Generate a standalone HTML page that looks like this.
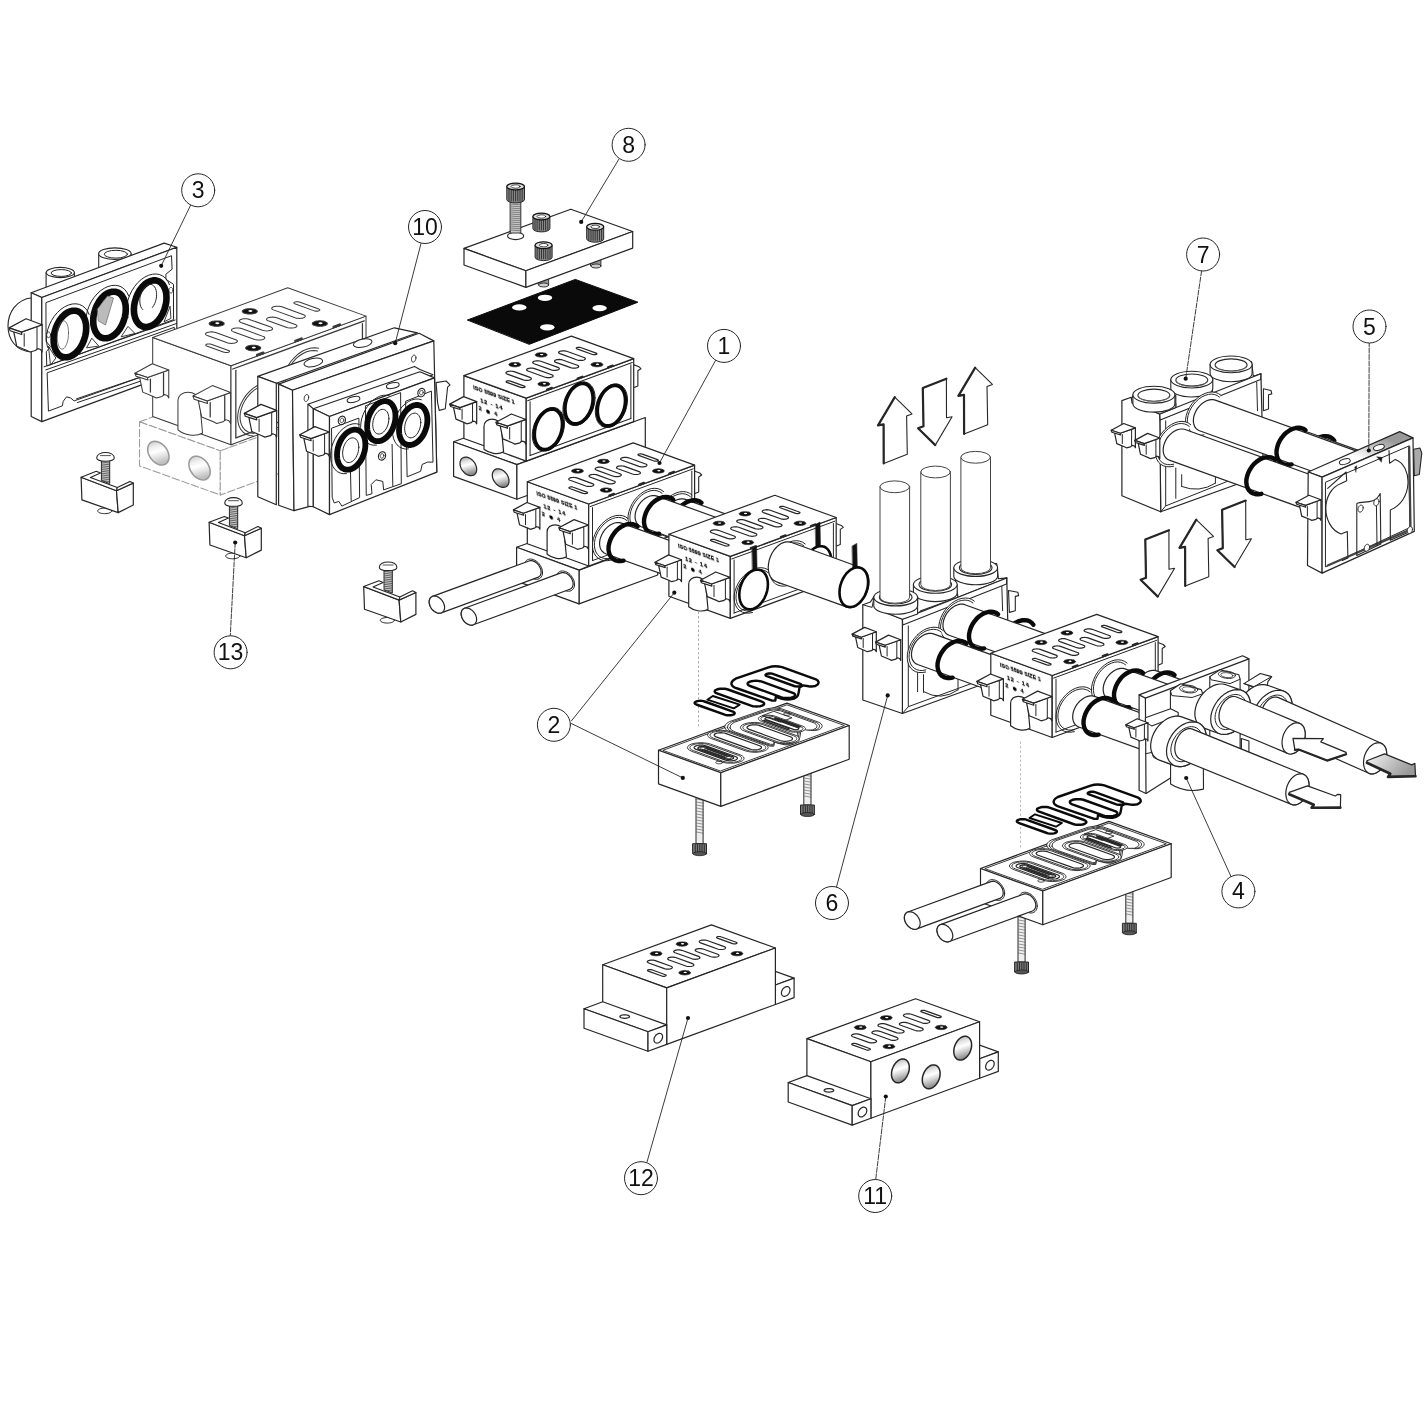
<!DOCTYPE html>
<html><head><meta charset="utf-8"><title>Exploded view</title>
<style>
html,body{margin:0;padding:0;background:#fff;}
svg{display:block;filter:blur(0.35px)}
text{font-family:"Liberation Sans",sans-serif;}
</style></head><body>
<svg width="1425" height="1425" viewBox="0 0 1425 1425" stroke-linejoin="round" stroke-linecap="round">
<defs><linearGradient id="gport" x1="0" y1="0" x2="0.25" y2="1"><stop offset="0" stop-color="#9a9a9a"/><stop offset="0.3" stop-color="#e2e2e2"/><stop offset="0.5" stop-color="#fff"/><stop offset="0.72" stop-color="#cfcfcf"/><stop offset="1" stop-color="#8a8a8a"/></linearGradient><filter id="gray" x="-5%" y="-50%" width="110%" height="200%"><feOffset dx="0" dy="0"/></filter></defs>
<rect x="0" y="0" width="1425" height="1425" fill="#fff"/>
<path d="M32 297.8 C0 301.2 0 351.7 32 351.7 L32 297.8 Z" fill="#fff" stroke="#262626" stroke-width="1.1" />
<path d="M46.1 272.5 L46.1 288.5 L74.4 282.5 L74.4 272.5 Z" fill="#fff" stroke="#262626" stroke-width="1.1" />
<ellipse cx="60.3" cy="272.5" rx="14.1" ry="5.1" fill="#fff" stroke="#262626" stroke-width="1.1"/>
<ellipse cx="61.3" cy="273" rx="10.2" ry="3.4" fill="#fff" stroke="#262626" stroke-width="1"/>
<path d="M98.7 253.7 L98.7 269.7 L131 263.7 L131 253.7 Z" fill="#fff" stroke="#262626" stroke-width="1.1" />
<ellipse cx="114.9" cy="253.7" rx="16.2" ry="5.8" fill="#fff" stroke="#262626" stroke-width="1.1"/>
<ellipse cx="115.9" cy="254.2" rx="11.6" ry="3.9" fill="#fff" stroke="#262626" stroke-width="1"/>
<path d="M31.2 292.7 L164.2 243.1 L176.8 247.3 L41.8 297.5 Z" fill="#fff" stroke="#262626" stroke-width="1.2" />
<path d="M31.2 292.7 L41.8 297.5 L41.8 421.6 L31.2 416.5 Z" fill="#fff" stroke="#262626" stroke-width="1.2" />
<path d="M41.8 297.5 L176.8 247.3 L176.8 371.9 L41.8 421.6 Z" fill="#fff" stroke="#262626" stroke-width="1.2" />
<path d="M46.3 302.5 L171.5 255.7 L172.1 269.2 L165.9 274.2 L165.9 279.3 L173.5 284.3 L173.5 319.7 L46.8 366 L46.3 351.7 L50.5 346.6 L46.3 341.6 Z" fill="none" stroke="#262626" stroke-width="1" />
<path d="M44.1 366.8 L175.2 320" fill="none" stroke="#262626" stroke-width="1" />
<path d="M45.8 369.9 L176.8 323.4" fill="none" stroke="#262626" stroke-width="1" />
<path d="M47.5 372.7 L174.3 327.3 L174.3 365.2 L141.5 376.9 L74.1 400.9 L70.7 398 L66.5 396.8 L63.2 401.4 L62.3 405.9 L48.8 411 Z" fill="none" stroke="#262626" stroke-width="1" />
<path d="M76.6 398.8 L143.2 376.1" fill="none" stroke="#262626" stroke-width="1" />
<path d="M77.5 402.5 L144 380" fill="none" stroke="#262626" stroke-width="1" />
<path d="M48.5 346.6 L50.5 365.2 L55.6 358.4 Z" fill="none" stroke="#262626" stroke-width="0.9" />
<path d="M86.7 347.5 L91.8 338.2 L98.5 345.8 Z" fill="none" stroke="#262626" stroke-width="0.9" />
<path d="M121.3 336.5 L128 326.4 L134.7 333.2 Z" fill="none" stroke="#262626" stroke-width="0.9" />
<path d="M164.2 321.4 L170.1 306.2 L170.9 318 Z" fill="none" stroke="#262626" stroke-width="0.9" />
<path d="M50.5 334.8 L50.5 335.3 L50.4 335.8 L50.2 336.2 L50 336.6 L49.8 337 L49.5 337.3 L49.2 337.5 L48.9 337.6 L48.5 337.6 L48.2 337.6 L47.8 337.5 L47.5 337.3 L47.2 337 L47 336.6 L46.8 336.2 L46.6 335.8 L46.5 335.3 L46.5 334.8 L46.5 334.4 L46.6 333.9 L46.8 333.4 L47 333 L47.2 332.7 L47.5 332.4 L47.8 332.2 L48.2 332.1 L48.5 332 L48.9 332.1 L49.2 332.2 L49.5 332.4 L49.8 332.7 L50 333 L50.2 333.4 L50.4 333.9 L50.5 334.4 L50.5 334.8 Z" fill="none" stroke="#262626" stroke-width="0.9" />
<path d="M172.9 290.2 L172.9 290.7 L172.8 291.2 L172.7 291.6 L172.5 292 L172.2 292.4 L171.9 292.6 L171.6 292.8 L171.3 293 L170.9 293 L170.6 293 L170.3 292.8 L169.9 292.6 L169.7 292.4 L169.4 292 L169.2 291.6 L169.1 291.2 L169 290.7 L168.9 290.2 L169 289.7 L169.1 289.3 L169.2 288.8 L169.4 288.4 L169.7 288.1 L169.9 287.8 L170.3 287.6 L170.6 287.5 L170.9 287.4 L171.3 287.5 L171.6 287.6 L171.9 287.8 L172.2 288.1 L172.5 288.4 L172.7 288.8 L172.8 289.3 L172.9 289.7 L172.9 290.2 Z" fill="none" stroke="#262626" stroke-width="0.9" />
<path d="M89.1 314.5 L87.5 311 L85.3 308.1 L82.5 305.9 L79.4 304.4 L75.9 303.8 L72.2 304 L68.4 305 L64.6 306.8 L60.9 309.3 L57.4 312.5 L54.2 316.3 L51.5 320.5 L49.3 325 L47.7 329.7 L46.7 334.4 L46.4 339.1 L46.7 343.5 L47.7 347.5" fill="none" stroke="#262626" stroke-width="1" />
<path d="M128.7 296 L127 292.5 L124.8 289.6 L122.1 287.4 L119 285.9 L115.5 285.3 L111.8 285.5 L108 286.5 L104.2 288.3 L100.4 290.8 L97 294 L93.8 297.7 L91.1 301.9 L88.9 306.5 L87.3 311.2 L86.3 315.9 L86 320.6 L86.3 324.9 L87.3 329" fill="none" stroke="#262626" stroke-width="1" />
<path d="M169.4 284.7 L167.8 281.2 L165.6 278.3 L162.9 276.1 L159.7 274.6 L156.3 274 L152.6 274.2 L148.7 275.2 L144.9 277 L141.2 279.5 L137.7 282.7 L134.6 286.5 L131.9 290.7 L129.7 295.2 L128 299.9 L127 304.6 L126.7 309.3 L127 313.7 L128 317.7" fill="none" stroke="#262626" stroke-width="1" />
<path d="M86.2 328 L86 324.2 L85.2 320.6 L84 317.5 L82.4 314.9 L80.4 312.8 L78.1 311.4 L75.5 310.7 L72.7 310.7 L69.9 311.4 L67.1 312.8 L64.3 314.8 L61.7 317.4 L59.4 320.5 L57.4 324.1 L55.8 327.9 L54.6 331.9 L53.8 336 L53.6 340 L53.8 343.8 L54.6 347.4 L55.8 350.5 L57.4 353.1 L59.4 355.2 L61.7 356.6 L64.3 357.3 L67.1 357.3 L69.9 356.6 L72.7 355.2 L75.5 353.2 L78.1 350.6 L80.4 347.5 L82.4 343.9 L84 340.1 L85.2 336.1 L86 332 L86.2 328 Z" fill="#fff" stroke="#0a0a0a" stroke-width="6.6" />
<path d="M125.8 309 L125.6 305.2 L124.8 301.6 L123.6 298.5 L122 295.9 L120 293.8 L117.7 292.4 L115.1 291.7 L112.3 291.7 L109.5 292.4 L106.7 293.8 L103.9 295.8 L101.3 298.4 L99 301.5 L97 305.1 L95.4 308.9 L94.2 312.9 L93.4 317 L93.2 321 L93.4 324.8 L94.2 328.4 L95.4 331.5 L97 334.1 L99 336.2 L101.3 337.6 L103.9 338.3 L106.7 338.3 L109.5 337.6 L112.3 336.2 L115.1 334.2 L117.7 331.6 L120 328.5 L122 324.9 L123.6 321.1 L124.8 317.1 L125.6 313 L125.8 309 Z" fill="#fff" stroke="#0a0a0a" stroke-width="6.6" />
<path d="M166.5 297.7 L166.3 293.9 L165.5 290.3 L164.3 287.2 L162.7 284.6 L160.7 282.5 L158.4 281.1 L155.8 280.4 L153 280.4 L150.2 281.1 L147.4 282.5 L144.6 284.5 L142 287.1 L139.7 290.2 L137.7 293.8 L136.1 297.6 L134.9 301.6 L134.1 305.7 L133.9 309.7 L134.1 313.5 L134.9 317.1 L136.1 320.2 L137.7 322.8 L139.7 324.9 L142 326.3 L144.6 327 L147.4 327 L150.2 326.3 L153 324.9 L155.8 322.9 L158.4 320.3 L160.7 317.2 L162.7 313.6 L164.3 309.8 L165.5 305.8 L166.3 301.7 L166.5 297.7 Z" fill="#fff" stroke="#0a0a0a" stroke-width="6.6" />
<path d="M68.5 332.9 L68.4 330.5 L68.2 328.3 L67.8 326.2 L67.2 324.4 L66.5 322.9 L65.7 321.8 L64.8 321.1 L63.9 320.9 L62.9 321 L61.9 321.6 L61 322.6 L60.1 323.9 L59.3 325.6 L58.6 327.6 L58 329.8 L57.6 332.2 L57.4 334.6 L57.3 337.1 L57.4 339.5 L57.6 341.7 L58 343.8 L58.6 345.6 L59.3 347.1 L60.1 348.2 L61 348.9 L61.9 349.1 L62.9 349 L63.9 348.4 L64.8 347.4 L65.7 346.1 L66.5 344.4 L67.2 342.4 L67.8 340.2 L68.2 337.8 L68.4 335.4 L68.5 332.9 Z" fill="none" stroke="#555" stroke-width="0.8" />
<path d="M97.5 309 L107.5 296 L113.5 298 L105.5 325 L98.5 321 Z" fill="#bbb" stroke="#666" stroke-width="0.7" />
<path d="M152.4 307.4 L153.6 305.7 L154.7 303.7 L155.5 301.5 L156.1 299.2 L156.5 296.9 L156.6 294.6 L156.5 292.4 L156.1 290.3 L155.5 288.5 L154.7 287 L153.6 285.8 L152.4 284.9 L151.1 284.4 L149.7 284.4 L148.2 284.7 L146.7 285.4 L145.3 286.5 L144 288 L142.8 289.7 L141.7 291.7 L140.9 293.9 L140.3 296.2 L139.9 298.5 L139.8 300.8 L139.9 303 L140.3 305.1 L140.9 306.9 L141.7 308.4 L142.8 309.6" fill="none" stroke="#262626" stroke-width="1" />
<path d="M13.8 332.1 L16.7 346.2 L27 350.5 L29.9 352 L35.5 350.5 L37.8 348.6 L40.6 349.5 L42.1 352 L42.1 324.7 L21.4 332.1 Z" fill="#fff" stroke="#262626" stroke-width="1.2" />
<path d="M9.1 327.9 L26.1 318.7 L42.1 324.7 L21.4 332.1 Z" fill="#fff" stroke="#262626" stroke-width="1.2" />
<path d="M9.1 327.9 L10.1 330.7 L21.8 334.5 L21.4 332.1 Z" fill="#fff" stroke="#262626" stroke-width="1.2" />
<path d="M24.2 333.7 L24.2 346.2" fill="none" stroke="#262626" stroke-width="1" />
<path d="M37 327.4 L37 349" fill="none" stroke="#262626" stroke-width="1" />
<path d="M145.7 376.3 L147.7 386.4 L155.1 389.5 L157.2 390.5 L161.2 389.5 L162.9 388.1 L164.9 388.7 L165.9 390.5 L165.9 371.1 L151.1 376.3 Z" fill="#fff" stroke="#262626" stroke-width="1.2" />
<path d="M142.3 373.3 L154.5 366.7 L165.9 371.1 L151.1 376.3 Z" fill="#fff" stroke="#262626" stroke-width="1.2" />
<path d="M142.3 373.3 L143 375.3 L151.4 378 L151.1 376.3 Z" fill="#fff" stroke="#262626" stroke-width="1.2" />
<path d="M153.1 377.5 L153.1 386.4" fill="none" stroke="#262626" stroke-width="1" />
<path d="M162.2 373 L162.2 388.4" fill="none" stroke="#262626" stroke-width="1" />
<g transform="translate(152.7 337.4) scale(1.275) translate(-152.7 -337.4)">
<path d="M142.4 403.6 L153.6 399.5 L217 422.3 L205.7 426.4 Z" fill="#fff" stroke="#999" stroke-width="0.8" stroke-dasharray="6 2"/>
<path d="M142.4 403.6 L205.7 426.4 L205.7 461 L142.4 438.2 Z" fill="#fff" stroke="#999" stroke-width="0.8" stroke-dasharray="6 2"/>
<path d="M205.7 426.4 L334.1 379.3 L334.1 413.9 L205.7 461 Z" fill="#fff" stroke="#999" stroke-width="0.8" stroke-dasharray="6 2"/>
<path d="M165.5 431.2 L165.4 429.7 L165 428 L164.4 426.4 L163.6 424.9 L162.5 423.4 L161.3 422.1 L160 421 L158.6 420.1 L157.1 419.4 L155.7 419 L154.3 418.9 L153 419.1 L151.8 419.5 L150.7 420.2 L149.9 421.2 L149.3 422.4 L148.9 423.7 L148.8 425.2 L148.9 426.8 L149.3 428.4 L149.9 430 L150.7 431.6 L151.8 433 L153 434.3 L154.3 435.5 L155.7 436.4 L157.1 437 L158.6 437.4 L160 437.5 L161.3 437.3 L162.5 436.9 L163.6 436.2 L164.4 435.2 L165 434.1 L165.4 432.7 L165.5 431.2 Z" fill="url(#gport)" stroke="#999" stroke-width="1.2" fill-opacity="0.55"/>
<path d="M197.8 442.9 L197.7 441.3 L197.3 439.7 L196.7 438.1 L195.9 436.5 L194.9 435.1 L193.7 433.8 L192.3 432.6 L190.9 431.7 L189.5 431.1 L188 430.7 L186.6 430.6 L185.3 430.7 L184.1 431.2 L183.1 431.9 L182.2 432.9 L181.6 434 L181.2 435.4 L181.1 436.9 L181.2 438.4 L181.6 440.1 L182.2 441.7 L183.1 443.2 L184.1 444.7 L185.3 446 L186.6 447.1 L188 448 L189.5 448.7 L190.9 449.1 L192.3 449.2 L193.7 449 L194.9 448.6 L195.9 447.8 L196.7 446.9 L197.3 445.7 L197.7 444.4 L197.8 442.9 Z" fill="url(#gport)" stroke="#999" stroke-width="1.2" fill-opacity="0.55"/>
<path d="M152.7 337.4 L214.1 359.6 L214.1 421.6 L152.7 399.4 Z" fill="#fff" stroke="#3a3a3a" stroke-width="0.8" />
<path d="M214.1 359.6 L320 320.7 L320 382.7 L214.1 421.6 Z" fill="#fff" stroke="#3a3a3a" stroke-width="0.8" />
<path d="M152.7 337.4 L258.6 298.5 L320 320.7 L214.1 359.6 Z" fill="#fff" stroke="#3a3a3a" stroke-width="0.8" />
<path d="M215.5 362.2 L318.6 324.4" fill="none" stroke="#3a3a3a" stroke-width="1" />
<path d="M217.9 363.2 L217.9 416.2" fill="none" stroke="#3a3a3a" stroke-width="1" />
<path d="M317.2 326.7 L317.2 379.7" fill="none" stroke="#3a3a3a" stroke-width="1" />
<path d="M217.9 416.2 L317.2 379.7" fill="none" stroke="#3a3a3a" stroke-width="1" />
<path d="M234.7 351.2 L239.4 349.5" fill="none" stroke="#3a3a3a" stroke-width="2.2" />
<path d="M264.7 340.2 L269.4 338.5" fill="none" stroke="#3a3a3a" stroke-width="2.2" />
<path d="M294.7 329.2 L299.4 327.5" fill="none" stroke="#3a3a3a" stroke-width="2.2" />
<path d="M208.6 349 L209.2 349.1 L209.8 349.2 L210.4 349.3 L211.1 349.2 L211.7 349.1 L212.2 349 L212.6 348.8 L212.9 348.6 L212.9 348.3 L212.9 348.1 L212.6 347.9 L212.2 347.7 L198.6 342.8 L198.1 342.6 L197.5 342.5 L196.8 342.5 L196.1 342.5 L195.5 342.6 L195 342.8 L194.6 343 L194.4 343.2 L194.3 343.4 L194.4 343.7 L194.6 343.9 L195 344.1 Z" fill="#fff" stroke="#3a3a3a" stroke-width="0.8" />
<path d="M211.2 341.6 L212.2 341.9 L213.3 342 L214.5 342.1 L215.7 342 L216.9 341.9 L217.8 341.6 L218.6 341.2 L219 340.8 L219.2 340.4 L219 339.9 L218.5 339.5 L217.8 339.2 L202.1 333.5 L201.1 333.3 L200 333.1 L198.8 333 L197.6 333.1 L196.4 333.3 L195.5 333.5 L194.7 333.9 L194.3 334.3 L194.1 334.7 L194.3 335.2 L194.8 335.6 L195.5 335.9 Z" fill="#fff" stroke="#3a3a3a" stroke-width="0.8" />
<path d="M232.7 339 L233.7 339.2 L234.8 339.4 L236 339.5 L237.2 339.4 L238.3 339.2 L239.3 339 L240 338.6 L240.5 338.2 L240.6 337.8 L240.5 337.3 L240 336.9 L239.2 336.6 L222.4 330.5 L221.4 330.2 L220.3 330.1 L219.1 330 L217.9 330.1 L216.8 330.2 L215.8 330.5 L215.1 330.8 L214.6 331.3 L214.5 331.7 L214.6 332.1 L215.1 332.5 L215.9 332.9 Z" fill="#fff" stroke="#3a3a3a" stroke-width="0.8" />
<path d="M238.8 331.8 L239.7 332 L240.9 332.2 L242.1 332.3 L243.3 332.2 L244.4 332 L245.4 331.8 L246.1 331.4 L246.6 331 L246.7 330.5 L246.6 330.1 L246.1 329.7 L245.3 329.3 L228.5 323.3 L227.5 323 L226.4 322.8 L225.2 322.8 L224 322.8 L222.9 323 L221.9 323.3 L221.2 323.6 L220.7 324 L220.5 324.5 L220.7 324.9 L221.2 325.3 L221.9 325.7 Z" fill="#fff" stroke="#3a3a3a" stroke-width="0.8" />
<path d="M257.9 329.6 L258.9 329.9 L260 330.1 L261.2 330.1 L262.4 330.1 L263.5 329.9 L264.5 329.6 L265.2 329.3 L265.7 328.9 L265.8 328.4 L265.7 328 L265.2 327.6 L264.5 327.2 L249.9 322 L248.9 321.7 L247.8 321.6 L246.6 321.5 L245.4 321.6 L244.3 321.7 L243.3 322 L242.6 322.3 L242.1 322.8 L242 323.2 L242.1 323.6 L242.6 324.1 L243.3 324.4 Z" fill="#fff" stroke="#3a3a3a" stroke-width="0.8" />
<path d="M264.4 322 L265.4 322.3 L266.5 322.4 L267.8 322.5 L269 322.4 L270.1 322.3 L271 322 L271.8 321.6 L272.2 321.2 L272.4 320.8 L272.2 320.3 L271.7 319.9 L271 319.6 L254 313.4 L253 313.2 L251.9 313 L250.7 312.9 L249.5 313 L248.3 313.2 L247.4 313.4 L246.6 313.8 L246.2 314.2 L246 314.6 L246.2 315.1 L246.7 315.5 L247.4 315.8 Z" fill="#fff" stroke="#3a3a3a" stroke-width="0.8" />
<path d="M279.4 316.6 L280 316.7 L280.6 316.8 L281.2 316.8 L281.9 316.8 L282.5 316.7 L283 316.5 L283.4 316.4 L283.7 316.1 L283.8 315.9 L283.7 315.7 L283.4 315.4 L283 315.2 L267.7 309.7 L267.2 309.6 L266.5 309.5 L265.9 309.5 L265.2 309.5 L264.6 309.6 L264.1 309.7 L263.7 309.9 L263.4 310.1 L263.4 310.4 L263.5 310.6 L263.7 310.8 L264.1 311 Z" fill="#fff" stroke="#3a3a3a" stroke-width="0.8" />
<path d="M207 325.1 L207.7 325.4 L208.2 325.7 L208.6 326 L208.7 326.4 L208.7 326.8 L208.6 327.1 L208.2 327.5 L207.7 327.8 L207.1 328.1 L206.3 328.3 L205.4 328.5 L204.5 328.7 L203.4 328.7 L202.4 328.7 L201.4 328.7 L200.4 328.5 L199.6 328.3 L198.8 328.1 L198.1 327.8 L197.6 327.5 L197.2 327.1 L197 326.8 L197 326.4 L197.2 326 L197.5 325.7 L198.1 325.4 L198.7 325.1 L199.5 324.8 L200.4 324.7 L201.3 324.5 L202.3 324.5 L203.4 324.5 L204.4 324.5 L205.3 324.6 L206.2 324.8 L207 325.1 Z" fill="#111" stroke="#3a3a3a" stroke-width="0.8" />
<path d="M205 326.3 L205 326.4 L204.9 326.5 L204.8 326.6 L204.6 326.7 L204.4 326.8 L204.2 326.9 L203.9 326.9 L203.7 327 L203.4 327 L203.1 327 L202.8 326.9 L202.6 326.9 L202.4 326.8 L202.2 326.7 L202 326.6 L201.9 326.5 L201.8 326.4 L201.8 326.3 L201.8 326.2 L201.9 326 L202 325.9 L202.2 325.8 L202.4 325.8 L202.6 325.7 L202.8 325.6 L203.1 325.6 L203.4 325.6 L203.7 325.6 L203.9 325.6 L204.2 325.7 L204.4 325.8 L204.6 325.8 L204.8 325.9 L204.9 326 L205 326.2 L205 326.3 Z" fill="#fff" stroke="none" stroke-width="0.8" />
<path d="M233 315.5 L233.6 315.8 L234.1 316.1 L234.5 316.4 L234.7 316.8 L234.7 317.2 L234.5 317.5 L234.2 317.9 L233.7 318.2 L233 318.5 L232.2 318.7 L231.4 318.9 L230.4 319.1 L229.4 319.1 L228.4 319.1 L227.4 319.1 L226.4 318.9 L225.5 318.7 L224.7 318.5 L224.1 318.2 L223.5 317.9 L223.2 317.5 L223 317.2 L223 316.8 L223.2 316.4 L223.5 316.1 L224 315.8 L224.7 315.5 L225.4 315.2 L226.3 315.1 L227.3 314.9 L228.3 314.9 L229.3 314.9 L230.3 314.9 L231.3 315.1 L232.2 315.2 L233 315.5 Z" fill="#111" stroke="#3a3a3a" stroke-width="0.8" />
<path d="M230.9 316.7 L230.9 316.8 L230.8 316.9 L230.7 317 L230.6 317.1 L230.4 317.2 L230.1 317.3 L229.9 317.3 L229.6 317.4 L229.3 317.4 L229.1 317.4 L228.8 317.3 L228.5 317.3 L228.3 317.2 L228.1 317.1 L228 317 L227.8 316.9 L227.8 316.8 L227.7 316.7 L227.8 316.6 L227.8 316.5 L228 316.3 L228.1 316.2 L228.3 316.2 L228.5 316.1 L228.8 316 L229.1 316 L229.3 316 L229.6 316 L229.9 316 L230.1 316.1 L230.4 316.2 L230.6 316.2 L230.7 316.3 L230.8 316.5 L230.9 316.6 L230.9 316.7 Z" fill="#fff" stroke="none" stroke-width="0.8" />
<path d="M287.9 325.1 L288.6 325.4 L289.1 325.7 L289.5 326 L289.6 326.4 L289.6 326.8 L289.5 327.1 L289.1 327.5 L288.6 327.8 L288 328.1 L287.2 328.3 L286.3 328.5 L285.4 328.6 L284.3 328.7 L283.3 328.7 L282.3 328.6 L281.3 328.5 L280.5 328.3 L279.7 328.1 L279 327.8 L278.5 327.5 L278.1 327.1 L277.9 326.8 L277.9 326.4 L278.1 326 L278.4 325.7 L279 325.4 L279.6 325.1 L280.4 324.8 L281.3 324.6 L282.2 324.5 L283.2 324.4 L284.3 324.4 L285.3 324.5 L286.2 324.6 L287.1 324.8 L287.9 325.1 Z" fill="#111" stroke="#3a3a3a" stroke-width="0.8" />
<path d="M285.9 326.3 L285.9 326.4 L285.8 326.5 L285.7 326.6 L285.5 326.7 L285.3 326.8 L285.1 326.9 L284.8 326.9 L284.6 327 L284.3 327 L284 327 L283.7 326.9 L283.5 326.9 L283.3 326.8 L283.1 326.7 L282.9 326.6 L282.8 326.5 L282.7 326.4 L282.7 326.3 L282.7 326.2 L282.8 326 L282.9 325.9 L283.1 325.8 L283.3 325.7 L283.5 325.7 L283.7 325.6 L284 325.6 L284.3 325.6 L284.6 325.6 L284.8 325.6 L285.1 325.7 L285.3 325.7 L285.5 325.8 L285.7 325.9 L285.8 326 L285.9 326.2 L285.9 326.3 Z" fill="#fff" stroke="none" stroke-width="0.8" />
<path d="M235.6 344.2 L236.3 344.5 L236.8 344.8 L237.2 345.1 L237.4 345.5 L237.4 345.9 L237.2 346.3 L236.8 346.6 L236.3 346.9 L235.7 347.2 L234.9 347.5 L234 347.6 L233.1 347.8 L232.1 347.8 L231 347.8 L230 347.8 L229.1 347.6 L228.2 347.5 L227.4 347.2 L226.7 346.9 L226.2 346.6 L225.8 346.3 L225.7 345.9 L225.6 345.5 L225.8 345.2 L226.2 344.8 L226.7 344.5 L227.3 344.2 L228.1 344 L229 343.8 L229.9 343.6 L230.9 343.6 L232 343.6 L233 343.6 L233.9 343.8 L234.8 344 L235.6 344.2 Z" fill="#111" stroke="#3a3a3a" stroke-width="0.8" />
<path d="M233.6 345.4 L233.6 345.5 L233.5 345.6 L233.4 345.8 L233.2 345.9 L233 345.9 L232.8 346 L232.6 346.1 L232.3 346.1 L232 346.1 L231.7 346.1 L231.5 346.1 L231.2 346 L231 345.9 L230.8 345.9 L230.6 345.8 L230.5 345.6 L230.4 345.5 L230.4 345.4 L230.4 345.3 L230.5 345.2 L230.6 345.1 L230.8 345 L231 344.9 L231.2 344.8 L231.5 344.7 L231.7 344.7 L232 344.7 L232.3 344.7 L232.6 344.7 L232.8 344.8 L233 344.9 L233.2 345 L233.4 345.1 L233.5 345.2 L233.6 345.3 L233.6 345.4 Z" fill="#fff" stroke="none" stroke-width="0.8" />
<path d="M247.4 372.9 L244.4 372.5 L241.3 372.8 L238 373.6 L234.8 375.1 L231.6 377.2 L228.7 379.8 L226 382.7 L223.7 386.1 L221.8 389.6 L220.4 393.3 L219.6 396.9 L219.3 400.5 L219.6 403.9 L220.4 406.9 L221.8 409.6 L223.7 411.8 L226 413.4 L228.7 414.4 L231.6 414.8" fill="none" stroke="#3a3a3a" stroke-width="0.8" />
<path d="M246.5 375 L243.8 374.6 L241 374.8 L238 375.6 L235.1 377 L232.3 378.8 L229.6 381.1 L227.2 383.8 L225.1 386.8 L223.4 390 L222.2 393.3 L221.4 396.6 L221.2 399.8 L221.4 402.9 L222.2 405.6 L223.4 408 L225.1 410 L227.2 411.4 L229.6 412.3 L232.3 412.7" fill="none" stroke="#3a3a3a" stroke-width="0.8" />
<path d="M282.9 345.9 L279.9 345.5 L276.8 345.8 L273.5 346.6 L270.3 348.1 L267.1 350.2 L264.2 352.8 L261.5 355.7 L259.2 359.1 L257.3 362.6 L255.9 366.3 L255.1 369.9 L254.8 373.5 L255.1 376.9 L255.9 379.9 L257.3 382.6 L259.2 384.8 L261.5 386.4 L264.2 387.4 L267.1 387.8" fill="none" stroke="#3a3a3a" stroke-width="0.8" />
<path d="M282 348 L279.3 347.6 L276.5 347.8 L273.5 348.6 L270.6 350 L267.8 351.8 L265.1 354.1 L262.7 356.8 L260.6 359.8 L258.9 363 L257.7 366.3 L256.9 369.6 L256.7 372.8 L256.9 375.9 L257.7 378.6 L258.9 381 L260.6 383 L262.7 384.4 L265.1 385.3 L267.8 385.7" fill="none" stroke="#3a3a3a" stroke-width="0.8" />
<path d="M172.5 409.9 L172.5 387.5 C172.5 378 188 378 189.5 387.5 L191.8 412.4 C186 415.9 177.5 413.9 172.5 409.9 Z" fill="#fff" stroke="#3a3a3a" stroke-width="0.8" />
<path d="M142.5 368.9 L144.9 380.3 L153.1 383.7 L155.5 384.9 L160 383.7 L161.9 382.2 L164.1 382.9 L165.3 384.9 L165.3 363 L148.6 368.9 Z" fill="#fff" stroke="#3a3a3a" stroke-width="0.8" />
<path d="M138.7 365.5 L152.4 358.1 L165.3 363 L148.6 368.9 Z" fill="#fff" stroke="#3a3a3a" stroke-width="0.8" />
<path d="M138.7 365.5 L139.6 367.8 L149 370.8 L148.6 368.9 Z" fill="#fff" stroke="#3a3a3a" stroke-width="0.8" />
<path d="M150.9 370.2 L150.9 380.3" fill="none" stroke="#3a3a3a" stroke-width="1" />
<path d="M161.2 365.2 L161.2 382.5" fill="none" stroke="#3a3a3a" stroke-width="1" />
<path d="M188.5 387.2 L191.1 399.8 L200.3 403.6 L202.9 404.9 L207.9 403.6 L210 401.9 L212.5 402.7 L213.8 404.9 L213.8 380.6 L195.3 387.2 Z" fill="#fff" stroke="#3a3a3a" stroke-width="0.8" />
<path d="M184.3 383.4 L199.5 375.2 L213.8 380.6 L195.3 387.2 Z" fill="#fff" stroke="#3a3a3a" stroke-width="0.8" />
<path d="M184.3 383.4 L185.2 385.9 L195.7 389.3 L195.3 387.2 Z" fill="#fff" stroke="#3a3a3a" stroke-width="0.8" />
<path d="M197.8 388.6 L197.8 399.8" fill="none" stroke="#3a3a3a" stroke-width="1" />
<path d="M209.2 383 L209.2 402.3" fill="none" stroke="#3a3a3a" stroke-width="1" />
</g>
<path d="M111.7 510.9 L111.6 511.4 L111.3 511.8 L110.7 512.3 L110 512.7 L109.2 513 L108.2 513.3 L107.1 513.5 L105.9 513.6 L104.7 513.7 L103.5 513.6 L102.3 513.5 L101.2 513.3 L100.2 513 L99.3 512.7 L98.6 512.3 L98.1 511.8 L97.8 511.4 L97.7 510.9 L97.8 510.4 L98.1 509.9 L98.6 509.5 L99.3 509.1 L100.2 508.7 L101.2 508.5 L102.3 508.3 L103.5 508.1 L104.7 508.1 L105.9 508.1 L107.1 508.3 L108.2 508.5 L109.2 508.7 L110 509.1 L110.7 509.5 L111.3 509.9 L111.6 510.4 L111.7 510.9 Z" fill="#fff" stroke="#262626" stroke-width="1" />
<path d="M90.4 477.5 L100.5 473 L129.9 481.4 L117.3 488.1 Z" fill="#fff" stroke="none" stroke-width="1.2" />
<path d="M101.8 459.5 L109.7 459.5 L109.7 483.6 L101.8 480.6 Z" fill="#d0d0d0" stroke="#262626" stroke-width="1" />
<path d="M101.8 462 L109.7 463.1" fill="none" stroke="#333" stroke-width="0.7" />
<path d="M101.8 463.9 L109.7 464.9" fill="none" stroke="#333" stroke-width="0.7" />
<path d="M101.8 465.7 L109.7 466.8" fill="none" stroke="#333" stroke-width="0.7" />
<path d="M101.8 467.6 L109.7 468.6" fill="none" stroke="#333" stroke-width="0.7" />
<path d="M101.8 469.5 L109.7 470.5" fill="none" stroke="#333" stroke-width="0.7" />
<path d="M101.8 471.3 L109.7 472.3" fill="none" stroke="#333" stroke-width="0.7" />
<path d="M101.8 473.2 L109.7 474.2" fill="none" stroke="#333" stroke-width="0.7" />
<path d="M101.8 475 L109.7 476" fill="none" stroke="#333" stroke-width="0.7" />
<path d="M101.8 476.9 L109.7 477.9" fill="none" stroke="#333" stroke-width="0.7" />
<path d="M101.8 478.7 L109.7 479.7" fill="none" stroke="#333" stroke-width="0.7" />
<path d="M101.8 480.6 L109.7 481.6" fill="none" stroke="#333" stroke-width="0.7" />
<path d="M96.7 457.8 C96.7 450.8 114.3 450.8 114.3 457.8 C114.3 462.3 96.7 462.3 96.7 457.8 Z" fill="#fff" stroke="#262626" stroke-width="1.1" />
<path d="M100.5 455.6 L110.5 455.6" fill="none" stroke="#262626" stroke-width="0.8" />
<path d="M81.1 477.2 L116.5 490.7 L118.2 512.6 L81.9 499.9 Z" fill="#fff" stroke="#262626" stroke-width="1.2" />
<path d="M116.5 490.7 L133.3 483.1 L133.3 505 L118.2 512.6 Z" fill="#fff" stroke="#262626" stroke-width="1.2" />
<path d="M81.1 477.2 L96.3 471.3 L100.5 473 L90.4 477.5 L117.3 487.6 L116.5 490.7 Z" fill="#fff" stroke="#262626" stroke-width="1.1" />
<path d="M116.5 490.7 L117.3 487.6 L129.9 481.4 L133.3 483.1 Z" fill="#fff" stroke="#262626" stroke-width="1.1" />
<path d="M436.1 382.6 L446.1 381 L450 384.9 L447.6 387.2 L445.3 408.8 L439.2 410.4 L437.6 402.6 Z" fill="#fff" stroke="#262626" stroke-width="1.1" />
<path d="M257.8 376.4 L394.4 327.8 L417.5 332.8 L276.3 383.3 Z" fill="#fff" stroke="#262626" stroke-width="1.2" />
<path d="M257.8 376.4 L276.3 383.3 L276.3 504.8 L257.8 496.8 Z" fill="#fff" stroke="#262626" stroke-width="1.2" />
<path d="M278.6 384.1 L419.1 333.2 L433.8 340.9 L292.5 390.3 Z" fill="#fff" stroke="#262626" stroke-width="1.2" />
<path d="M278.6 384.1 L292.5 390.3 L294 510.7 L278.6 505.3 Z" fill="#fff" stroke="#262626" stroke-width="1.2" />
<path d="M292.5 390.3 L433.8 340.9 L436.8 472.1 L294 510.7 Z" fill="#fff" stroke="#262626" stroke-width="1.2" />
<path d="M276.3 383.3 L278.6 384.1" fill="none" stroke="#262626" stroke-width="1" />
<ellipse cx="313.3" cy="362.5" rx="9.5" ry="4" fill="#fff" stroke="#262626" stroke-width="1" transform="rotate(-12 313.3 362.5)"/>
<ellipse cx="362.7" cy="343.2" rx="9.5" ry="4" fill="#fff" stroke="#262626" stroke-width="1" transform="rotate(-12 362.7 343.2)"/>
<path d="M308.6 397.2 L308.6 397.8 L308.5 398.4 L308.3 399 L308.1 399.6 L307.8 400.1 L307.5 400.5 L307.1 400.9 L306.8 401.2 L306.4 401.4 L306 401.5 L305.6 401.5 L305.3 401.3 L305 401.1 L304.7 400.8 L304.5 400.4 L304.3 399.9 L304.2 399.4 L304.2 398.8 L304.2 398.2 L304.3 397.6 L304.5 397 L304.7 396.4 L305 395.9 L305.3 395.5 L305.6 395.1 L306 394.8 L306.4 394.6 L306.8 394.5 L307.1 394.5 L307.5 394.7 L307.8 394.9 L308.1 395.2 L308.3 395.6 L308.5 396.1 L308.6 396.6 L308.6 397.2 Z" fill="none" stroke="#262626" stroke-width="1" />
<path d="M415.9 357.8 L415.9 358.4 L415.8 359 L415.6 359.6 L415.4 360.2 L415.1 360.7 L414.8 361.2 L414.4 361.6 L414.1 361.8 L413.7 362 L413.3 362.1 L412.9 362.1 L412.6 362 L412.3 361.8 L412 361.4 L411.8 361 L411.6 360.5 L411.5 360 L411.5 359.4 L411.5 358.8 L411.6 358.2 L411.8 357.6 L412 357.1 L412.3 356.5 L412.6 356.1 L412.9 355.7 L413.3 355.4 L413.7 355.2 L414.1 355.1 L414.4 355.2 L414.8 355.3 L415.1 355.5 L415.4 355.8 L415.6 356.2 L415.8 356.7 L415.9 357.3 L415.9 357.8 Z" fill="none" stroke="#262626" stroke-width="1" />
<path d="M307.9 404.2 L414.5 366.4 L419.9 369.4 L433 374.8 L329.5 416.5 L313.3 408.8 Z" fill="#fff" stroke="#262626" stroke-width="1.1" />
<path d="M307.9 404.2 L313.3 408.8 L313.3 506.8 L307.9 506.1 Z" fill="#fff" stroke="#262626" stroke-width="1.1" />
<path d="M313.3 408.8 L419.9 371.8 L434.5 377.9 L329.5 416.5 Z" fill="#fff" stroke="#262626" stroke-width="1.2" />
<path d="M313.3 408.8 L329.5 416.5 L329.5 514.6 L313.3 506.8 Z" fill="#fff" stroke="#262626" stroke-width="1.2" />
<path d="M329.5 416.5 L434.5 377.9 L436.8 472.1 L329.5 514.6 Z" fill="#fff" stroke="#262626" stroke-width="1.2" />
<ellipse cx="353.5" cy="399.5" rx="6.5" ry="2.8" fill="#fff" stroke="#262626" stroke-width="1" transform="rotate(-12 353.5 399.5)"/>
<ellipse cx="392.8" cy="385.6" rx="6.5" ry="2.8" fill="#fff" stroke="#262626" stroke-width="1" transform="rotate(-12 392.8 385.6)"/>
<path d="M331.9 428.1 L358.9 418.1 L359.6 497.6 L341.9 506.1 L338.8 501.4 L334.2 503 L332.3 497.6 Z" fill="none" stroke="#262626" stroke-width="1" />
<path d="M365.8 405.7 L400.6 392.6 L401.3 483.7 L383.6 489.9 L382.8 481.4 L375.9 479.8 L371.2 484.5 L372 493.7 L366.6 495.3 Z" fill="none" stroke="#262626" stroke-width="1" />
<path d="M406 401.1 L431.4 391.1 L433 462.1 L427.6 462.1 L422.2 464.4 L420.6 471.3 L407.5 476.7 Z" fill="none" stroke="#262626" stroke-width="1" />
<path d="M350.4 469 L351.2 500.7" fill="none" stroke="#262626" stroke-width="1" />
<path d="M392.1 444.3 L392.8 486" fill="none" stroke="#262626" stroke-width="1" />
<path d="M421.3 399.7 L418.3 399 L415 399.1 L411.7 400 L408.4 401.6 L405.1 403.9 L402.1 406.7 L399.4 410.1 L397 414 L395.1 418.1 L393.6 422.4 L392.8 426.8 L392.5 431.1 L392.8 435.1 L393.6 438.8 L395.1 442.1 L397 444.8 L399.4 446.9 L402.1 448.3 L405.1 449 L408.4 448.9" fill="none" stroke="#262626" stroke-width="1" />
<path d="M427.4 419.8 L427.2 416.5 L426.6 413.5 L425.5 410.8 L424.1 408.5 L422.4 406.8 L420.3 405.6 L418.1 405 L415.7 405 L413.2 405.6 L410.7 406.8 L408.3 408.6 L406.1 410.8 L404 413.5 L402.3 416.5 L400.9 419.8 L399.8 423.3 L399.2 426.8 L399 430.2 L399.2 433.5 L399.8 436.5 L400.9 439.2 L402.3 441.5 L404 443.2 L406.1 444.4 L408.3 445 L410.7 445 L413.2 444.4 L415.7 443.2 L418.1 441.4 L420.3 439.2 L422.4 436.5 L424.1 433.5 L425.5 430.2 L426.6 426.7 L427.2 423.2 L427.4 419.8 Z" fill="#fff" stroke="#0a0a0a" stroke-width="5.8" />
<path d="M420.8 422.5 L420.6 420.5 L420.3 418.6 L419.7 416.9 L418.9 415.5 L417.9 414.4 L416.7 413.6 L415.5 413.2 L414.1 413.2 L412.7 413.5 L411.3 414.2 L409.9 415.2 L408.7 416.6 L407.5 418.2 L406.5 420.1 L405.7 422.1 L405.1 424.2 L404.8 426.3 L404.6 428.5 L404.8 430.5 L405.1 432.4 L405.7 434.1 L406.5 435.5 L407.5 436.6 L408.7 437.4 L409.9 437.8 L411.3 437.8 L412.7 437.5 L414.1 436.8 L415.5 435.8 L416.7 434.4 L417.9 432.8 L418.9 430.9 L419.7 428.9 L420.3 426.8 L420.6 424.7 L420.8 422.5 Z" fill="#fff" stroke="#262626" stroke-width="1" />
<path d="M389.4 395.9 L386.4 395.2 L383.1 395.3 L379.8 396.2 L376.5 397.8 L373.2 400.1 L370.2 402.9 L367.5 406.3 L365.1 410.2 L363.2 414.3 L361.7 418.6 L360.9 423 L360.6 427.3 L360.9 431.3 L361.7 435 L363.2 438.3 L365.1 441 L367.5 443.1 L370.2 444.5 L373.2 445.2 L376.5 445.1" fill="none" stroke="#262626" stroke-width="1" />
<path d="M395.5 416 L395.3 412.7 L394.7 409.7 L393.6 407 L392.2 404.7 L390.5 403 L388.4 401.8 L386.2 401.2 L383.8 401.2 L381.3 401.8 L378.8 403 L376.4 404.8 L374.2 407 L372.1 409.7 L370.4 412.7 L369 416 L367.9 419.5 L367.3 423 L367.1 426.4 L367.3 429.7 L367.9 432.7 L369 435.4 L370.4 437.7 L372.1 439.4 L374.2 440.6 L376.4 441.2 L378.8 441.2 L381.3 440.6 L383.8 439.4 L386.2 437.6 L388.4 435.4 L390.5 432.7 L392.2 429.7 L393.6 426.4 L394.7 422.9 L395.3 419.4 L395.5 416 Z" fill="#fff" stroke="#0a0a0a" stroke-width="5.8" />
<path d="M388.9 418.7 L388.7 416.7 L388.4 414.8 L387.8 413.1 L387 411.7 L386 410.6 L384.8 409.8 L383.6 409.4 L382.2 409.4 L380.8 409.7 L379.4 410.4 L378 411.4 L376.8 412.8 L375.6 414.4 L374.6 416.3 L373.8 418.3 L373.2 420.4 L372.9 422.5 L372.7 424.7 L372.9 426.7 L373.2 428.6 L373.8 430.3 L374.6 431.7 L375.6 432.8 L376.8 433.6 L378 434 L379.4 434 L380.8 433.7 L382.2 433 L383.6 432 L384.8 430.6 L386 429 L387 427.1 L387.8 425.1 L388.4 423 L388.7 420.9 L388.9 418.7 Z" fill="#fff" stroke="#262626" stroke-width="1" />
<path d="M359.3 424.4 L356.3 423.7 L353 423.8 L349.7 424.7 L346.4 426.3 L343.1 428.6 L340.1 431.4 L337.4 434.8 L335 438.7 L333.1 442.8 L331.6 447.1 L330.8 451.5 L330.5 455.8 L330.8 459.8 L331.6 463.5 L333.1 466.8 L335 469.5 L337.4 471.6 L340.1 473 L343.1 473.7 L346.4 473.6" fill="none" stroke="#262626" stroke-width="1" />
<path d="M365.4 444.5 L365.2 441.2 L364.6 438.2 L363.5 435.5 L362.1 433.2 L360.4 431.5 L358.3 430.3 L356.1 429.7 L353.7 429.7 L351.2 430.3 L348.7 431.5 L346.3 433.3 L344.1 435.5 L342 438.2 L340.3 441.2 L338.9 444.5 L337.8 448 L337.2 451.5 L337 454.9 L337.2 458.2 L337.8 461.2 L338.9 463.9 L340.3 466.2 L342 467.9 L344.1 469.1 L346.3 469.7 L348.7 469.7 L351.2 469.1 L353.7 467.9 L356.1 466.1 L358.3 463.9 L360.4 461.2 L362.1 458.2 L363.5 454.9 L364.6 451.4 L365.2 447.9 L365.4 444.5 Z" fill="#fff" stroke="#0a0a0a" stroke-width="5.8" />
<path d="M358.8 447.2 L358.6 445.2 L358.3 443.3 L357.7 441.6 L356.9 440.2 L355.9 439.1 L354.7 438.3 L353.5 437.9 L352.1 437.9 L350.7 438.2 L349.3 438.9 L347.9 439.9 L346.7 441.3 L345.5 442.9 L344.5 444.8 L343.7 446.8 L343.1 448.9 L342.8 451 L342.6 453.2 L342.8 455.2 L343.1 457.1 L343.7 458.8 L344.5 460.2 L345.5 461.3 L346.7 462.1 L347.9 462.5 L349.3 462.5 L350.7 462.2 L352.1 461.5 L353.5 460.5 L354.7 459.1 L355.9 457.5 L356.9 455.6 L357.7 453.6 L358.3 451.5 L358.6 449.4 L358.8 447.2 Z" fill="#fff" stroke="#262626" stroke-width="1" />
<path d="M345.5 419.8 L345.4 420.5 L345.3 421.3 L345 422 L344.7 422.6 L344.2 423.2 L343.7 423.7 L343.1 424.1 L342.5 424.4 L341.9 424.6 L341.3 424.6 L340.7 424.5 L340.1 424.3 L339.6 424 L339.1 423.5 L338.8 423 L338.5 422.4 L338.3 421.7 L338.3 421 L338.3 420.2 L338.5 419.5 L338.8 418.8 L339.1 418.1 L339.6 417.6 L340.1 417 L340.7 416.6 L341.3 416.4 L341.9 416.2 L342.5 416.1 L343.1 416.2 L343.7 416.4 L344.2 416.8 L344.7 417.2 L345 417.8 L345.3 418.4 L345.4 419.1 L345.5 419.8 Z" fill="#fff" stroke="#262626" stroke-width="1.1" />
<path d="M343.7 420.1 L343.7 420.5 L343.6 420.9 L343.5 421.2 L343.3 421.6 L343.1 421.9 L342.8 422.1 L342.5 422.4 L342.2 422.5 L341.9 422.6 L341.6 422.6 L341.3 422.6 L341 422.4 L340.7 422.3 L340.5 422 L340.3 421.7 L340.2 421.4 L340.1 421.1 L340.1 420.7 L340.1 420.3 L340.2 419.9 L340.3 419.5 L340.5 419.2 L340.7 418.9 L341 418.6 L341.3 418.4 L341.6 418.3 L341.9 418.2 L342.2 418.2 L342.5 418.2 L342.8 418.3 L343.1 418.5 L343.3 418.7 L343.5 419 L343.6 419.4 L343.7 419.7 L343.7 420.1 Z" fill="none" stroke="#262626" stroke-width="0.9" />
<path d="M425 392 L424.9 392.7 L424.8 393.5 L424.5 394.2 L424.2 394.8 L423.7 395.4 L423.2 395.9 L422.6 396.3 L422 396.6 L421.4 396.8 L420.8 396.8 L420.2 396.7 L419.6 396.5 L419.1 396.2 L418.6 395.8 L418.3 395.2 L418 394.6 L417.9 393.9 L417.8 393.2 L417.9 392.5 L418 391.7 L418.3 391 L418.6 390.4 L419.1 389.8 L419.6 389.3 L420.2 388.9 L420.8 388.6 L421.4 388.4 L422 388.4 L422.6 388.4 L423.2 388.7 L423.7 389 L424.2 389.4 L424.5 390 L424.8 390.6 L424.9 391.3 L425 392 Z" fill="#fff" stroke="#262626" stroke-width="1.1" />
<path d="M423.2 392.3 L423.2 392.7 L423.1 393.1 L423 393.4 L422.8 393.8 L422.6 394.1 L422.3 394.4 L422 394.6 L421.7 394.7 L421.4 394.8 L421.1 394.8 L420.8 394.8 L420.5 394.7 L420.2 394.5 L420 394.2 L419.8 394 L419.7 393.6 L419.6 393.3 L419.6 392.9 L419.6 392.5 L419.7 392.1 L419.8 391.8 L420 391.4 L420.2 391.1 L420.5 390.8 L420.8 390.6 L421.1 390.5 L421.4 390.4 L421.7 390.4 L422 390.4 L422.3 390.5 L422.6 390.7 L422.8 391 L423 391.2 L423.1 391.6 L423.2 391.9 L423.2 392.3 Z" fill="none" stroke="#262626" stroke-width="0.9" />
<path d="M385.6 455.3 L385.6 456 L385.4 456.8 L385.2 457.5 L384.8 458.1 L384.3 458.7 L383.8 459.2 L383.3 459.6 L382.7 459.9 L382 460.1 L381.4 460.1 L380.8 460 L380.2 459.8 L379.7 459.5 L379.3 459.1 L378.9 458.5 L378.7 457.9 L378.5 457.2 L378.4 456.5 L378.5 455.8 L378.7 455 L378.9 454.3 L379.3 453.7 L379.7 453.1 L380.2 452.6 L380.8 452.2 L381.4 451.9 L382 451.7 L382.7 451.7 L383.3 451.7 L383.8 452 L384.3 452.3 L384.8 452.7 L385.2 453.3 L385.4 453.9 L385.6 454.6 L385.6 455.3 Z" fill="#fff" stroke="#262626" stroke-width="1.1" />
<path d="M383.8 455.6 L383.8 456 L383.7 456.4 L383.6 456.7 L383.4 457.1 L383.2 457.4 L382.9 457.6 L382.7 457.9 L382.3 458 L382 458.1 L381.7 458.1 L381.4 458.1 L381.1 457.9 L380.9 457.8 L380.7 457.5 L380.5 457.3 L380.3 456.9 L380.3 456.6 L380.2 456.2 L380.3 455.8 L380.3 455.4 L380.5 455.1 L380.7 454.7 L380.9 454.4 L381.1 454.1 L381.4 453.9 L381.7 453.8 L382 453.7 L382.3 453.7 L382.7 453.7 L382.9 453.8 L383.2 454 L383.4 454.3 L383.6 454.5 L383.7 454.9 L383.8 455.2 L383.8 455.6 Z" fill="none" stroke="#262626" stroke-width="0.9" />
<path d="M248.9 417.6 L251.8 431.5 L261.9 435.7 L264.8 437.1 L270.3 435.7 L272.6 433.8 L275.3 434.7 L276.7 437.1 L276.7 410.4 L256.4 417.6 Z" fill="#fff" stroke="#262626" stroke-width="1.2" />
<path d="M244.3 413.4 L261 404.4 L276.7 410.4 L256.4 417.6 Z" fill="#fff" stroke="#262626" stroke-width="1.2" />
<path d="M244.3 413.4 L245.3 416.2 L256.8 419.9 L256.4 417.6 Z" fill="#fff" stroke="#262626" stroke-width="1.2" />
<path d="M259.1 419.2 L259.1 431.5" fill="none" stroke="#262626" stroke-width="1" />
<path d="M271.7 413 L271.7 434.2" fill="none" stroke="#262626" stroke-width="1" />
<path d="M303.9 438.6 L306.5 451.2 L315.7 455 L318.3 456.3 L323.3 455 L325.4 453.3 L327.9 454.1 L329.2 456.3 L329.2 432 L310.7 438.6 Z" fill="#fff" stroke="#262626" stroke-width="1.2" />
<path d="M299.7 434.8 L314.9 426.6 L329.2 432 L310.7 438.6 Z" fill="#fff" stroke="#262626" stroke-width="1.2" />
<path d="M299.7 434.8 L300.6 437.3 L311.1 440.7 L310.7 438.6 Z" fill="#fff" stroke="#262626" stroke-width="1.2" />
<path d="M313.2 440 L313.2 451.2" fill="none" stroke="#262626" stroke-width="1" />
<path d="M324.6 434.4 L324.6 453.7" fill="none" stroke="#262626" stroke-width="1" />
<path d="M239.7 556 L239.6 556.5 L239.3 556.9 L238.7 557.4 L238 557.8 L237.2 558.1 L236.2 558.4 L235.1 558.6 L233.9 558.7 L232.7 558.8 L231.5 558.7 L230.3 558.6 L229.2 558.4 L228.2 558.1 L227.3 557.8 L226.6 557.4 L226.1 556.9 L225.8 556.5 L225.7 556 L225.8 555.5 L226.1 555 L226.6 554.6 L227.3 554.2 L228.2 553.8 L229.2 553.6 L230.3 553.4 L231.5 553.2 L232.7 553.2 L233.9 553.2 L235.1 553.4 L236.2 553.6 L237.2 553.8 L238 554.2 L238.7 554.6 L239.3 555 L239.6 555.5 L239.7 556 Z" fill="#fff" stroke="#262626" stroke-width="1" />
<path d="M218.4 522.6 L228.5 518.1 L257.9 526.5 L245.3 533.2 Z" fill="#fff" stroke="none" stroke-width="1.2" />
<path d="M229.8 504.6 L237.7 504.6 L237.7 528.7 L229.8 525.7 Z" fill="#d0d0d0" stroke="#262626" stroke-width="1" />
<path d="M229.8 507.1 L237.7 508.2" fill="none" stroke="#333" stroke-width="0.7" />
<path d="M229.8 509 L237.7 510" fill="none" stroke="#333" stroke-width="0.7" />
<path d="M229.8 510.8 L237.7 511.9" fill="none" stroke="#333" stroke-width="0.7" />
<path d="M229.8 512.7 L237.7 513.7" fill="none" stroke="#333" stroke-width="0.7" />
<path d="M229.8 514.6 L237.7 515.6" fill="none" stroke="#333" stroke-width="0.7" />
<path d="M229.8 516.4 L237.7 517.4" fill="none" stroke="#333" stroke-width="0.7" />
<path d="M229.8 518.3 L237.7 519.3" fill="none" stroke="#333" stroke-width="0.7" />
<path d="M229.8 520.1 L237.7 521.1" fill="none" stroke="#333" stroke-width="0.7" />
<path d="M229.8 522 L237.7 523" fill="none" stroke="#333" stroke-width="0.7" />
<path d="M229.8 523.8 L237.7 524.8" fill="none" stroke="#333" stroke-width="0.7" />
<path d="M229.8 525.7 L237.7 526.7" fill="none" stroke="#333" stroke-width="0.7" />
<path d="M224.7 502.9 C224.7 495.9 242.3 495.9 242.3 502.9 C242.3 507.4 224.7 507.4 224.7 502.9 Z" fill="#fff" stroke="#262626" stroke-width="1.1" />
<path d="M228.5 500.7 L238.5 500.7" fill="none" stroke="#262626" stroke-width="0.8" />
<path d="M209.1 522.3 L244.5 535.8 L246.2 557.7 L209.9 545 Z" fill="#fff" stroke="#262626" stroke-width="1.2" />
<path d="M244.5 535.8 L261.3 528.2 L261.3 550.1 L246.2 557.7 Z" fill="#fff" stroke="#262626" stroke-width="1.2" />
<path d="M209.1 522.3 L224.3 516.4 L228.5 518.1 L218.4 522.6 L245.3 532.7 L244.5 535.8 Z" fill="#fff" stroke="#262626" stroke-width="1.1" />
<path d="M244.5 535.8 L245.3 532.7 L257.9 526.5 L261.3 528.2 Z" fill="#fff" stroke="#262626" stroke-width="1.1" />
<path d="M453.6 441.8 L464.8 437.7 L528.2 460.5 L516.9 464.6 Z" fill="#fff" stroke="#262626" stroke-width="1.2" />
<path d="M453.6 441.8 L516.9 464.6 L516.9 499.2 L453.6 476.4 Z" fill="#fff" stroke="#262626" stroke-width="1.2" />
<path d="M516.9 464.6 L645.3 417.5 L645.3 452.1 L516.9 499.2 Z" fill="#fff" stroke="#262626" stroke-width="1.2" />
<path d="M476.7 469.4 L476.6 467.9 L476.2 466.2 L475.6 464.6 L474.8 463.1 L473.7 461.6 L472.5 460.3 L471.2 459.2 L469.8 458.3 L468.3 457.6 L466.9 457.2 L465.5 457.1 L464.2 457.3 L463 457.7 L461.9 458.4 L461.1 459.4 L460.5 460.6 L460.1 461.9 L460 463.4 L460.1 465 L460.5 466.6 L461.1 468.2 L461.9 469.8 L463 471.2 L464.2 472.5 L465.5 473.7 L466.9 474.6 L468.3 475.2 L469.8 475.6 L471.2 475.7 L472.5 475.5 L473.7 475.1 L474.8 474.4 L475.6 473.4 L476.2 472.3 L476.6 470.9 L476.7 469.4 Z" fill="url(#gport)" stroke="#262626" stroke-width="1.2" />
<path d="M509 481.1 L508.9 479.5 L508.5 477.9 L507.9 476.3 L507.1 474.7 L506.1 473.3 L504.9 472 L503.5 470.8 L502.1 469.9 L500.7 469.3 L499.2 468.9 L497.8 468.8 L496.5 468.9 L495.3 469.4 L494.3 470.1 L493.4 471.1 L492.8 472.2 L492.4 473.6 L492.3 475.1 L492.4 476.6 L492.8 478.3 L493.4 479.9 L494.3 481.4 L495.3 482.9 L496.5 484.2 L497.8 485.3 L499.2 486.2 L500.7 486.9 L502.1 487.3 L503.5 487.4 L504.9 487.2 L506.1 486.8 L507.1 486 L507.9 485.1 L508.5 483.9 L508.9 482.6 L509 481.1 Z" fill="url(#gport)" stroke="#262626" stroke-width="1.2" />
<g transform="translate(463.9 375.6) scale(1.015) translate(-463.9 -375.6)">
<path d="M628.3 363.8 L636.3 366.8 L638.3 368.8 L635.3 370.8 L635.3 385.8 L630.3 387.8 L629.3 373.8 Z" fill="#fff" stroke="#262626" stroke-width="1.1" />
<path d="M463.9 375.6 L525.3 397.8 L525.3 459.8 L463.9 437.6 Z" fill="#fff" stroke="#262626" stroke-width="1.2" />
<path d="M525.3 397.8 L631.2 358.9 L631.2 420.9 L525.3 459.8 Z" fill="#fff" stroke="#262626" stroke-width="1.2" />
<path d="M463.9 375.6 L569.8 336.7 L631.2 358.9 L525.3 397.8 Z" fill="#fff" stroke="#262626" stroke-width="1.2" />
<path d="M526.7 400.4 L629.8 362.6" fill="none" stroke="#262626" stroke-width="1" />
<path d="M529.1 401.4 L529.1 454.4" fill="none" stroke="#262626" stroke-width="1" />
<path d="M628.4 364.9 L628.4 417.9" fill="none" stroke="#262626" stroke-width="1" />
<path d="M529.1 454.4 L628.4 417.9" fill="none" stroke="#262626" stroke-width="1" />
<path d="M545.9 389.4 L550.6 387.7" fill="none" stroke="#262626" stroke-width="2.2" />
<path d="M575.9 378.4 L580.6 376.7" fill="none" stroke="#262626" stroke-width="2.2" />
<path d="M605.9 367.4 L610.6 365.7" fill="none" stroke="#262626" stroke-width="2.2" />
<path d="M519.8 387.2 L520.4 387.3 L521 387.4 L521.6 387.5 L522.3 387.4 L522.9 387.3 L523.4 387.2 L523.8 387 L524.1 386.8 L524.1 386.5 L524.1 386.3 L523.8 386.1 L523.4 385.9 L509.8 381 L509.3 380.8 L508.7 380.7 L508 380.7 L507.3 380.7 L506.7 380.8 L506.2 381 L505.8 381.2 L505.6 381.4 L505.5 381.6 L505.6 381.9 L505.8 382.1 L506.2 382.3 Z" fill="#fff" stroke="#262626" stroke-width="1.2" />
<path d="M522.4 379.8 L523.4 380.1 L524.5 380.2 L525.7 380.3 L526.9 380.2 L528.1 380.1 L529 379.8 L529.8 379.4 L530.2 379 L530.4 378.6 L530.2 378.1 L529.7 377.7 L529 377.4 L513.3 371.7 L512.3 371.5 L511.2 371.3 L510 371.2 L508.8 371.3 L507.6 371.5 L506.7 371.7 L505.9 372.1 L505.5 372.5 L505.3 372.9 L505.5 373.4 L506 373.8 L506.7 374.1 Z" fill="#fff" stroke="#262626" stroke-width="1.2" />
<path d="M543.9 377.2 L544.9 377.4 L546 377.6 L547.2 377.7 L548.4 377.6 L549.5 377.4 L550.5 377.2 L551.2 376.8 L551.7 376.4 L551.8 376 L551.7 375.5 L551.2 375.1 L550.4 374.8 L533.6 368.7 L532.6 368.4 L531.5 368.3 L530.3 368.2 L529.1 368.3 L528 368.4 L527 368.7 L526.3 369 L525.8 369.5 L525.7 369.9 L525.8 370.3 L526.3 370.7 L527.1 371.1 Z" fill="#fff" stroke="#262626" stroke-width="1.2" />
<path d="M550 370 L550.9 370.2 L552.1 370.4 L553.3 370.5 L554.5 370.4 L555.6 370.2 L556.6 370 L557.3 369.6 L557.8 369.2 L557.9 368.7 L557.8 368.3 L557.3 367.9 L556.5 367.5 L539.7 361.5 L538.7 361.2 L537.6 361 L536.4 361 L535.2 361 L534.1 361.2 L533.1 361.5 L532.4 361.8 L531.9 362.2 L531.7 362.7 L531.9 363.1 L532.4 363.5 L533.1 363.9 Z" fill="#fff" stroke="#262626" stroke-width="1.2" />
<path d="M569.1 367.8 L570.1 368.1 L571.2 368.3 L572.4 368.3 L573.6 368.3 L574.7 368.1 L575.7 367.8 L576.4 367.5 L576.9 367.1 L577 366.6 L576.9 366.2 L576.4 365.8 L575.7 365.4 L561.1 360.2 L560.1 359.9 L559 359.8 L557.8 359.7 L556.6 359.8 L555.5 359.9 L554.5 360.2 L553.8 360.5 L553.3 361 L553.2 361.4 L553.3 361.8 L553.8 362.3 L554.5 362.6 Z" fill="#fff" stroke="#262626" stroke-width="1.2" />
<path d="M575.6 360.2 L576.6 360.5 L577.7 360.6 L579 360.7 L580.2 360.6 L581.3 360.5 L582.2 360.2 L583 359.8 L583.4 359.4 L583.6 359 L583.4 358.5 L582.9 358.1 L582.2 357.8 L565.2 351.6 L564.2 351.4 L563.1 351.2 L561.9 351.1 L560.7 351.2 L559.5 351.4 L558.6 351.6 L557.8 352 L557.4 352.4 L557.2 352.8 L557.4 353.3 L557.9 353.7 L558.6 354 Z" fill="#fff" stroke="#262626" stroke-width="1.2" />
<path d="M590.6 354.8 L591.2 354.9 L591.8 355 L592.4 355 L593.1 355 L593.7 354.9 L594.2 354.7 L594.6 354.6 L594.9 354.3 L595 354.1 L594.9 353.9 L594.6 353.6 L594.2 353.4 L578.9 347.9 L578.4 347.8 L577.7 347.7 L577.1 347.7 L576.4 347.7 L575.8 347.8 L575.3 347.9 L574.9 348.1 L574.6 348.3 L574.6 348.6 L574.7 348.8 L574.9 349 L575.3 349.2 Z" fill="#fff" stroke="#262626" stroke-width="1.2" />
<path d="M518.2 363.3 L518.9 363.6 L519.4 363.9 L519.8 364.2 L519.9 364.6 L519.9 365 L519.8 365.3 L519.4 365.7 L518.9 366 L518.3 366.3 L517.5 366.5 L516.6 366.7 L515.7 366.9 L514.6 366.9 L513.6 366.9 L512.6 366.9 L511.6 366.7 L510.8 366.5 L510 366.3 L509.3 366 L508.8 365.7 L508.4 365.3 L508.2 365 L508.2 364.6 L508.4 364.2 L508.7 363.9 L509.3 363.6 L509.9 363.3 L510.7 363 L511.6 362.9 L512.5 362.7 L513.5 362.7 L514.6 362.7 L515.6 362.7 L516.5 362.8 L517.4 363 L518.2 363.3 Z" fill="#111" stroke="#262626" stroke-width="0.8" />
<path d="M516.2 364.5 L516.2 364.6 L516.1 364.7 L516 364.8 L515.8 364.9 L515.6 365 L515.4 365.1 L515.1 365.1 L514.9 365.2 L514.6 365.2 L514.3 365.2 L514 365.1 L513.8 365.1 L513.6 365 L513.4 364.9 L513.2 364.8 L513.1 364.7 L513 364.6 L513 364.5 L513 364.4 L513.1 364.2 L513.2 364.1 L513.4 364 L513.6 364 L513.8 363.9 L514 363.8 L514.3 363.8 L514.6 363.8 L514.9 363.8 L515.1 363.8 L515.4 363.9 L515.6 364 L515.8 364 L516 364.1 L516.1 364.2 L516.2 364.4 L516.2 364.5 Z" fill="#fff" stroke="none" stroke-width="1.2" />
<path d="M544.2 353.7 L544.8 354 L545.3 354.3 L545.7 354.6 L545.9 355 L545.9 355.4 L545.7 355.7 L545.4 356.1 L544.9 356.4 L544.2 356.7 L543.4 356.9 L542.6 357.1 L541.6 357.3 L540.6 357.3 L539.6 357.3 L538.6 357.3 L537.6 357.1 L536.7 356.9 L535.9 356.7 L535.3 356.4 L534.7 356.1 L534.4 355.7 L534.2 355.4 L534.2 355 L534.4 354.6 L534.7 354.3 L535.2 354 L535.9 353.7 L536.6 353.4 L537.5 353.3 L538.5 353.1 L539.5 353.1 L540.5 353.1 L541.5 353.1 L542.5 353.3 L543.4 353.4 L544.2 353.7 Z" fill="#111" stroke="#262626" stroke-width="0.8" />
<path d="M542.1 354.9 L542.1 355 L542 355.1 L541.9 355.2 L541.8 355.3 L541.6 355.4 L541.3 355.5 L541.1 355.5 L540.8 355.6 L540.5 355.6 L540.3 355.6 L540 355.5 L539.7 355.5 L539.5 355.4 L539.3 355.3 L539.2 355.2 L539 355.1 L539 355 L538.9 354.9 L539 354.8 L539 354.7 L539.2 354.5 L539.3 354.4 L539.5 354.4 L539.7 354.3 L540 354.2 L540.3 354.2 L540.5 354.2 L540.8 354.2 L541.1 354.2 L541.3 354.3 L541.6 354.4 L541.8 354.4 L541.9 354.5 L542 354.7 L542.1 354.8 L542.1 354.9 Z" fill="#fff" stroke="none" stroke-width="1.2" />
<path d="M599.1 363.3 L599.8 363.6 L600.3 363.9 L600.7 364.2 L600.8 364.6 L600.8 365 L600.7 365.3 L600.3 365.7 L599.8 366 L599.2 366.3 L598.4 366.5 L597.5 366.7 L596.6 366.8 L595.5 366.9 L594.5 366.9 L593.5 366.8 L592.5 366.7 L591.7 366.5 L590.9 366.3 L590.2 366 L589.7 365.7 L589.3 365.3 L589.1 365 L589.1 364.6 L589.3 364.2 L589.6 363.9 L590.2 363.6 L590.8 363.3 L591.6 363 L592.5 362.8 L593.4 362.7 L594.4 362.6 L595.5 362.6 L596.5 362.7 L597.4 362.8 L598.3 363 L599.1 363.3 Z" fill="#111" stroke="#262626" stroke-width="0.8" />
<path d="M597.1 364.5 L597.1 364.6 L597 364.7 L596.9 364.8 L596.7 364.9 L596.5 365 L596.3 365.1 L596 365.1 L595.8 365.2 L595.5 365.2 L595.2 365.2 L594.9 365.1 L594.7 365.1 L594.5 365 L594.3 364.9 L594.1 364.8 L594 364.7 L593.9 364.6 L593.9 364.5 L593.9 364.4 L594 364.2 L594.1 364.1 L594.3 364 L594.5 363.9 L594.7 363.9 L594.9 363.8 L595.2 363.8 L595.5 363.8 L595.8 363.8 L596 363.8 L596.3 363.9 L596.5 363.9 L596.7 364 L596.9 364.1 L597 364.2 L597.1 364.4 L597.1 364.5 Z" fill="#fff" stroke="none" stroke-width="1.2" />
<path d="M546.8 382.4 L547.5 382.7 L548 383 L548.4 383.3 L548.6 383.7 L548.6 384.1 L548.4 384.5 L548 384.8 L547.5 385.1 L546.9 385.4 L546.1 385.7 L545.2 385.8 L544.3 386 L543.3 386 L542.2 386 L541.2 386 L540.3 385.8 L539.4 385.7 L538.6 385.4 L537.9 385.1 L537.4 384.8 L537 384.5 L536.9 384.1 L536.8 383.7 L537 383.4 L537.4 383 L537.9 382.7 L538.5 382.4 L539.3 382.2 L540.2 382 L541.1 381.8 L542.1 381.8 L543.2 381.8 L544.2 381.8 L545.1 382 L546 382.2 L546.8 382.4 Z" fill="#111" stroke="#262626" stroke-width="0.8" />
<path d="M544.8 383.6 L544.8 383.7 L544.7 383.8 L544.6 384 L544.4 384.1 L544.2 384.1 L544 384.2 L543.8 384.3 L543.5 384.3 L543.2 384.3 L542.9 384.3 L542.7 384.3 L542.4 384.2 L542.2 384.1 L542 384.1 L541.8 384 L541.7 383.8 L541.6 383.7 L541.6 383.6 L541.6 383.5 L541.7 383.4 L541.8 383.3 L542 383.2 L542.2 383.1 L542.4 383 L542.7 382.9 L542.9 382.9 L543.2 382.9 L543.5 382.9 L543.8 382.9 L544 383 L544.2 383.1 L544.4 383.2 L544.6 383.3 L544.7 383.4 L544.8 383.5 L544.8 383.6 Z" fill="#fff" stroke="none" stroke-width="1.2" />
</g>
<path d="M627.5 399.8 L627.3 396.2 L626.5 393 L625.4 390.1 L623.7 387.7 L621.8 385.8 L619.5 384.6 L616.9 383.9 L614.2 384 L611.4 384.7 L608.6 386 L605.9 388 L603.3 390.5 L601 393.4 L599.1 396.7 L597.4 400.3 L596.3 404.1 L595.5 407.9 L595.3 411.6 L595.5 415.2 L596.3 418.4 L597.4 421.3 L599.1 423.7 L601 425.6 L603.3 426.8 L605.9 427.5 L608.6 427.4 L611.4 426.7 L614.2 425.4 L616.9 423.4 L619.5 420.9 L621.8 418 L623.7 414.7 L625.4 411.1 L626.5 407.3 L627.3 403.5 L627.5 399.8 Z" fill="#fff" stroke="#262626" stroke-width="1" />
<path d="M625.5 400.5 L625.3 397.2 L624.7 394.1 L623.7 391.4 L622.2 389.1 L620.5 387.3 L618.5 386.1 L616.2 385.5 L613.9 385.5 L611.4 386.1 L608.9 387.3 L606.6 389.1 L604.3 391.3 L602.3 394 L600.6 397.1 L599.1 400.4 L598.1 403.9 L597.5 407.4 L597.3 410.9 L597.5 414.2 L598.1 417.3 L599.1 420 L600.6 422.3 L602.3 424.1 L604.3 425.3 L606.6 425.9 L608.9 425.9 L611.4 425.3 L613.9 424.1 L616.2 422.3 L618.5 420.1 L620.5 417.4 L622.2 414.3 L623.7 411 L624.7 407.5 L625.3 404 L625.5 400.5 Z" fill="#fff" stroke="#0a0a0a" stroke-width="3.6" />
<path d="M595.1 397.8 L594.9 394.2 L594.1 391 L593 388.1 L591.3 385.7 L589.4 383.8 L587.1 382.6 L584.5 381.9 L581.8 382 L579 382.7 L576.2 384 L573.5 386 L570.9 388.5 L568.6 391.4 L566.7 394.7 L565 398.3 L563.9 402.1 L563.1 405.9 L562.9 409.6 L563.1 413.2 L563.9 416.4 L565 419.3 L566.7 421.7 L568.6 423.6 L570.9 424.8 L573.5 425.5 L576.2 425.4 L579 424.7 L581.8 423.4 L584.5 421.4 L587.1 418.9 L589.4 416 L591.3 412.7 L593 409.1 L594.1 405.3 L594.9 401.5 L595.1 397.8 Z" fill="#fff" stroke="#262626" stroke-width="1" />
<path d="M593.1 398.5 L592.9 395.2 L592.3 392.1 L591.3 389.4 L589.8 387.1 L588.1 385.3 L586.1 384.1 L583.8 383.5 L581.5 383.5 L579 384.1 L576.5 385.3 L574.2 387.1 L571.9 389.3 L569.9 392 L568.2 395.1 L566.7 398.4 L565.7 401.9 L565.1 405.4 L564.9 408.9 L565.1 412.2 L565.7 415.3 L566.7 418 L568.2 420.3 L569.9 422.1 L571.9 423.3 L574.2 423.9 L576.5 423.9 L579 423.3 L581.5 422.1 L583.8 420.3 L586.1 418.1 L588.1 415.4 L589.8 412.3 L591.3 409 L592.3 405.5 L592.9 402 L593.1 398.5 Z" fill="#fff" stroke="#0a0a0a" stroke-width="3.6" />
<path d="M564.5 423.4 L564.3 419.8 L563.5 416.6 L562.4 413.7 L560.7 411.3 L558.8 409.4 L556.5 408.2 L553.9 407.5 L551.2 407.6 L548.4 408.3 L545.6 409.6 L542.9 411.6 L540.3 414.1 L538 417 L536.1 420.3 L534.4 423.9 L533.3 427.7 L532.5 431.5 L532.3 435.2 L532.5 438.8 L533.3 442 L534.4 444.9 L536.1 447.3 L538 449.2 L540.3 450.4 L542.9 451.1 L545.6 451 L548.4 450.3 L551.2 449 L553.9 447 L556.5 444.5 L558.8 441.6 L560.7 438.3 L562.4 434.7 L563.5 430.9 L564.3 427.1 L564.5 423.4 Z" fill="#fff" stroke="#262626" stroke-width="1" />
<path d="M562.5 424.1 L562.3 420.8 L561.7 417.7 L560.7 415 L559.2 412.7 L557.5 410.9 L555.5 409.7 L553.2 409.1 L550.9 409.1 L548.4 409.7 L545.9 410.9 L543.6 412.7 L541.3 414.9 L539.3 417.6 L537.6 420.7 L536.1 424 L535.1 427.5 L534.5 431 L534.3 434.5 L534.5 437.8 L535.1 440.9 L536.1 443.6 L537.6 445.9 L539.3 447.7 L541.3 448.9 L543.6 449.5 L545.9 449.5 L548.4 448.9 L550.9 447.7 L553.2 445.9 L555.5 443.7 L557.5 441 L559.2 437.9 L560.7 434.6 L561.7 431.1 L562.3 427.6 L562.5 424.1 Z" fill="#fff" stroke="#0a0a0a" stroke-width="3.6" />
<g transform="translate(463.9 375.6) scale(1.015) translate(-463.9 -375.6)">
<path d="M483.7 448.1 L483.7 425.7 C483.7 416.2 499.2 416.2 500.7 425.7 L503 450.6 C497.2 454.1 488.7 452.1 483.7 448.1 Z" fill="#fff" stroke="#262626" stroke-width="1.2" />
<path d="M453.7 407.1 L456.1 418.5 L464.4 421.9 L466.7 423.1 L471.2 421.9 L473.1 420.4 L475.3 421.1 L476.5 423.1 L476.5 401.2 L459.9 407.1 Z" fill="#fff" stroke="#262626" stroke-width="1.2" />
<path d="M449.9 403.7 L463.6 396.3 L476.5 401.2 L459.9 407.1 Z" fill="#fff" stroke="#262626" stroke-width="1.2" />
<path d="M449.9 403.7 L450.8 406 L460.2 409 L459.9 407.1 Z" fill="#fff" stroke="#262626" stroke-width="1.2" />
<path d="M462.1 408.4 L462.1 418.5" fill="none" stroke="#262626" stroke-width="1" />
<path d="M472.4 403.4 L472.4 420.7" fill="none" stroke="#262626" stroke-width="1" />
<path d="M499.7 425.4 L502.3 438 L511.5 441.8 L514.1 443.1 L519.1 441.8 L521.2 440.1 L523.7 440.9 L525 443.1 L525 418.8 L506.5 425.4 Z" fill="#fff" stroke="#262626" stroke-width="1.2" />
<path d="M495.5 421.6 L510.7 413.4 L525 418.8 L506.5 425.4 Z" fill="#fff" stroke="#262626" stroke-width="1.2" />
<path d="M495.5 421.6 L496.4 424.1 L506.9 427.5 L506.5 425.4 Z" fill="#fff" stroke="#262626" stroke-width="1.2" />
<path d="M509 426.8 L509 438" fill="none" stroke="#262626" stroke-width="1" />
<path d="M520.4 421.2 L520.4 440.5" fill="none" stroke="#262626" stroke-width="1" />
<text transform="matrix(0.951 0.343 0.12 1 473.4 389)" font-size="5.2" font-weight="bold" fill="#000" stroke="#000" stroke-width="0.25" text-anchor="start" letter-spacing="0.25" filter="url(#gray)">ISO 5599 SIZE 1</text>
<text transform="matrix(0.951 0.343 0.12 1 480.4 401.8)" font-size="5.6" font-weight="bold" fill="#000" stroke="#000" stroke-width="0.25" text-anchor="start" letter-spacing="0.9" filter="url(#gray)">12 - 14</text>
<text transform="matrix(0.951 0.343 0.12 1 478.7 409.2)" font-size="5.6" font-weight="bold" fill="#000" stroke="#000" stroke-width="0.25" text-anchor="start" letter-spacing="1.2" filter="url(#gray)">2 <tspan font-size="8.5" dy="0.8">●</tspan><tspan dy="-0.8"> 4</tspan></text>
</g>
<path d="M467.7 319.9 L575.3 279.4 L637.9 302.2 L529.6 344.2 Z" fill="#0a0a0a" stroke="#0a0a0a" stroke-width="1" />
<ellipse cx="545" cy="297.8" rx="7.2" ry="3.1" fill="#fff"/>
<ellipse cx="519.3" cy="307.4" rx="7.2" ry="3.1" fill="#fff"/>
<ellipse cx="599.6" cy="308.1" rx="7.2" ry="3.1" fill="#fff"/>
<ellipse cx="547.3" cy="327.3" rx="7.2" ry="3.1" fill="#fff"/>
<path d="M538.6 275 L548.6 275 L548.6 285 L538.6 285 Z" fill="#999" stroke="#262626" stroke-width="0.9" />
<ellipse cx="543.6" cy="285" rx="5" ry="2" fill="#ccc" stroke="#111" stroke-width="0.8"/>
<path d="M590.9 256 L600.9 256 L600.9 266 L590.9 266 Z" fill="#999" stroke="#262626" stroke-width="0.9" />
<ellipse cx="595.9" cy="266" rx="5" ry="2" fill="#ccc" stroke="#111" stroke-width="0.8"/>
<path d="M464 248.4 L570.8 209.2 L632.7 231.5 L525.9 270.8 Z" fill="#fff" stroke="#262626" stroke-width="1.2" />
<path d="M464 248.4 L525.9 270.8 L525.9 287.4 L464 265 Z" fill="#fff" stroke="#262626" stroke-width="1.2" />
<path d="M525.9 270.8 L632.7 231.5 L632.7 248.1 L525.9 287.4 Z" fill="#fff" stroke="#262626" stroke-width="1.2" />
<ellipse cx="515.6" cy="235.9" rx="8.1" ry="3.7" fill="#fff" stroke="#262626" stroke-width="1.1"/>
<path d="M510.5 199 L520.8 199 L520.8 233 L510.5 233 Z" fill="#ccc" stroke="#262626" stroke-width="0.9" />
<path d="M510.5 202 L520.8 202.8" fill="none" stroke="#444" stroke-width="0.6" />
<path d="M510.5 204 L520.8 204.8" fill="none" stroke="#444" stroke-width="0.6" />
<path d="M510.5 206 L520.8 206.8" fill="none" stroke="#444" stroke-width="0.6" />
<path d="M510.5 208 L520.8 208.8" fill="none" stroke="#444" stroke-width="0.6" />
<path d="M510.5 210 L520.8 210.8" fill="none" stroke="#444" stroke-width="0.6" />
<path d="M510.5 212 L520.8 212.8" fill="none" stroke="#444" stroke-width="0.6" />
<path d="M510.5 214 L520.8 214.8" fill="none" stroke="#444" stroke-width="0.6" />
<path d="M510.5 216 L520.8 216.8" fill="none" stroke="#444" stroke-width="0.6" />
<path d="M510.5 218 L520.8 218.8" fill="none" stroke="#444" stroke-width="0.6" />
<path d="M510.5 220 L520.8 220.8" fill="none" stroke="#444" stroke-width="0.6" />
<path d="M510.5 222 L520.8 222.8" fill="none" stroke="#444" stroke-width="0.6" />
<path d="M510.5 224 L520.8 224.8" fill="none" stroke="#444" stroke-width="0.6" />
<path d="M510.5 226 L520.8 226.8" fill="none" stroke="#444" stroke-width="0.6" />
<path d="M510.5 228 L520.8 228.8" fill="none" stroke="#444" stroke-width="0.6" />
<path d="M510.5 230 L520.8 230.8" fill="none" stroke="#444" stroke-width="0.6" />
<path d="M506.8 186.5 L506.8 199.5 A8.85 3.4 0 0 0 524.5 199.5 L524.5 186.5 Z" fill="#888" stroke="#262626" stroke-width="1" />
<path d="M509 188.5 L509 201" fill="none" stroke="#111" stroke-width="0.7" />
<path d="M511.2 188.5 L511.2 201" fill="none" stroke="#111" stroke-width="0.7" />
<path d="M513.4 188.5 L513.4 201" fill="none" stroke="#111" stroke-width="0.7" />
<path d="M515.6 188.5 L515.6 201" fill="none" stroke="#111" stroke-width="0.7" />
<path d="M517.8 188.5 L517.8 201" fill="none" stroke="#111" stroke-width="0.7" />
<path d="M520 188.5 L520 201" fill="none" stroke="#111" stroke-width="0.7" />
<path d="M522.2 188.5 L522.2 201" fill="none" stroke="#111" stroke-width="0.7" />
<ellipse cx="515.6" cy="186.5" rx="8.85" ry="3.4" fill="#ddd" stroke="#111" stroke-width="1.2"/>
<ellipse cx="515.6" cy="186.5" rx="4.425" ry="1.7" fill="#fff" stroke="#111" stroke-width="0.8"/>
<path d="M532.9 216.5 L532.9 228.5 A8.5 3.4 0 0 0 549.9 228.5 L549.9 216.5 Z" fill="#888" stroke="#262626" stroke-width="1" />
<path d="M535 218.5 L535 230" fill="none" stroke="#111" stroke-width="0.7" />
<path d="M537.1 218.5 L537.1 230" fill="none" stroke="#111" stroke-width="0.7" />
<path d="M539.3 218.5 L539.3 230" fill="none" stroke="#111" stroke-width="0.7" />
<path d="M541.4 218.5 L541.4 230" fill="none" stroke="#111" stroke-width="0.7" />
<path d="M543.5 218.5 L543.5 230" fill="none" stroke="#111" stroke-width="0.7" />
<path d="M545.6 218.5 L545.6 230" fill="none" stroke="#111" stroke-width="0.7" />
<path d="M547.8 218.5 L547.8 230" fill="none" stroke="#111" stroke-width="0.7" />
<ellipse cx="541.4" cy="216.5" rx="8.5" ry="3.4" fill="#ddd" stroke="#111" stroke-width="1.2"/>
<ellipse cx="541.4" cy="216.5" rx="4.25" ry="1.7" fill="#fff" stroke="#111" stroke-width="0.8"/>
<path d="M586.7 226.8 L586.7 238.8 A8.5 3.4 0 0 0 603.7 238.8 L603.7 226.8 Z" fill="#888" stroke="#262626" stroke-width="1" />
<path d="M588.8 228.8 L588.8 240.3" fill="none" stroke="#111" stroke-width="0.7" />
<path d="M591 228.8 L591 240.3" fill="none" stroke="#111" stroke-width="0.7" />
<path d="M593.1 228.8 L593.1 240.3" fill="none" stroke="#111" stroke-width="0.7" />
<path d="M595.2 228.8 L595.2 240.3" fill="none" stroke="#111" stroke-width="0.7" />
<path d="M597.3 228.8 L597.3 240.3" fill="none" stroke="#111" stroke-width="0.7" />
<path d="M599.5 228.8 L599.5 240.3" fill="none" stroke="#111" stroke-width="0.7" />
<path d="M601.6 228.8 L601.6 240.3" fill="none" stroke="#111" stroke-width="0.7" />
<ellipse cx="595.2" cy="226.8" rx="8.5" ry="3.4" fill="#ddd" stroke="#111" stroke-width="1.2"/>
<ellipse cx="595.2" cy="226.8" rx="4.25" ry="1.7" fill="#fff" stroke="#111" stroke-width="0.8"/>
<path d="M535.1 245.2 L535.1 257.2 A8.5 3.4 0 0 0 552.1 257.2 L552.1 245.2 Z" fill="#888" stroke="#262626" stroke-width="1" />
<path d="M537.2 247.2 L537.2 258.7" fill="none" stroke="#111" stroke-width="0.7" />
<path d="M539.4 247.2 L539.4 258.7" fill="none" stroke="#111" stroke-width="0.7" />
<path d="M541.5 247.2 L541.5 258.7" fill="none" stroke="#111" stroke-width="0.7" />
<path d="M543.6 247.2 L543.6 258.7" fill="none" stroke="#111" stroke-width="0.7" />
<path d="M545.7 247.2 L545.7 258.7" fill="none" stroke="#111" stroke-width="0.7" />
<path d="M547.9 247.2 L547.9 258.7" fill="none" stroke="#111" stroke-width="0.7" />
<path d="M550 247.2 L550 258.7" fill="none" stroke="#111" stroke-width="0.7" />
<ellipse cx="543.6" cy="245.2" rx="8.5" ry="3.4" fill="#ddd" stroke="#111" stroke-width="1.2"/>
<ellipse cx="543.6" cy="245.2" rx="4.25" ry="1.7" fill="#fff" stroke="#111" stroke-width="0.8"/>
<path d="M579 570.1 L657.7 541.2 L657.7 575 L579 603.9 Z" fill="#fff" stroke="#262626" stroke-width="1.2" />
<path d="M516.6 547.3 L527.8 543.2 L590.1 565.6 L579 570.1 Z" fill="#fff" stroke="#262626" stroke-width="1.2" />
<path d="M516.6 547.3 L579 570.1 L579 603.9 L516.6 581.1 Z" fill="#fff" stroke="#262626" stroke-width="1.2" />
<path d="M542.5 572.5 L542.4 570.8 L542 569 L541.3 567.3 L540.4 565.6 L539.3 564 L538 562.5 L536.5 561.3 L535 560.3 L533.4 559.6 L531.8 559.2 L530.3 559.1 L528.8 559.2 L527.5 559.7 L526.4 560.5 L525.5 561.5 L524.8 562.8 L524.4 564.3 L524.3 565.9 L524.4 567.6 L524.8 569.4 L525.5 571.1 L526.4 572.8 L527.5 574.4 L528.8 575.9 L530.3 577.1 L531.8 578.1 L533.4 578.8 L535 579.2 L536.5 579.3 L538 579.2 L539.3 578.7 L540.4 577.9 L541.3 576.9 L542 575.6 L542.4 574.1 L542.5 572.5 Z" fill="#fff" stroke="#262626" stroke-width="1" />
<path d="M432.5 596.4 L431.5 596.9 L430.6 597.7 L429.9 598.7 L429.5 599.8 L429.2 601.1 L429.2 602.5 L429.4 604 L429.9 605.5 L430.6 607 L431.4 608.4 L432.4 609.6 L433.6 610.8 L434.9 611.7 L436.2 612.4 L437.5 612.9 L438.8 613.2 L440.1 613.2 L441.3 612.9 L537.8 577.4 L538.8 576.9 L539.7 576.1 L540.4 575.2 L540.8 574 L541.1 572.7 L541.1 571.3 L540.9 569.8 L540.4 568.3 L539.7 566.9 L538.9 565.5 L537.9 564.2 L536.7 563.1 L535.4 562.1 L534.1 561.4 L532.8 560.9 L531.4 560.7 L530.2 560.7 L529 561 Z" fill="#fff" stroke="#262626" stroke-width="1.2" />
<path d="M444.6 607.4 L444.5 606 L444.1 604.5 L443.6 603 L442.8 601.6 L441.8 600.2 L440.7 599 L439.5 598 L438.2 597.1 L436.9 596.5 L435.6 596.2 L434.3 596.1 L433 596.2 L431.9 596.6 L431 597.3 L430.2 598.2 L429.7 599.3 L429.3 600.5 L429.2 601.9 L429.3 603.3 L429.7 604.8 L430.2 606.3 L431 607.7 L431.9 609.1 L433 610.3 L434.3 611.3 L435.6 612.1 L436.9 612.7 L438.2 613.1 L439.5 613.2 L440.7 613 L441.8 612.6 L442.8 612 L443.6 611.1 L444.1 610 L444.5 608.8 L444.6 607.4 Z" fill="#fff" stroke="#262626" stroke-width="1.2" />
<path d="M574.5 584.4 L574.4 582.7 L574 580.9 L573.3 579.2 L572.4 577.5 L571.3 575.9 L570 574.4 L568.5 573.2 L567 572.2 L565.4 571.5 L563.8 571.1 L562.3 571 L560.8 571.1 L559.5 571.6 L558.4 572.4 L557.5 573.4 L556.8 574.7 L556.4 576.2 L556.3 577.8 L556.4 579.5 L556.8 581.3 L557.5 583 L558.4 584.7 L559.5 586.3 L560.8 587.8 L562.3 589 L563.8 590 L565.4 590.7 L567 591.1 L568.5 591.2 L570 591.1 L571.3 590.6 L572.4 589.8 L573.3 588.8 L574 587.5 L574.4 586 L574.5 584.4 Z" fill="#fff" stroke="#262626" stroke-width="1" />
<path d="M464.5 608.3 L463.5 608.8 L462.6 609.6 L461.9 610.6 L461.5 611.7 L461.2 613 L461.2 614.4 L461.4 615.9 L461.9 617.4 L462.6 618.9 L463.4 620.3 L464.4 621.5 L465.6 622.7 L466.9 623.6 L468.2 624.3 L469.5 624.8 L470.8 625.1 L472.1 625.1 L473.3 624.8 L569.8 589.3 L570.8 588.8 L571.7 588 L572.4 587.1 L572.8 585.9 L573.1 584.6 L573.1 583.2 L572.9 581.7 L572.4 580.2 L571.7 578.8 L570.9 577.4 L569.9 576.1 L568.7 575 L567.4 574 L566.1 573.3 L564.8 572.8 L563.4 572.6 L562.2 572.6 L561 572.9 Z" fill="#fff" stroke="#262626" stroke-width="1.2" />
<path d="M476.6 619.3 L476.5 617.9 L476.1 616.4 L475.6 614.9 L474.8 613.5 L473.8 612.1 L472.7 610.9 L471.5 609.9 L470.2 609 L468.9 608.4 L467.6 608.1 L466.3 608 L465 608.1 L463.9 608.5 L463 609.2 L462.2 610.1 L461.7 611.2 L461.3 612.4 L461.2 613.8 L461.3 615.2 L461.7 616.7 L462.2 618.2 L463 619.6 L463.9 621 L465 622.2 L466.3 623.2 L467.6 624 L468.9 624.6 L470.2 625 L471.5 625.1 L472.7 624.9 L473.8 624.5 L474.8 623.9 L475.6 623 L476.1 621.9 L476.5 620.7 L476.6 619.3 Z" fill="#fff" stroke="#262626" stroke-width="1.2" />
<path d="M394.3 620.3 L394.2 620.8 L393.9 621.2 L393.3 621.7 L392.6 622.1 L391.8 622.4 L390.8 622.7 L389.7 622.9 L388.5 623 L387.3 623.1 L386.1 623 L384.9 622.9 L383.8 622.7 L382.8 622.4 L381.9 622.1 L381.2 621.7 L380.7 621.2 L380.4 620.8 L380.3 620.3 L380.4 619.8 L380.7 619.3 L381.2 618.9 L381.9 618.5 L382.8 618.1 L383.8 617.9 L384.9 617.7 L386.1 617.5 L387.3 617.5 L388.5 617.5 L389.7 617.7 L390.8 617.9 L391.8 618.1 L392.6 618.5 L393.3 618.9 L393.9 619.3 L394.2 619.8 L394.3 620.3 Z" fill="#fff" stroke="#262626" stroke-width="1" />
<path d="M373 586.9 L383.1 582.4 L412.5 590.8 L399.9 597.5 Z" fill="#fff" stroke="none" stroke-width="1.2" />
<path d="M384.4 568.9 L392.3 568.9 L392.3 593 L384.4 590 Z" fill="#d0d0d0" stroke="#262626" stroke-width="1" />
<path d="M384.4 571.4 L392.3 572.5" fill="none" stroke="#333" stroke-width="0.7" />
<path d="M384.4 573.3 L392.3 574.3" fill="none" stroke="#333" stroke-width="0.7" />
<path d="M384.4 575.1 L392.3 576.2" fill="none" stroke="#333" stroke-width="0.7" />
<path d="M384.4 577 L392.3 578" fill="none" stroke="#333" stroke-width="0.7" />
<path d="M384.4 578.9 L392.3 579.9" fill="none" stroke="#333" stroke-width="0.7" />
<path d="M384.4 580.7 L392.3 581.7" fill="none" stroke="#333" stroke-width="0.7" />
<path d="M384.4 582.6 L392.3 583.6" fill="none" stroke="#333" stroke-width="0.7" />
<path d="M384.4 584.4 L392.3 585.4" fill="none" stroke="#333" stroke-width="0.7" />
<path d="M384.4 586.3 L392.3 587.3" fill="none" stroke="#333" stroke-width="0.7" />
<path d="M384.4 588.1 L392.3 589.1" fill="none" stroke="#333" stroke-width="0.7" />
<path d="M384.4 590 L392.3 591" fill="none" stroke="#333" stroke-width="0.7" />
<path d="M379.3 567.2 C379.3 560.2 396.9 560.2 396.9 567.2 C396.9 571.7 379.3 571.7 379.3 567.2 Z" fill="#fff" stroke="#262626" stroke-width="1.1" />
<path d="M383.1 565 L393.1 565" fill="none" stroke="#262626" stroke-width="0.8" />
<path d="M363.7 586.6 L399.1 600.1 L400.8 622 L364.5 609.3 Z" fill="#fff" stroke="#262626" stroke-width="1.2" />
<path d="M399.1 600.1 L415.9 592.5 L415.9 614.4 L400.8 622 Z" fill="#fff" stroke="#262626" stroke-width="1.2" />
<path d="M363.7 586.6 L378.9 580.7 L383.1 582.4 L373 586.9 L399.9 597 L399.1 600.1 Z" fill="#fff" stroke="#262626" stroke-width="1.1" />
<path d="M399.1 600.1 L399.9 597 L412.5 590.8 L415.9 592.5 Z" fill="#fff" stroke="#262626" stroke-width="1.1" />
<path d="M691.7 470 L699.7 473 L701.7 475 L698.7 477 L698.7 492 L693.7 494 L692.7 480 Z" fill="#fff" stroke="#262626" stroke-width="1.1" />
<path d="M527.3 481.8 L588.7 504 L588.7 566 L527.3 543.8 Z" fill="#fff" stroke="#262626" stroke-width="1.2" />
<path d="M588.7 504 L694.6 465.1 L694.6 527.1 L588.7 566 Z" fill="#fff" stroke="#262626" stroke-width="1.2" />
<path d="M527.3 481.8 L633.2 442.9 L694.6 465.1 L588.7 504 Z" fill="#fff" stroke="#262626" stroke-width="1.2" />
<path d="M590.1 506.6 L693.2 468.8" fill="none" stroke="#262626" stroke-width="1" />
<path d="M592.5 507.6 L592.5 560.6" fill="none" stroke="#262626" stroke-width="1" />
<path d="M691.8 471.1 L691.8 524.1" fill="none" stroke="#262626" stroke-width="1" />
<path d="M592.5 560.6 L691.8 524.1" fill="none" stroke="#262626" stroke-width="1" />
<path d="M609.3 495.6 L614 493.9" fill="none" stroke="#262626" stroke-width="2.2" />
<path d="M639.3 484.6 L644 482.9" fill="none" stroke="#262626" stroke-width="2.2" />
<path d="M669.3 473.6 L674 471.9" fill="none" stroke="#262626" stroke-width="2.2" />
<path d="M583.2 493.4 L583.8 493.5 L584.4 493.6 L585 493.7 L585.7 493.6 L586.3 493.5 L586.8 493.4 L587.2 493.2 L587.5 493 L587.5 492.7 L587.5 492.5 L587.2 492.3 L586.8 492.1 L573.2 487.2 L572.7 487 L572.1 486.9 L571.4 486.9 L570.7 486.9 L570.1 487 L569.6 487.2 L569.2 487.4 L569 487.6 L568.9 487.8 L569 488.1 L569.2 488.3 L569.6 488.5 Z" fill="#fff" stroke="#262626" stroke-width="1.2" />
<path d="M585.8 486 L586.8 486.3 L587.9 486.4 L589.1 486.5 L590.3 486.4 L591.5 486.3 L592.4 486 L593.2 485.6 L593.6 485.2 L593.8 484.8 L593.6 484.3 L593.1 483.9 L592.4 483.6 L576.7 477.9 L575.7 477.7 L574.6 477.5 L573.4 477.4 L572.2 477.5 L571 477.7 L570.1 477.9 L569.3 478.3 L568.9 478.7 L568.7 479.1 L568.9 479.6 L569.4 480 L570.1 480.3 Z" fill="#fff" stroke="#262626" stroke-width="1.2" />
<path d="M607.3 483.4 L608.3 483.6 L609.4 483.8 L610.6 483.9 L611.8 483.8 L612.9 483.6 L613.9 483.4 L614.6 483 L615.1 482.6 L615.2 482.2 L615.1 481.7 L614.6 481.3 L613.8 481 L597 474.9 L596 474.6 L594.9 474.5 L593.7 474.4 L592.5 474.5 L591.4 474.6 L590.4 474.9 L589.7 475.2 L589.2 475.7 L589.1 476.1 L589.2 476.5 L589.7 476.9 L590.5 477.3 Z" fill="#fff" stroke="#262626" stroke-width="1.2" />
<path d="M613.4 476.2 L614.3 476.4 L615.5 476.6 L616.7 476.7 L617.9 476.6 L619 476.4 L620 476.2 L620.7 475.8 L621.2 475.4 L621.3 474.9 L621.2 474.5 L620.7 474.1 L619.9 473.7 L603.1 467.7 L602.1 467.4 L601 467.2 L599.8 467.2 L598.6 467.2 L597.5 467.4 L596.5 467.7 L595.8 468 L595.3 468.4 L595.1 468.9 L595.3 469.3 L595.8 469.7 L596.5 470.1 Z" fill="#fff" stroke="#262626" stroke-width="1.2" />
<path d="M632.5 474 L633.5 474.3 L634.6 474.5 L635.8 474.5 L637 474.5 L638.1 474.3 L639.1 474 L639.8 473.7 L640.3 473.3 L640.4 472.8 L640.3 472.4 L639.8 472 L639.1 471.6 L624.5 466.4 L623.5 466.1 L622.4 466 L621.2 465.9 L620 466 L618.9 466.1 L617.9 466.4 L617.2 466.7 L616.7 467.2 L616.6 467.6 L616.7 468 L617.2 468.5 L617.9 468.8 Z" fill="#fff" stroke="#262626" stroke-width="1.2" />
<path d="M639 466.4 L640 466.7 L641.1 466.8 L642.4 466.9 L643.6 466.8 L644.7 466.7 L645.6 466.4 L646.4 466 L646.8 465.6 L647 465.2 L646.8 464.7 L646.3 464.3 L645.6 464 L628.6 457.8 L627.6 457.6 L626.5 457.4 L625.3 457.3 L624.1 457.4 L622.9 457.6 L622 457.8 L621.2 458.2 L620.8 458.6 L620.6 459 L620.8 459.5 L621.3 459.9 L622 460.2 Z" fill="#fff" stroke="#262626" stroke-width="1.2" />
<path d="M654 461 L654.6 461.1 L655.2 461.2 L655.8 461.2 L656.5 461.2 L657.1 461.1 L657.6 460.9 L658 460.8 L658.3 460.5 L658.4 460.3 L658.3 460.1 L658 459.8 L657.6 459.6 L642.3 454.1 L641.8 454 L641.1 453.9 L640.5 453.9 L639.8 453.9 L639.2 454 L638.7 454.1 L638.3 454.3 L638 454.5 L638 454.8 L638.1 455 L638.3 455.2 L638.7 455.4 Z" fill="#fff" stroke="#262626" stroke-width="1.2" />
<path d="M581.6 469.5 L582.3 469.8 L582.8 470.1 L583.2 470.4 L583.3 470.8 L583.3 471.2 L583.2 471.5 L582.8 471.9 L582.3 472.2 L581.7 472.5 L580.9 472.7 L580 472.9 L579.1 473.1 L578 473.1 L577 473.1 L576 473.1 L575 472.9 L574.2 472.7 L573.4 472.5 L572.7 472.2 L572.2 471.9 L571.8 471.5 L571.6 471.2 L571.6 470.8 L571.8 470.4 L572.1 470.1 L572.7 469.8 L573.3 469.5 L574.1 469.2 L575 469.1 L575.9 468.9 L576.9 468.9 L578 468.9 L579 468.9 L579.9 469 L580.8 469.2 L581.6 469.5 Z" fill="#111" stroke="#262626" stroke-width="0.8" />
<path d="M579.6 470.7 L579.6 470.8 L579.5 470.9 L579.4 471 L579.2 471.1 L579 471.2 L578.8 471.3 L578.5 471.3 L578.3 471.4 L578 471.4 L577.7 471.4 L577.4 471.3 L577.2 471.3 L577 471.2 L576.8 471.1 L576.6 471 L576.5 470.9 L576.4 470.8 L576.4 470.7 L576.4 470.6 L576.5 470.4 L576.6 470.3 L576.8 470.2 L577 470.2 L577.2 470.1 L577.4 470 L577.7 470 L578 470 L578.3 470 L578.5 470 L578.8 470.1 L579 470.2 L579.2 470.2 L579.4 470.3 L579.5 470.4 L579.6 470.6 L579.6 470.7 Z" fill="#fff" stroke="none" stroke-width="1.2" />
<path d="M607.6 459.9 L608.2 460.2 L608.7 460.5 L609.1 460.8 L609.3 461.2 L609.3 461.6 L609.1 461.9 L608.8 462.3 L608.3 462.6 L607.6 462.9 L606.8 463.1 L606 463.3 L605 463.5 L604 463.5 L603 463.5 L602 463.5 L601 463.3 L600.1 463.1 L599.3 462.9 L598.7 462.6 L598.1 462.3 L597.8 461.9 L597.6 461.6 L597.6 461.2 L597.8 460.8 L598.1 460.5 L598.6 460.2 L599.3 459.9 L600 459.6 L600.9 459.5 L601.9 459.3 L602.9 459.3 L603.9 459.3 L604.9 459.3 L605.9 459.5 L606.8 459.6 L607.6 459.9 Z" fill="#111" stroke="#262626" stroke-width="0.8" />
<path d="M605.5 461.1 L605.5 461.2 L605.4 461.3 L605.3 461.4 L605.2 461.5 L605 461.6 L604.7 461.7 L604.5 461.7 L604.2 461.8 L603.9 461.8 L603.7 461.8 L603.4 461.7 L603.1 461.7 L602.9 461.6 L602.7 461.5 L602.6 461.4 L602.4 461.3 L602.4 461.2 L602.3 461.1 L602.4 461 L602.4 460.9 L602.6 460.7 L602.7 460.6 L602.9 460.6 L603.1 460.5 L603.4 460.4 L603.7 460.4 L603.9 460.4 L604.2 460.4 L604.5 460.4 L604.7 460.5 L605 460.6 L605.2 460.6 L605.3 460.7 L605.4 460.9 L605.5 461 L605.5 461.1 Z" fill="#fff" stroke="none" stroke-width="1.2" />
<path d="M662.5 469.5 L663.2 469.8 L663.7 470.1 L664.1 470.4 L664.2 470.8 L664.2 471.2 L664.1 471.5 L663.7 471.9 L663.2 472.2 L662.6 472.5 L661.8 472.7 L660.9 472.9 L660 473 L658.9 473.1 L657.9 473.1 L656.9 473 L655.9 472.9 L655.1 472.7 L654.3 472.5 L653.6 472.2 L653.1 471.9 L652.7 471.5 L652.5 471.2 L652.5 470.8 L652.7 470.4 L653 470.1 L653.6 469.8 L654.2 469.5 L655 469.2 L655.9 469 L656.8 468.9 L657.8 468.8 L658.9 468.8 L659.9 468.9 L660.8 469 L661.7 469.2 L662.5 469.5 Z" fill="#111" stroke="#262626" stroke-width="0.8" />
<path d="M660.5 470.7 L660.5 470.8 L660.4 470.9 L660.3 471 L660.1 471.1 L659.9 471.2 L659.7 471.3 L659.4 471.3 L659.2 471.4 L658.9 471.4 L658.6 471.4 L658.3 471.3 L658.1 471.3 L657.9 471.2 L657.7 471.1 L657.5 471 L657.4 470.9 L657.3 470.8 L657.3 470.7 L657.3 470.6 L657.4 470.4 L657.5 470.3 L657.7 470.2 L657.9 470.1 L658.1 470.1 L658.3 470 L658.6 470 L658.9 470 L659.2 470 L659.4 470 L659.7 470.1 L659.9 470.1 L660.1 470.2 L660.3 470.3 L660.4 470.4 L660.5 470.6 L660.5 470.7 Z" fill="#fff" stroke="none" stroke-width="1.2" />
<path d="M610.2 488.6 L610.9 488.9 L611.4 489.2 L611.8 489.5 L612 489.9 L612 490.3 L611.8 490.7 L611.4 491 L610.9 491.3 L610.3 491.6 L609.5 491.9 L608.6 492 L607.7 492.2 L606.7 492.2 L605.6 492.2 L604.6 492.2 L603.7 492 L602.8 491.9 L602 491.6 L601.3 491.3 L600.8 491 L600.4 490.7 L600.3 490.3 L600.2 489.9 L600.4 489.6 L600.8 489.2 L601.3 488.9 L601.9 488.6 L602.7 488.4 L603.6 488.2 L604.5 488 L605.5 488 L606.6 488 L607.6 488 L608.5 488.2 L609.4 488.4 L610.2 488.6 Z" fill="#111" stroke="#262626" stroke-width="0.8" />
<path d="M608.2 489.8 L608.2 489.9 L608.1 490 L608 490.2 L607.8 490.3 L607.6 490.3 L607.4 490.4 L607.2 490.5 L606.9 490.5 L606.6 490.5 L606.3 490.5 L606.1 490.5 L605.8 490.4 L605.6 490.3 L605.4 490.3 L605.2 490.2 L605.1 490 L605 489.9 L605 489.8 L605 489.7 L605.1 489.6 L605.2 489.5 L605.4 489.4 L605.6 489.3 L605.8 489.2 L606.1 489.1 L606.3 489.1 L606.6 489.1 L606.9 489.1 L607.2 489.1 L607.4 489.2 L607.6 489.3 L607.8 489.4 L608 489.5 L608.1 489.6 L608.2 489.7 L608.2 489.8 Z" fill="#fff" stroke="none" stroke-width="1.2" />
<path d="M628.1 518.6 L625.5 516.8 L622.6 515.7 L619.3 515.3 L615.8 515.6 L612.2 516.7 L608.7 518.4 L605.2 520.8 L602 523.7 L599.1 527 L596.7 530.7 L594.8 534.7 L593.4 538.7 L592.6 542.7 L592.5 546.6 L593 550.2 L594.2 553.4 L595.9 556.2 L598.2 558.3 L600.9 559.8 L604 560.6 L607.3 560.7 L610.9 560.1" fill="none" stroke="#262626" stroke-width="1" />
<path d="M626.6 520.4 L624.3 518.8 L621.6 517.8 L618.7 517.4 L615.5 517.7 L612.3 518.7 L609 520.2 L605.9 522.4 L603 525 L600.4 528.1 L598.2 531.4 L596.4 535 L595.2 538.7 L594.5 542.3 L594.4 545.8 L594.9 549.1 L595.9 552 L597.5 554.5 L599.5 556.4 L602 557.8 L604.8 558.5 L607.8 558.6 L611 558.1" fill="none" stroke="#262626" stroke-width="1" />
<path d="M663.6 491.6 L661 489.8 L658.1 488.7 L654.8 488.3 L651.3 488.6 L647.7 489.7 L644.2 491.4 L640.7 493.8 L637.5 496.7 L634.6 500 L632.2 503.7 L630.3 507.7 L628.9 511.7 L628.1 515.7 L628 519.6 L628.5 523.2 L629.7 526.4 L631.4 529.2 L633.7 531.3 L636.4 532.8 L639.5 533.6 L642.8 533.7 L646.4 533.1" fill="none" stroke="#262626" stroke-width="1" />
<path d="M662.1 493.4 L659.8 491.8 L657.1 490.8 L654.2 490.4 L651 490.7 L647.8 491.7 L644.5 493.2 L641.4 495.4 L638.5 498 L635.9 501.1 L633.7 504.4 L631.9 508 L630.7 511.7 L630 515.3 L629.9 518.8 L630.4 522.1 L631.4 525 L633 527.5 L635 529.4 L637.5 530.8 L640.3 531.5 L643.3 531.6 L646.5 531.1" fill="none" stroke="#262626" stroke-width="1" />
<path d="M691.9 494.9 L689.3 493.1 L686.4 492 L683.1 491.6 L679.6 491.9 L676 493 L672.5 494.7 L669 497.1 L665.8 500 L662.9 503.3 L660.5 507 L658.6 511 L657.2 515 L656.4 519 L656.3 522.9 L656.8 526.5 L658 529.7 L659.7 532.5 L662 534.6 L664.7 536.1 L667.8 536.9 L671.1 537 L674.7 536.4" fill="none" stroke="#262626" stroke-width="1" />
<path d="M690.4 496.7 L688.1 495.1 L685.4 494.1 L682.5 493.7 L679.3 494 L676.1 495 L672.8 496.5 L669.7 498.7 L666.8 501.3 L664.2 504.4 L662 507.7 L660.2 511.3 L659 515 L658.3 518.6 L658.2 522.1 L658.7 525.4 L659.7 528.3 L661.3 530.8 L663.3 532.7 L665.8 534.1 L668.6 534.8 L671.6 534.9 L674.8 534.4" fill="none" stroke="#262626" stroke-width="1" />
<path d="M685.3 499.4 L683.2 498.9 L680.9 498.9 L678.4 499.3 L676 500.3 L673.6 501.6 L671.3 503.4 L669.2 505.5 L667.3 507.9 L665.8 510.5 L664.6 513.2 L663.8 516 L663.4 518.7 L663.4 521.3 L663.9 523.7 L664.7 525.8 L666 527.6 L667.6 529 L669.5 530 L755.1 560.9 L757.2 561.3 L759.5 561.4 L761.9 560.9 L764.4 560 L766.8 558.6 L769.1 556.8 L771.2 554.7 L773 552.3 L774.6 549.7 L775.8 547 L776.6 544.3 L777 541.5 L777 538.9 L776.5 536.5 L775.6 534.4 L774.4 532.6 L772.8 531.2 L770.9 530.3 Z" fill="#fff" stroke="#262626" stroke-width="1.2" />
<path d="M701.4 502.8 L699.4 501.4 L696.9 500.5 L694.3 500.2 L691.4 500.5 L688.5 501.3 L685.6 502.7 L682.7 504.7 L680.1 507 L677.8 509.8 L675.8 512.8 L674.2 516 L673.1 519.4 L672.4 522.6 L672.3 525.8 L672.8 528.8 L673.7 531.4 L675.1 533.6 L677 535.4 L679.2 536.6 L681.7 537.3 L684.5 537.4 L687.4 536.9" fill="none" stroke="#0a0a0a" stroke-width="4.4" />
<path d="M657 496.1 L654.9 495.6 L652.6 495.6 L650.1 496 L647.7 497 L645.3 498.3 L643 500.1 L640.9 502.2 L639 504.6 L637.5 507.2 L636.3 509.9 L635.5 512.7 L635.1 515.4 L635.1 518 L635.6 520.4 L636.4 522.5 L637.7 524.3 L639.3 525.7 L641.2 526.7 L726.8 557.6 L728.9 558 L731.2 558.1 L733.6 557.6 L736.1 556.7 L738.5 555.3 L740.8 553.5 L742.9 551.4 L744.7 549 L746.3 546.4 L747.5 543.7 L748.3 541 L748.7 538.2 L748.7 535.6 L748.2 533.2 L747.3 531.1 L746.1 529.3 L744.5 527.9 L742.6 527 Z" fill="#fff" stroke="#262626" stroke-width="1.2" />
<path d="M673.1 499.5 L671.1 498.1 L668.6 497.2 L666 496.9 L663.1 497.2 L660.2 498 L657.3 499.4 L654.4 501.4 L651.8 503.7 L649.5 506.5 L647.5 509.5 L645.9 512.7 L644.8 516.1 L644.1 519.3 L644 522.5 L644.5 525.5 L645.4 528.1 L646.8 530.3 L648.7 532.1 L650.9 533.3 L653.4 534 L656.2 534.1 L659.1 533.6" fill="none" stroke="#0a0a0a" stroke-width="4.4" />
<path d="M621.5 523.1 L619.4 522.6 L617.1 522.6 L614.6 523 L612.2 524 L609.8 525.3 L607.5 527.1 L605.4 529.2 L603.5 531.6 L602 534.2 L600.8 536.9 L600 539.7 L599.6 542.4 L599.6 545 L600.1 547.4 L600.9 549.5 L602.2 551.3 L603.8 552.7 L605.7 553.7 L691.3 584.6 L693.4 585 L695.7 585.1 L698.1 584.6 L700.6 583.7 L703 582.3 L705.3 580.5 L707.4 578.4 L709.2 576 L710.8 573.4 L712 570.7 L712.8 568 L713.2 565.2 L713.2 562.6 L712.7 560.2 L711.8 558.1 L710.6 556.3 L709 554.9 L707.1 554 Z" fill="#fff" stroke="#262626" stroke-width="1.2" />
<path d="M637.6 526.5 L635.6 525.1 L633.1 524.2 L630.5 523.9 L627.6 524.2 L624.7 525 L621.8 526.4 L618.9 528.4 L616.3 530.7 L614 533.5 L612 536.5 L610.4 539.7 L609.3 543.1 L608.6 546.3 L608.5 549.5 L609 552.5 L609.9 555.1 L611.3 557.3 L613.2 559.1 L615.4 560.3 L617.9 561 L620.7 561.1 L623.6 560.6" fill="none" stroke="#0a0a0a" stroke-width="4.4" />
<path d="M547.1 554.3 L547.1 531.9 C547.1 522.4 562.6 522.4 564.1 531.9 L566.4 556.8 C560.6 560.3 552.1 558.3 547.1 554.3 Z" fill="#fff" stroke="#262626" stroke-width="1.2" />
<path d="M517.1 513.3 L519.5 524.7 L527.8 528.1 L530.1 529.3 L534.6 528.1 L536.5 526.6 L538.7 527.3 L539.9 529.3 L539.9 507.4 L523.2 513.3 Z" fill="#fff" stroke="#262626" stroke-width="1.2" />
<path d="M513.4 509.9 L527 502.5 L539.9 507.4 L523.2 513.3 Z" fill="#fff" stroke="#262626" stroke-width="1.2" />
<path d="M513.4 509.9 L514.2 512.2 L523.6 515.2 L523.2 513.3 Z" fill="#fff" stroke="#262626" stroke-width="1.2" />
<path d="M525.5 514.6 L525.5 524.7" fill="none" stroke="#262626" stroke-width="1" />
<path d="M535.8 509.6 L535.8 526.9" fill="none" stroke="#262626" stroke-width="1" />
<path d="M563.1 531.6 L565.7 544.2 L574.9 548 L577.5 549.3 L582.5 548 L584.6 546.3 L587.1 547.1 L588.4 549.3 L588.4 525 L569.9 531.6 Z" fill="#fff" stroke="#262626" stroke-width="1.2" />
<path d="M558.9 527.8 L574.1 519.6 L588.4 525 L569.9 531.6 Z" fill="#fff" stroke="#262626" stroke-width="1.2" />
<path d="M558.9 527.8 L559.8 530.3 L570.3 533.7 L569.9 531.6 Z" fill="#fff" stroke="#262626" stroke-width="1.2" />
<path d="M572.4 533 L572.4 544.2" fill="none" stroke="#262626" stroke-width="1" />
<path d="M583.8 527.4 L583.8 546.7" fill="none" stroke="#262626" stroke-width="1" />
<text transform="matrix(0.951 0.343 0.12 1 536.8 495.2)" font-size="5.2" font-weight="bold" fill="#000" stroke="#000" stroke-width="0.25" text-anchor="start" letter-spacing="0.25" filter="url(#gray)">ISO 5599 SIZE 1</text>
<text transform="matrix(0.951 0.343 0.12 1 543.8 508)" font-size="5.6" font-weight="bold" fill="#000" stroke="#000" stroke-width="0.25" text-anchor="start" letter-spacing="0.9" filter="url(#gray)">12 - 14</text>
<text transform="matrix(0.951 0.343 0.12 1 542.1 515.4)" font-size="5.6" font-weight="bold" fill="#000" stroke="#000" stroke-width="0.25" text-anchor="start" letter-spacing="1.2" filter="url(#gray)">2 <tspan font-size="8.5" dy="0.8">●</tspan><tspan dy="-0.8"> 4</tspan></text>
<path d="M833.3 522.4 L841.3 525.4 L843.3 527.4 L840.3 529.4 L840.3 544.4 L835.3 546.4 L834.3 532.4 Z" fill="#fff" stroke="#262626" stroke-width="1.1" />
<path d="M668.9 534.2 L730.3 556.4 L730.3 618.4 L668.9 596.2 Z" fill="#fff" stroke="#262626" stroke-width="1.2" />
<path d="M730.3 556.4 L836.2 517.5 L836.2 579.5 L730.3 618.4 Z" fill="#fff" stroke="#262626" stroke-width="1.2" />
<path d="M668.9 534.2 L774.8 495.3 L836.2 517.5 L730.3 556.4 Z" fill="#fff" stroke="#262626" stroke-width="1.2" />
<path d="M731.7 559 L834.8 521.2" fill="none" stroke="#262626" stroke-width="1" />
<path d="M734.1 560 L734.1 613" fill="none" stroke="#262626" stroke-width="1" />
<path d="M833.4 523.5 L833.4 576.5" fill="none" stroke="#262626" stroke-width="1" />
<path d="M734.1 613 L833.4 576.5" fill="none" stroke="#262626" stroke-width="1" />
<path d="M750.9 548 L755.6 546.3" fill="none" stroke="#262626" stroke-width="2.2" />
<path d="M780.9 537 L785.6 535.3" fill="none" stroke="#262626" stroke-width="2.2" />
<path d="M810.9 526 L815.6 524.3" fill="none" stroke="#262626" stroke-width="2.2" />
<path d="M724.8 545.8 L725.4 545.9 L726 546 L726.6 546.1 L727.3 546 L727.9 545.9 L728.4 545.8 L728.8 545.6 L729.1 545.4 L729.1 545.1 L729.1 544.9 L728.8 544.7 L728.4 544.5 L714.8 539.6 L714.3 539.4 L713.7 539.3 L713 539.3 L712.3 539.3 L711.7 539.4 L711.2 539.6 L710.8 539.8 L710.6 540 L710.5 540.2 L710.6 540.5 L710.8 540.7 L711.2 540.9 Z" fill="#fff" stroke="#262626" stroke-width="1.2" />
<path d="M727.4 538.4 L728.4 538.7 L729.5 538.8 L730.7 538.9 L731.9 538.8 L733.1 538.7 L734 538.4 L734.8 538 L735.2 537.6 L735.4 537.2 L735.2 536.7 L734.7 536.3 L734 536 L718.3 530.3 L717.3 530.1 L716.2 529.9 L715 529.8 L713.8 529.9 L712.6 530.1 L711.7 530.3 L710.9 530.7 L710.5 531.1 L710.3 531.5 L710.5 532 L711 532.4 L711.7 532.7 Z" fill="#fff" stroke="#262626" stroke-width="1.2" />
<path d="M748.9 535.8 L749.9 536 L751 536.2 L752.2 536.3 L753.4 536.2 L754.5 536 L755.5 535.8 L756.2 535.4 L756.7 535 L756.8 534.6 L756.7 534.1 L756.2 533.7 L755.4 533.4 L738.6 527.3 L737.6 527 L736.5 526.9 L735.3 526.8 L734.1 526.9 L733 527 L732 527.3 L731.3 527.6 L730.8 528.1 L730.7 528.5 L730.8 528.9 L731.3 529.3 L732.1 529.7 Z" fill="#fff" stroke="#262626" stroke-width="1.2" />
<path d="M755 528.6 L755.9 528.8 L757.1 529 L758.3 529.1 L759.5 529 L760.6 528.8 L761.6 528.6 L762.3 528.2 L762.8 527.8 L762.9 527.3 L762.8 526.9 L762.3 526.5 L761.5 526.1 L744.7 520.1 L743.7 519.8 L742.6 519.6 L741.4 519.6 L740.2 519.6 L739.1 519.8 L738.1 520.1 L737.4 520.4 L736.9 520.8 L736.7 521.3 L736.9 521.7 L737.4 522.1 L738.1 522.5 Z" fill="#fff" stroke="#262626" stroke-width="1.2" />
<path d="M774.1 526.4 L775.1 526.7 L776.2 526.9 L777.4 526.9 L778.6 526.9 L779.7 526.7 L780.7 526.4 L781.4 526.1 L781.9 525.7 L782 525.2 L781.9 524.8 L781.4 524.4 L780.7 524 L766.1 518.8 L765.1 518.5 L764 518.4 L762.8 518.3 L761.6 518.4 L760.5 518.5 L759.5 518.8 L758.8 519.1 L758.3 519.6 L758.2 520 L758.3 520.4 L758.8 520.9 L759.5 521.2 Z" fill="#fff" stroke="#262626" stroke-width="1.2" />
<path d="M780.6 518.8 L781.6 519.1 L782.7 519.2 L784 519.3 L785.2 519.2 L786.3 519.1 L787.2 518.8 L788 518.4 L788.4 518 L788.6 517.6 L788.4 517.1 L787.9 516.7 L787.2 516.4 L770.2 510.2 L769.2 510 L768.1 509.8 L766.9 509.7 L765.7 509.8 L764.5 510 L763.6 510.2 L762.8 510.6 L762.4 511 L762.2 511.4 L762.4 511.9 L762.9 512.3 L763.6 512.6 Z" fill="#fff" stroke="#262626" stroke-width="1.2" />
<path d="M795.6 513.4 L796.2 513.5 L796.8 513.6 L797.4 513.6 L798.1 513.6 L798.7 513.5 L799.2 513.3 L799.6 513.2 L799.9 512.9 L800 512.7 L799.9 512.5 L799.6 512.2 L799.2 512 L783.9 506.5 L783.4 506.4 L782.7 506.3 L782.1 506.3 L781.4 506.3 L780.8 506.4 L780.3 506.5 L779.9 506.7 L779.6 506.9 L779.6 507.2 L779.7 507.4 L779.9 507.6 L780.3 507.8 Z" fill="#fff" stroke="#262626" stroke-width="1.2" />
<path d="M723.2 521.9 L723.9 522.2 L724.4 522.5 L724.8 522.8 L724.9 523.2 L724.9 523.6 L724.8 523.9 L724.4 524.3 L723.9 524.6 L723.3 524.9 L722.5 525.1 L721.6 525.3 L720.7 525.5 L719.6 525.5 L718.6 525.5 L717.6 525.5 L716.6 525.3 L715.8 525.1 L715 524.9 L714.3 524.6 L713.8 524.3 L713.4 523.9 L713.2 523.6 L713.2 523.2 L713.4 522.8 L713.7 522.5 L714.3 522.2 L714.9 521.9 L715.7 521.6 L716.6 521.5 L717.5 521.3 L718.5 521.3 L719.6 521.3 L720.6 521.3 L721.5 521.4 L722.4 521.6 L723.2 521.9 Z" fill="#111" stroke="#262626" stroke-width="0.8" />
<path d="M721.2 523.1 L721.2 523.2 L721.1 523.3 L721 523.4 L720.8 523.5 L720.6 523.6 L720.4 523.7 L720.1 523.7 L719.9 523.8 L719.6 523.8 L719.3 523.8 L719 523.7 L718.8 523.7 L718.6 523.6 L718.4 523.5 L718.2 523.4 L718.1 523.3 L718 523.2 L718 523.1 L718 523 L718.1 522.8 L718.2 522.7 L718.4 522.6 L718.6 522.6 L718.8 522.5 L719 522.4 L719.3 522.4 L719.6 522.4 L719.9 522.4 L720.1 522.4 L720.4 522.5 L720.6 522.6 L720.8 522.6 L721 522.7 L721.1 522.8 L721.2 523 L721.2 523.1 Z" fill="#fff" stroke="none" stroke-width="1.2" />
<path d="M749.2 512.3 L749.8 512.6 L750.3 512.9 L750.7 513.2 L750.9 513.6 L750.9 514 L750.7 514.3 L750.4 514.7 L749.9 515 L749.2 515.3 L748.4 515.5 L747.6 515.7 L746.6 515.9 L745.6 515.9 L744.6 515.9 L743.6 515.9 L742.6 515.7 L741.7 515.5 L740.9 515.3 L740.3 515 L739.7 514.7 L739.4 514.3 L739.2 514 L739.2 513.6 L739.4 513.2 L739.7 512.9 L740.2 512.6 L740.9 512.3 L741.6 512 L742.5 511.9 L743.5 511.7 L744.5 511.7 L745.5 511.7 L746.5 511.7 L747.5 511.9 L748.4 512 L749.2 512.3 Z" fill="#111" stroke="#262626" stroke-width="0.8" />
<path d="M747.1 513.5 L747.1 513.6 L747 513.7 L746.9 513.8 L746.8 513.9 L746.6 514 L746.3 514.1 L746.1 514.1 L745.8 514.2 L745.5 514.2 L745.3 514.2 L745 514.1 L744.7 514.1 L744.5 514 L744.3 513.9 L744.2 513.8 L744 513.7 L744 513.6 L743.9 513.5 L744 513.4 L744 513.3 L744.2 513.1 L744.3 513 L744.5 513 L744.7 512.9 L745 512.8 L745.3 512.8 L745.5 512.8 L745.8 512.8 L746.1 512.8 L746.3 512.9 L746.6 513 L746.8 513 L746.9 513.1 L747 513.3 L747.1 513.4 L747.1 513.5 Z" fill="#fff" stroke="none" stroke-width="1.2" />
<path d="M804.1 521.9 L804.8 522.2 L805.3 522.5 L805.7 522.8 L805.8 523.2 L805.8 523.6 L805.7 523.9 L805.3 524.3 L804.8 524.6 L804.2 524.9 L803.4 525.1 L802.5 525.3 L801.6 525.4 L800.5 525.5 L799.5 525.5 L798.5 525.4 L797.5 525.3 L796.7 525.1 L795.9 524.9 L795.2 524.6 L794.7 524.3 L794.3 523.9 L794.1 523.6 L794.1 523.2 L794.3 522.8 L794.6 522.5 L795.2 522.2 L795.8 521.9 L796.6 521.6 L797.5 521.4 L798.4 521.3 L799.4 521.2 L800.5 521.2 L801.5 521.3 L802.4 521.4 L803.3 521.6 L804.1 521.9 Z" fill="#111" stroke="#262626" stroke-width="0.8" />
<path d="M802.1 523.1 L802.1 523.2 L802 523.3 L801.9 523.4 L801.7 523.5 L801.5 523.6 L801.3 523.7 L801 523.7 L800.8 523.8 L800.5 523.8 L800.2 523.8 L799.9 523.7 L799.7 523.7 L799.5 523.6 L799.3 523.5 L799.1 523.4 L799 523.3 L798.9 523.2 L798.9 523.1 L798.9 523 L799 522.8 L799.1 522.7 L799.3 522.6 L799.5 522.5 L799.7 522.5 L799.9 522.4 L800.2 522.4 L800.5 522.4 L800.8 522.4 L801 522.4 L801.3 522.5 L801.5 522.5 L801.7 522.6 L801.9 522.7 L802 522.8 L802.1 523 L802.1 523.1 Z" fill="#fff" stroke="none" stroke-width="1.2" />
<path d="M751.8 541 L752.5 541.3 L753 541.6 L753.4 541.9 L753.6 542.3 L753.6 542.7 L753.4 543.1 L753 543.4 L752.5 543.7 L751.9 544 L751.1 544.3 L750.2 544.4 L749.3 544.6 L748.3 544.6 L747.2 544.6 L746.2 544.6 L745.3 544.4 L744.4 544.3 L743.6 544 L742.9 543.7 L742.4 543.4 L742 543.1 L741.9 542.7 L741.8 542.3 L742 542 L742.4 541.6 L742.9 541.3 L743.5 541 L744.3 540.8 L745.2 540.6 L746.1 540.4 L747.1 540.4 L748.2 540.4 L749.2 540.4 L750.1 540.6 L751 540.8 L751.8 541 Z" fill="#111" stroke="#262626" stroke-width="0.8" />
<path d="M749.8 542.2 L749.8 542.3 L749.7 542.4 L749.6 542.6 L749.4 542.7 L749.2 542.7 L749 542.8 L748.8 542.9 L748.5 542.9 L748.2 542.9 L747.9 542.9 L747.7 542.9 L747.4 542.8 L747.2 542.7 L747 542.7 L746.8 542.6 L746.7 542.4 L746.6 542.3 L746.6 542.2 L746.6 542.1 L746.7 542 L746.8 541.9 L747 541.8 L747.2 541.7 L747.4 541.6 L747.7 541.5 L747.9 541.5 L748.2 541.5 L748.5 541.5 L748.8 541.5 L749 541.6 L749.2 541.7 L749.4 541.8 L749.6 541.9 L749.7 542 L749.8 542.1 L749.8 542.2 Z" fill="#fff" stroke="none" stroke-width="1.2" />
<path d="M769.7 571 L767.1 569.2 L764.2 568.1 L760.9 567.7 L757.4 568 L753.8 569.1 L750.3 570.8 L746.8 573.2 L743.6 576.1 L740.7 579.4 L738.3 583.1 L736.4 587.1 L735 591.1 L734.2 595.1 L734.1 599 L734.6 602.6 L735.8 605.8 L737.5 608.6 L739.8 610.7 L742.5 612.2 L745.6 613 L748.9 613.1 L752.5 612.5" fill="none" stroke="#262626" stroke-width="1" />
<path d="M768.2 572.8 L765.9 571.2 L763.2 570.2 L760.3 569.8 L757.1 570.1 L753.9 571.1 L750.6 572.6 L747.5 574.8 L744.6 577.4 L742 580.5 L739.8 583.8 L738 587.4 L736.8 591.1 L736.1 594.7 L736 598.2 L736.5 601.5 L737.5 604.4 L739.1 606.9 L741.1 608.8 L743.6 610.2 L746.4 610.9 L749.4 611 L752.6 610.5" fill="none" stroke="#262626" stroke-width="1" />
<path d="M805.2 544 L802.6 542.2 L799.7 541.1 L796.4 540.7 L792.9 541 L789.3 542.1 L785.8 543.8 L782.3 546.2 L779.1 549.1 L776.2 552.4 L773.8 556.1 L771.9 560.1 L770.5 564.1 L769.7 568.1 L769.6 572 L770.1 575.6 L771.3 578.8 L773 581.6 L775.3 583.7 L778 585.2 L781.1 586 L784.4 586.1 L788 585.5" fill="none" stroke="#262626" stroke-width="1" />
<path d="M803.7 545.8 L801.4 544.2 L798.7 543.2 L795.8 542.8 L792.6 543.1 L789.4 544.1 L786.1 545.6 L783 547.8 L780.1 550.4 L777.5 553.5 L775.3 556.8 L773.5 560.4 L772.3 564.1 L771.6 567.7 L771.5 571.2 L772 574.5 L773 577.4 L774.6 579.9 L776.6 581.8 L779.1 583.2 L781.9 583.9 L784.9 584 L788.1 583.5" fill="none" stroke="#262626" stroke-width="1" />
<path d="M815.5 524.6 L820 522.1 L820.5 546.6 L816 546.6 Z" fill="#111" stroke="#262626" stroke-width="0.6" />
<path d="M831.3 560.7 L831.1 557.5 L830.5 554.5 L829.4 551.8 L828 549.6 L826.2 547.9 L824.2 546.7 L821.9 546.2 L819.5 546.2 L817 546.8 L814.5 548 L812.1 549.8 L809.8 552 L807.8 554.7 L806 557.7 L804.6 561 L803.5 564.4 L802.9 567.8 L802.7 571.3 L802.9 574.5 L803.5 577.5 L804.6 580.2 L806 582.4 L807.8 584.1 L809.8 585.3 L812.1 585.8 L814.5 585.8 L817 585.2 L819.5 584 L821.9 582.2 L824.2 580 L826.2 577.3 L828 574.3 L829.4 571 L830.5 567.6 L831.1 564.2 L831.3 560.7 Z" fill="#fff" stroke="#0a0a0a" stroke-width="2.6" />
<path d="M790.9 542.3 L788.5 541.8 L786 541.9 L783.3 542.6 L780.7 543.8 L778.1 545.7 L775.8 548 L773.6 550.7 L771.7 553.8 L770.2 557.2 L769.1 560.6 L768.5 564.2 L768.2 567.6 L768.5 570.9 L769.2 573.9 L770.3 576.5 L771.9 578.7 L773.7 580.4 L775.9 581.5 L846.3 606.9 L848.7 607.4 L851.3 607.4 L853.9 606.7 L856.5 605.4 L859.1 603.6 L861.5 601.2 L863.6 598.5 L865.5 595.4 L867 592.1 L868.1 588.6 L868.8 585.1 L869 581.6 L868.7 578.3 L868 575.3 L866.9 572.7 L865.4 570.5 L863.5 568.8 L861.3 567.7 Z" fill="#fff" stroke="#262626" stroke-width="1.2" />
<path d="M852.3 545.9 L856.8 543.4 L857.3 567.9 L852.8 567.9 Z" fill="#111" stroke="#262626" stroke-width="0.6" />
<path d="M868.1 582 L867.9 578.8 L867.3 575.8 L866.2 573.1 L864.8 570.9 L863 569.2 L861 568 L858.7 567.5 L856.3 567.5 L853.8 568.1 L851.3 569.3 L848.9 571.1 L846.6 573.3 L844.6 576 L842.8 579 L841.4 582.3 L840.3 585.7 L839.7 589.1 L839.5 592.6 L839.7 595.8 L840.3 598.8 L841.4 601.5 L842.8 603.7 L844.6 605.4 L846.6 606.6 L848.9 607.1 L851.3 607.1 L853.8 606.5 L856.3 605.3 L858.7 603.5 L861 601.3 L863 598.6 L864.8 595.6 L866.2 592.3 L867.3 588.9 L867.9 585.5 L868.1 582 Z" fill="#fff" stroke="#0a0a0a" stroke-width="2.6" />
<path d="M752.1 548.1 L756.6 545.6 L757.1 570.1 L752.6 570.1 Z" fill="#111" stroke="#262626" stroke-width="0.6" />
<path d="M767.9 584.2 L767.7 581 L767.1 578 L766 575.3 L764.6 573.1 L762.8 571.4 L760.8 570.2 L758.5 569.7 L756.1 569.7 L753.6 570.3 L751.1 571.5 L748.7 573.3 L746.4 575.5 L744.4 578.2 L742.6 581.2 L741.2 584.5 L740.1 587.9 L739.5 591.3 L739.3 594.8 L739.5 598 L740.1 601 L741.2 603.7 L742.6 605.9 L744.4 607.6 L746.4 608.8 L748.7 609.3 L751.1 609.3 L753.6 608.7 L756.1 607.5 L758.5 605.7 L760.8 603.5 L762.8 600.8 L764.6 597.8 L766 594.5 L767.1 591.1 L767.7 587.7 L767.9 584.2 Z" fill="#fff" stroke="#0a0a0a" stroke-width="2.6" />
<path d="M688.7 606.7 L688.7 584.3 C688.7 574.8 704.2 574.8 705.7 584.3 L708 609.2 C702.2 612.7 693.7 610.7 688.7 606.7 Z" fill="#fff" stroke="#262626" stroke-width="1.2" />
<path d="M658.7 565.7 L661.1 577.1 L669.4 580.5 L671.7 581.7 L676.2 580.5 L678.1 579 L680.3 579.7 L681.5 581.7 L681.5 559.8 L664.9 565.7 Z" fill="#fff" stroke="#262626" stroke-width="1.2" />
<path d="M655 562.3 L668.6 554.9 L681.5 559.8 L664.9 565.7 Z" fill="#fff" stroke="#262626" stroke-width="1.2" />
<path d="M655 562.3 L655.8 564.6 L665.2 567.6 L664.9 565.7 Z" fill="#fff" stroke="#262626" stroke-width="1.2" />
<path d="M667.1 567 L667.1 577.1" fill="none" stroke="#262626" stroke-width="1" />
<path d="M677.4 562 L677.4 579.3" fill="none" stroke="#262626" stroke-width="1" />
<path d="M704.7 584 L707.3 596.6 L716.5 600.4 L719.1 601.7 L724.1 600.4 L726.2 598.7 L728.7 599.5 L730 601.7 L730 577.4 L711.5 584 Z" fill="#fff" stroke="#262626" stroke-width="1.2" />
<path d="M700.5 580.2 L715.7 572 L730 577.4 L711.5 584 Z" fill="#fff" stroke="#262626" stroke-width="1.2" />
<path d="M700.5 580.2 L701.4 582.7 L711.9 586.1 L711.5 584 Z" fill="#fff" stroke="#262626" stroke-width="1.2" />
<path d="M714 585.4 L714 596.6" fill="none" stroke="#262626" stroke-width="1" />
<path d="M725.4 579.8 L725.4 599.1" fill="none" stroke="#262626" stroke-width="1" />
<text transform="matrix(0.951 0.343 0.12 1 678.4 547.6)" font-size="5.2" font-weight="bold" fill="#000" stroke="#000" stroke-width="0.25" text-anchor="start" letter-spacing="0.25" filter="url(#gray)">ISO 5599 SIZE 1</text>
<text transform="matrix(0.951 0.343 0.12 1 685.4 560.4)" font-size="5.6" font-weight="bold" fill="#000" stroke="#000" stroke-width="0.25" text-anchor="start" letter-spacing="0.9" filter="url(#gray)">12 - 14</text>
<text transform="matrix(0.951 0.343 0.12 1 683.7 567.8)" font-size="5.6" font-weight="bold" fill="#000" stroke="#000" stroke-width="0.25" text-anchor="start" letter-spacing="1.2" filter="url(#gray)">2 <tspan font-size="8.5" dy="0.8">●</tspan><tspan dy="-0.8"> 4</tspan></text>
<path d="M1008.5 590.5 L1017.8 592.2 L1018.6 595.6 L1015.3 596.4 L1015.3 610.7 L1009.4 612.4 Z" fill="#fff" stroke="#262626" stroke-width="1.1" />
<path d="M902.4 619.2 L1006.8 577.9 L1008.9 674.7 L902.4 713.5 Z" fill="#fff" stroke="#262626" stroke-width="1.2" />
<path d="M903.8 623.9 L1006 582.9" fill="none" stroke="#262626" stroke-width="1" />
<path d="M908.3 625.9 L908.3 706.7 L974.8 682.3" fill="none" stroke="#262626" stroke-width="1" />
<path d="M902.4 713.5 L908.3 706.7" fill="none" stroke="#262626" stroke-width="1" />
<path d="M1001.8 585.5 L1002.6 610.7" fill="none" stroke="#262626" stroke-width="1" />
<path d="M917.6 634.3 L917.6 691.6" fill="none" stroke="#262626" stroke-width="1" />
<path d="M923.5 674.7 L923.5 692.4" fill="none" stroke="#262626" stroke-width="1" />
<path d="M923.5 691.6 Q941.2 701.7 958 689.9" fill="none" stroke="#262626" stroke-width="1" />
<path d="M958 674.7 L958 689.9" fill="none" stroke="#262626" stroke-width="1" />
<path d="M862.8 604.8 L870.4 602 L874.1 596.4 L888.1 600.6 L902.4 619.2 L902.4 713.5 L862.8 700 Z" fill="#fff" stroke="#262626" stroke-width="1.2" />
<path d="M862.8 604.8 L872.1 607.4 L874.1 596.4" fill="none" stroke="#262626" stroke-width="1" />
<path d="M874.1 596.4 L880.5 592.2 L917.6 597.3 L917.6 614.1 L902.4 619.2 L888.9 614.1 L888.9 600.6 Z" fill="#fff" stroke="#262626" stroke-width="1.1" />
<path d="M914.2 590.5 L920.9 580.4 L958 582.1 L958 597.3 L920.9 610.7 L917.6 614.1 L914.2 607.4 Z" fill="#fff" stroke="#262626" stroke-width="1.1" />
<path d="M954.6 573.7 L958 566.9 L996.7 563.6 L998.4 578.7 L1006.8 577.9 L958 597.3 Z" fill="#fff" stroke="#262626" stroke-width="1.1" />
<path d="M953.8 567.8 L953.8 576.2 A21.9 8.6 0 0 0 997.6 576.2 L997.6 567.8 Z" fill="#fff" stroke="#262626" stroke-width="1.1" />
<ellipse cx="975.7" cy="567.8" rx="21.9" ry="8.6" fill="#fff" stroke="#262626" stroke-width="1.1"/>
<ellipse cx="975.7" cy="567.8" rx="16.3" ry="6.7" fill="#fff" stroke="#262626" stroke-width="1.1"/>
<path d="M960.9 457.3 L960.9 567.8 A14.8 5.9 0 0 0 990.5 567.8 L990.5 457.3 Z" fill="#fff" stroke="#444" stroke-width="1" />
<ellipse cx="975.7" cy="457.3" rx="14.8" ry="5.9" fill="#fff" stroke="#444" stroke-width="1.0"/>
<path d="M913.4 584.6 L913.4 593 A21.9 8.6 0 0 0 957.2 593 L957.2 584.6 Z" fill="#fff" stroke="#262626" stroke-width="1.1" />
<ellipse cx="935.3" cy="584.6" rx="21.9" ry="8.6" fill="#fff" stroke="#262626" stroke-width="1.1"/>
<ellipse cx="935.3" cy="584.6" rx="16.3" ry="6.7" fill="#fff" stroke="#262626" stroke-width="1.1"/>
<path d="M920.8 472 L920.8 584.6 A14.8 5.9 0 0 0 950.4 584.6 L950.4 472 Z" fill="#fff" stroke="#444" stroke-width="1" />
<ellipse cx="935.6" cy="472" rx="14.8" ry="5.9" fill="#fff" stroke="#444" stroke-width="1.0"/>
<path d="M902.4 619.2 L1006.8 577.9 L1006.5 584.1 L902.8 625.1 Z" fill="#fff" stroke="#262626" stroke-width="1.1" />
<path d="M874.1 596.4 L880.5 592.2 L917.6 597.3 L917.6 614.1 L902.4 619.2 L888.9 614.1 L888.9 600.6 Z" fill="#fff" stroke="#262626" stroke-width="1.1" />
<path d="M873.8 597.3 L873.8 605.7 A21.9 8.6 0 0 0 917.6 605.7 L917.6 597.3 Z" fill="#fff" stroke="#262626" stroke-width="1.1" />
<ellipse cx="895.7" cy="597.3" rx="21.9" ry="8.6" fill="#fff" stroke="#262626" stroke-width="1.1"/>
<ellipse cx="895.7" cy="597.3" rx="16.3" ry="6.7" fill="#fff" stroke="#262626" stroke-width="1.1"/>
<path d="M880 486.8 L880 597.3 A14.8 5.9 0 0 0 909.6 597.3 L909.6 486.8 Z" fill="#fff" stroke="#444" stroke-width="1" />
<ellipse cx="894.8" cy="486.8" rx="14.8" ry="5.9" fill="#fff" stroke="#444" stroke-width="1.0"/>
<path d="M894.8 397.1 L912 413.9 L906.6 416 L907.3 454.3 L883.7 463.5 L883.6 424.4 L878 425.4 Z" fill="#fff" stroke="#262626" stroke-width="1.1" />
<path d="M883.7 463.5 L883.6 424.4 L878 425.4 L894.8 397.1" fill="none" stroke="#262626" stroke-width="2.2" />
<path d="M935.3 445.1 L918.1 428.3 L923.5 426.2 L922.8 387.9 L946.4 378.7 L946.5 417.8 L952.1 416.8 Z" fill="#fff" stroke="#262626" stroke-width="1.1" />
<path d="M935.3 445.1 L918.1 428.3 L923.5 426.2 L922.8 387.9 L946.4 378.7" fill="none" stroke="#262626" stroke-width="2.2" />
<path d="M975.2 367.6 L992.4 384.4 L987 386.5 L987.7 424.8 L964.1 434 L964 394.9 L958.4 395.9 Z" fill="#fff" stroke="#262626" stroke-width="1.1" />
<path d="M964.1 434 L964 394.9 L958.4 395.9 L975.2 367.6" fill="none" stroke="#262626" stroke-width="2.2" />
<path d="M974.3 601.2 L971.8 599.4 L968.8 598.3 L965.5 598 L962.1 598.3 L958.5 599.3 L954.9 601.1 L951.5 603.4 L948.3 606.3 L945.4 609.7 L942.9 613.4 L941 617.3 L939.6 621.4 L938.9 625.4 L938.8 629.3 L939.3 632.9 L940.4 636.1 L942.1 638.8 L944.4 641 L947.1 642.5 L950.2 643.3 L953.6 643.4 L957.1 642.8" fill="#fff" stroke="#262626" stroke-width="1" />
<path d="M972.9 603 L970.6 601.4 L967.9 600.4 L964.9 600.1 L961.8 600.4 L958.5 601.3 L955.3 602.9 L952.1 605 L949.2 607.7 L946.6 610.7 L944.4 614.1 L942.7 617.6 L941.4 621.3 L940.7 625 L940.6 628.5 L941.1 631.7 L942.1 634.7 L943.7 637.1 L945.7 639.1 L948.2 640.4 L951 641.2 L954.1 641.3 L957.3 640.7" fill="none" stroke="#262626" stroke-width="1" />
<path d="M942.8 630.4 L940.3 628.6 L937.3 627.5 L934 627.2 L930.6 627.5 L927 628.5 L923.4 630.3 L920 632.6 L916.8 635.5 L913.9 638.9 L911.4 642.6 L909.5 646.5 L908.1 650.6 L907.4 654.6 L907.3 658.5 L907.8 662.1 L908.9 665.3 L910.6 668 L912.9 670.2 L915.6 671.7 L918.7 672.5 L922.1 672.6 L925.6 672" fill="#fff" stroke="#262626" stroke-width="1" />
<path d="M941.4 632.2 L939.1 630.6 L936.4 629.6 L933.4 629.3 L930.3 629.6 L927 630.5 L923.8 632.1 L920.6 634.2 L917.7 636.9 L915.1 639.9 L912.9 643.3 L911.2 646.8 L909.9 650.5 L909.2 654.2 L909.1 657.7 L909.6 660.9 L910.6 663.9 L912.2 666.3 L914.2 668.3 L916.7 669.6 L919.5 670.4 L922.6 670.5 L925.8 669.9" fill="none" stroke="#262626" stroke-width="1" />
<path d="M1033.3 624.7 L1031.6 622.7 L1029.6 621.3 L1027.2 620.4 L1024.6 620.1 L1021.9 620.3 L1019 621.1 L1016.1 622.4 L1013.4 624.2 L1010.8 626.5 L1008.4 629.1 L1006.4 632" fill="none" stroke="#0a0a0a" stroke-width="4.4" />
<path d="M964.9 604.7 L962.8 604.2 L960.4 604.2 L958 604.7 L955.6 605.6 L953.2 607 L950.9 608.7 L948.8 610.8 L946.9 613.2 L945.4 615.8 L944.2 618.5 L943.4 621.3 L943 624 L943 626.6 L943.4 629 L944.3 631.2 L945.6 633 L947.2 634.4 L949.1 635.3 L1032.7 665.5 L1034.9 666 L1037.2 666 L1039.6 665.5 L1042.1 664.6 L1044.5 663.2 L1046.8 661.5 L1048.9 659.4 L1050.7 657 L1052.3 654.4 L1053.5 651.7 L1054.3 648.9 L1054.7 646.2 L1054.6 643.6 L1054.2 641.2 L1053.3 639 L1052.1 637.2 L1050.5 635.9 L1048.6 634.9 Z" fill="#fff" stroke="#262626" stroke-width="1.2" />
<path d="M998.1 614.3 L996.1 612.9 L993.6 612 L991 611.7 L988.1 612 L985.2 612.8 L982.3 614.2 L979.4 616.2 L976.8 618.5 L974.5 621.3 L972.5 624.3 L970.9 627.5 L969.8 630.9 L969.1 634.1 L969 637.3 L969.5 640.3 L970.4 642.9 L971.8 645.1 L973.7 646.9 L975.9 648.1 L978.4 648.8 L981.2 648.9 L984.1 648.4" fill="none" stroke="#0a0a0a" stroke-width="4.4" />
<path d="M933.4 633.9 L931.3 633.4 L928.9 633.4 L926.5 633.9 L924.1 634.8 L921.7 636.2 L919.4 637.9 L917.3 640 L915.4 642.4 L913.9 645 L912.7 647.7 L911.9 650.5 L911.5 653.2 L911.5 655.8 L911.9 658.2 L912.8 660.4 L914.1 662.2 L915.7 663.6 L917.6 664.5 L984.1 688.5 L986.3 689 L988.6 689 L991 688.6 L993.4 687.6 L995.8 686.3 L998.1 684.5 L1000.2 682.4 L1002.1 680 L1003.7 677.4 L1004.9 674.7 L1005.7 671.9 L1006.1 669.2 L1006 666.6 L1005.6 664.2 L1004.7 662.1 L1003.5 660.3 L1001.9 658.9 L1000 657.9 Z" fill="#fff" stroke="#262626" stroke-width="1.2" />
<path d="M966.6 643.5 L964.6 642.1 L962.1 641.2 L959.5 640.9 L956.6 641.2 L953.7 642 L950.8 643.4 L947.9 645.4 L945.3 647.7 L943 650.5 L941 653.5 L939.4 656.7 L938.3 660.1 L937.6 663.3 L937.5 666.5 L938 669.5 L938.9 672.1 L940.3 674.3 L942.2 676.1 L944.4 677.3 L946.9 678 L949.7 678.1 L952.6 677.6" fill="none" stroke="#0a0a0a" stroke-width="4.4" />
<path d="M855.6 637.2 L857.7 647.5 L865.2 650.7 L867.4 651.7 L871.5 650.7 L873.2 649.3 L875.2 649.9 L876.3 651.7 L876.3 631.8 L861.1 637.2 Z" fill="#fff" stroke="#262626" stroke-width="1.2" />
<path d="M852.1 634.1 L864.6 627.4 L876.3 631.8 L861.1 637.2 Z" fill="#fff" stroke="#262626" stroke-width="1.2" />
<path d="M852.1 634.1 L852.8 636.1 L861.5 638.9 L861.1 637.2 Z" fill="#fff" stroke="#262626" stroke-width="1.2" />
<path d="M863.2 638.4 L863.2 647.5" fill="none" stroke="#262626" stroke-width="1" />
<path d="M872.5 633.8 L872.5 649.6" fill="none" stroke="#262626" stroke-width="1" />
<path d="M879.2 645.3 L881.4 656 L889.2 659.2 L891.4 660.4 L895.7 659.2 L897.5 657.8 L899.6 658.5 L900.7 660.4 L900.7 639.7 L885 645.3 Z" fill="#fff" stroke="#262626" stroke-width="1.2" />
<path d="M875.6 642.1 L888.5 635.1 L900.7 639.7 L885 645.3 Z" fill="#fff" stroke="#262626" stroke-width="1.2" />
<path d="M875.6 642.1 L876.4 644.2 L885.3 647.1 L885 645.3 Z" fill="#fff" stroke="#262626" stroke-width="1.2" />
<path d="M887.1 646.5 L887.1 656" fill="none" stroke="#262626" stroke-width="1" />
<path d="M896.8 641.7 L896.8 658.1" fill="none" stroke="#262626" stroke-width="1" />
<path d="M1155.2 641.5 L1163.2 644.5 L1165.2 646.5 L1162.2 648.5 L1162.2 663.5 L1157.2 665.5 L1156.2 651.5 Z" fill="#fff" stroke="#262626" stroke-width="1.1" />
<path d="M990.8 653.3 L1052.2 675.5 L1052.2 737.5 L990.8 715.3 Z" fill="#fff" stroke="#262626" stroke-width="1.2" />
<path d="M1052.2 675.5 L1158.1 636.6 L1158.1 698.6 L1052.2 737.5 Z" fill="#fff" stroke="#262626" stroke-width="1.2" />
<path d="M990.8 653.3 L1096.7 614.4 L1158.1 636.6 L1052.2 675.5 Z" fill="#fff" stroke="#262626" stroke-width="1.2" />
<path d="M1053.6 678.1 L1156.7 640.3" fill="none" stroke="#262626" stroke-width="1" />
<path d="M1056 679.1 L1056 732.1" fill="none" stroke="#262626" stroke-width="1" />
<path d="M1155.3 642.6 L1155.3 695.6" fill="none" stroke="#262626" stroke-width="1" />
<path d="M1056 732.1 L1155.3 695.6" fill="none" stroke="#262626" stroke-width="1" />
<path d="M1072.8 667.1 L1077.5 665.4" fill="none" stroke="#262626" stroke-width="2.2" />
<path d="M1102.8 656.1 L1107.5 654.4" fill="none" stroke="#262626" stroke-width="2.2" />
<path d="M1132.8 645.1 L1137.5 643.4" fill="none" stroke="#262626" stroke-width="2.2" />
<path d="M1046.7 664.9 L1047.3 665 L1047.9 665.1 L1048.5 665.2 L1049.2 665.1 L1049.8 665 L1050.3 664.9 L1050.7 664.7 L1051 664.5 L1051 664.2 L1051 664 L1050.7 663.8 L1050.3 663.6 L1036.7 658.7 L1036.2 658.5 L1035.6 658.4 L1034.9 658.4 L1034.2 658.4 L1033.6 658.5 L1033.1 658.7 L1032.7 658.9 L1032.5 659.1 L1032.4 659.3 L1032.5 659.6 L1032.7 659.8 L1033.1 660 Z" fill="#fff" stroke="#262626" stroke-width="1.2" />
<path d="M1049.3 657.5 L1050.3 657.8 L1051.4 657.9 L1052.6 658 L1053.8 657.9 L1055 657.8 L1055.9 657.5 L1056.7 657.1 L1057.1 656.7 L1057.3 656.3 L1057.1 655.8 L1056.6 655.4 L1055.9 655.1 L1040.2 649.4 L1039.2 649.2 L1038.1 649 L1036.9 648.9 L1035.7 649 L1034.5 649.2 L1033.6 649.4 L1032.8 649.8 L1032.4 650.2 L1032.2 650.6 L1032.4 651.1 L1032.9 651.5 L1033.6 651.8 Z" fill="#fff" stroke="#262626" stroke-width="1.2" />
<path d="M1070.8 654.9 L1071.8 655.1 L1072.9 655.3 L1074.1 655.4 L1075.3 655.3 L1076.4 655.1 L1077.4 654.9 L1078.1 654.5 L1078.6 654.1 L1078.7 653.7 L1078.6 653.2 L1078.1 652.8 L1077.3 652.5 L1060.5 646.4 L1059.5 646.1 L1058.4 646 L1057.2 645.9 L1056 646 L1054.9 646.1 L1053.9 646.4 L1053.2 646.7 L1052.7 647.2 L1052.6 647.6 L1052.7 648 L1053.2 648.4 L1054 648.8 Z" fill="#fff" stroke="#262626" stroke-width="1.2" />
<path d="M1076.9 647.7 L1077.8 647.9 L1079 648.1 L1080.2 648.2 L1081.4 648.1 L1082.5 647.9 L1083.5 647.7 L1084.2 647.3 L1084.7 646.9 L1084.8 646.4 L1084.7 646 L1084.2 645.6 L1083.4 645.2 L1066.6 639.2 L1065.6 638.9 L1064.5 638.7 L1063.3 638.7 L1062.1 638.7 L1061 638.9 L1060 639.2 L1059.3 639.5 L1058.8 639.9 L1058.6 640.4 L1058.8 640.8 L1059.3 641.2 L1060 641.6 Z" fill="#fff" stroke="#262626" stroke-width="1.2" />
<path d="M1096 645.5 L1097 645.8 L1098.1 646 L1099.3 646 L1100.5 646 L1101.6 645.8 L1102.6 645.5 L1103.3 645.2 L1103.8 644.8 L1103.9 644.3 L1103.8 643.9 L1103.3 643.5 L1102.6 643.1 L1088 637.9 L1087 637.6 L1085.9 637.5 L1084.7 637.4 L1083.5 637.5 L1082.4 637.6 L1081.4 637.9 L1080.7 638.2 L1080.2 638.7 L1080.1 639.1 L1080.2 639.5 L1080.7 640 L1081.4 640.3 Z" fill="#fff" stroke="#262626" stroke-width="1.2" />
<path d="M1102.5 637.9 L1103.5 638.2 L1104.6 638.3 L1105.9 638.4 L1107.1 638.3 L1108.2 638.2 L1109.1 637.9 L1109.9 637.5 L1110.3 637.1 L1110.5 636.7 L1110.3 636.2 L1109.8 635.8 L1109.1 635.5 L1092.1 629.3 L1091.1 629.1 L1090 628.9 L1088.8 628.8 L1087.6 628.9 L1086.4 629.1 L1085.5 629.3 L1084.7 629.7 L1084.3 630.1 L1084.1 630.5 L1084.3 631 L1084.8 631.4 L1085.5 631.7 Z" fill="#fff" stroke="#262626" stroke-width="1.2" />
<path d="M1117.5 632.5 L1118.1 632.6 L1118.7 632.7 L1119.3 632.7 L1120 632.7 L1120.6 632.6 L1121.1 632.4 L1121.5 632.3 L1121.8 632 L1121.9 631.8 L1121.8 631.6 L1121.5 631.3 L1121.1 631.1 L1105.8 625.6 L1105.3 625.5 L1104.6 625.4 L1104 625.4 L1103.3 625.4 L1102.7 625.5 L1102.2 625.6 L1101.8 625.8 L1101.5 626 L1101.5 626.3 L1101.6 626.5 L1101.8 626.7 L1102.2 626.9 Z" fill="#fff" stroke="#262626" stroke-width="1.2" />
<path d="M1045.1 641 L1045.8 641.3 L1046.3 641.6 L1046.7 641.9 L1046.8 642.3 L1046.8 642.7 L1046.7 643 L1046.3 643.4 L1045.8 643.7 L1045.2 644 L1044.4 644.2 L1043.5 644.4 L1042.6 644.6 L1041.5 644.6 L1040.5 644.6 L1039.5 644.6 L1038.5 644.4 L1037.7 644.2 L1036.9 644 L1036.2 643.7 L1035.7 643.4 L1035.3 643 L1035.1 642.7 L1035.1 642.3 L1035.3 641.9 L1035.6 641.6 L1036.2 641.3 L1036.8 641 L1037.6 640.7 L1038.5 640.6 L1039.4 640.4 L1040.4 640.4 L1041.5 640.4 L1042.5 640.4 L1043.4 640.5 L1044.3 640.7 L1045.1 641 Z" fill="#111" stroke="#262626" stroke-width="0.8" />
<path d="M1043.1 642.2 L1043.1 642.3 L1043 642.4 L1042.9 642.5 L1042.7 642.6 L1042.5 642.7 L1042.3 642.8 L1042 642.8 L1041.8 642.9 L1041.5 642.9 L1041.2 642.9 L1040.9 642.8 L1040.7 642.8 L1040.5 642.7 L1040.3 642.6 L1040.1 642.5 L1040 642.4 L1039.9 642.3 L1039.9 642.2 L1039.9 642.1 L1040 641.9 L1040.1 641.8 L1040.3 641.7 L1040.5 641.7 L1040.7 641.6 L1040.9 641.5 L1041.2 641.5 L1041.5 641.5 L1041.8 641.5 L1042 641.5 L1042.3 641.6 L1042.5 641.7 L1042.7 641.7 L1042.9 641.8 L1043 641.9 L1043.1 642.1 L1043.1 642.2 Z" fill="#fff" stroke="none" stroke-width="1.2" />
<path d="M1071.1 631.4 L1071.7 631.7 L1072.2 632 L1072.6 632.3 L1072.8 632.7 L1072.8 633.1 L1072.6 633.4 L1072.3 633.8 L1071.8 634.1 L1071.1 634.4 L1070.3 634.6 L1069.5 634.8 L1068.5 635 L1067.5 635 L1066.5 635 L1065.5 635 L1064.5 634.8 L1063.6 634.6 L1062.8 634.4 L1062.2 634.1 L1061.6 633.8 L1061.3 633.4 L1061.1 633.1 L1061.1 632.7 L1061.3 632.3 L1061.6 632 L1062.1 631.7 L1062.8 631.4 L1063.5 631.1 L1064.4 631 L1065.4 630.8 L1066.4 630.8 L1067.4 630.8 L1068.4 630.8 L1069.4 631 L1070.3 631.1 L1071.1 631.4 Z" fill="#111" stroke="#262626" stroke-width="0.8" />
<path d="M1069 632.6 L1069 632.7 L1068.9 632.8 L1068.8 632.9 L1068.7 633 L1068.5 633.1 L1068.2 633.2 L1068 633.2 L1067.7 633.3 L1067.4 633.3 L1067.2 633.3 L1066.9 633.2 L1066.6 633.2 L1066.4 633.1 L1066.2 633 L1066.1 632.9 L1065.9 632.8 L1065.9 632.7 L1065.8 632.6 L1065.9 632.5 L1065.9 632.4 L1066.1 632.2 L1066.2 632.1 L1066.4 632.1 L1066.6 632 L1066.9 631.9 L1067.2 631.9 L1067.4 631.9 L1067.7 631.9 L1068 631.9 L1068.2 632 L1068.5 632.1 L1068.7 632.1 L1068.8 632.2 L1068.9 632.4 L1069 632.5 L1069 632.6 Z" fill="#fff" stroke="none" stroke-width="1.2" />
<path d="M1126 641 L1126.7 641.3 L1127.2 641.6 L1127.6 641.9 L1127.7 642.3 L1127.7 642.7 L1127.6 643 L1127.2 643.4 L1126.7 643.7 L1126.1 644 L1125.3 644.2 L1124.4 644.4 L1123.5 644.5 L1122.4 644.6 L1121.4 644.6 L1120.4 644.5 L1119.4 644.4 L1118.6 644.2 L1117.8 644 L1117.1 643.7 L1116.6 643.4 L1116.2 643 L1116 642.7 L1116 642.3 L1116.2 641.9 L1116.5 641.6 L1117.1 641.3 L1117.7 641 L1118.5 640.7 L1119.4 640.5 L1120.3 640.4 L1121.3 640.3 L1122.4 640.3 L1123.4 640.4 L1124.3 640.5 L1125.2 640.7 L1126 641 Z" fill="#111" stroke="#262626" stroke-width="0.8" />
<path d="M1124 642.2 L1124 642.3 L1123.9 642.4 L1123.8 642.5 L1123.6 642.6 L1123.4 642.7 L1123.2 642.8 L1122.9 642.8 L1122.7 642.9 L1122.4 642.9 L1122.1 642.9 L1121.8 642.8 L1121.6 642.8 L1121.4 642.7 L1121.2 642.6 L1121 642.5 L1120.9 642.4 L1120.8 642.3 L1120.8 642.2 L1120.8 642.1 L1120.9 641.9 L1121 641.8 L1121.2 641.7 L1121.4 641.6 L1121.6 641.6 L1121.8 641.5 L1122.1 641.5 L1122.4 641.5 L1122.7 641.5 L1122.9 641.5 L1123.2 641.6 L1123.4 641.6 L1123.6 641.7 L1123.8 641.8 L1123.9 641.9 L1124 642.1 L1124 642.2 Z" fill="#fff" stroke="none" stroke-width="1.2" />
<path d="M1073.7 660.1 L1074.4 660.4 L1074.9 660.7 L1075.3 661 L1075.5 661.4 L1075.5 661.8 L1075.3 662.2 L1074.9 662.5 L1074.4 662.8 L1073.8 663.1 L1073 663.4 L1072.1 663.5 L1071.2 663.7 L1070.2 663.7 L1069.1 663.7 L1068.1 663.7 L1067.2 663.5 L1066.3 663.4 L1065.5 663.1 L1064.8 662.8 L1064.3 662.5 L1063.9 662.2 L1063.8 661.8 L1063.7 661.4 L1063.9 661.1 L1064.3 660.7 L1064.8 660.4 L1065.4 660.1 L1066.2 659.9 L1067.1 659.7 L1068 659.5 L1069 659.5 L1070.1 659.5 L1071.1 659.5 L1072 659.7 L1072.9 659.9 L1073.7 660.1 Z" fill="#111" stroke="#262626" stroke-width="0.8" />
<path d="M1071.7 661.3 L1071.7 661.4 L1071.6 661.5 L1071.5 661.7 L1071.3 661.8 L1071.1 661.8 L1070.9 661.9 L1070.7 662 L1070.4 662 L1070.1 662 L1069.8 662 L1069.6 662 L1069.3 661.9 L1069.1 661.8 L1068.9 661.8 L1068.7 661.7 L1068.6 661.5 L1068.5 661.4 L1068.5 661.3 L1068.5 661.2 L1068.6 661.1 L1068.7 661 L1068.9 660.9 L1069.1 660.8 L1069.3 660.7 L1069.6 660.6 L1069.8 660.6 L1070.1 660.6 L1070.4 660.6 L1070.7 660.6 L1070.9 660.7 L1071.1 660.8 L1071.3 660.9 L1071.5 661 L1071.6 661.1 L1071.7 661.2 L1071.7 661.3 Z" fill="#fff" stroke="none" stroke-width="1.2" />
<path d="M1091.6 690.1 L1089 688.3 L1086.1 687.2 L1082.8 686.8 L1079.3 687.1 L1075.7 688.2 L1072.2 689.9 L1068.7 692.3 L1065.5 695.2 L1062.6 698.5 L1060.2 702.2 L1058.3 706.2 L1056.9 710.2 L1056.1 714.2 L1056 718.1 L1056.5 721.7 L1057.7 724.9 L1059.4 727.7 L1061.7 729.8 L1064.4 731.3 L1067.5 732.1 L1070.8 732.2 L1074.4 731.6" fill="none" stroke="#262626" stroke-width="1" />
<path d="M1090.1 691.9 L1087.8 690.3 L1085.1 689.3 L1082.2 688.9 L1079 689.2 L1075.8 690.2 L1072.5 691.7 L1069.4 693.9 L1066.5 696.5 L1063.9 699.6 L1061.7 702.9 L1059.9 706.5 L1058.7 710.2 L1058 713.8 L1057.9 717.3 L1058.4 720.6 L1059.4 723.5 L1061 726 L1063 727.9 L1065.5 729.3 L1068.3 730 L1071.3 730.1 L1074.5 729.6" fill="none" stroke="#262626" stroke-width="1" />
<path d="M1127.1 663.1 L1124.5 661.3 L1121.6 660.2 L1118.3 659.8 L1114.8 660.1 L1111.2 661.2 L1107.7 662.9 L1104.2 665.3 L1101 668.2 L1098.1 671.5 L1095.7 675.2 L1093.8 679.2 L1092.4 683.2 L1091.6 687.2 L1091.5 691.1 L1092 694.7 L1093.2 697.9 L1094.9 700.7 L1097.2 702.8 L1099.9 704.3 L1103 705.1 L1106.3 705.2 L1109.9 704.6" fill="none" stroke="#262626" stroke-width="1" />
<path d="M1125.6 664.9 L1123.3 663.3 L1120.6 662.3 L1117.7 661.9 L1114.5 662.2 L1111.3 663.2 L1108 664.7 L1104.9 666.9 L1102 669.5 L1099.4 672.6 L1097.2 675.9 L1095.4 679.5 L1094.2 683.2 L1093.5 686.8 L1093.4 690.3 L1093.9 693.6 L1094.9 696.5 L1096.5 699 L1098.5 700.9 L1101 702.3 L1103.8 703 L1106.8 703.1 L1110 702.6" fill="none" stroke="#262626" stroke-width="1" />
<path d="M1156.6 670.9 L1154.5 670.4 L1152.2 670.4 L1149.7 670.9 L1147.3 671.8 L1144.9 673.2 L1142.6 674.9 L1140.5 677 L1138.6 679.4 L1137.1 682 L1135.9 684.7 L1135.1 687.5 L1134.7 690.2 L1134.7 692.8 L1135.2 695.2 L1136 697.4 L1137.3 699.1 L1138.9 700.5 L1140.8 701.5 L1216.8 728.9 L1219 729.4 L1221.3 729.4 L1223.7 729 L1226.2 728.1 L1228.6 726.7 L1230.9 724.9 L1233 722.8 L1234.8 720.4 L1236.4 717.8 L1237.6 715.1 L1238.4 712.3 L1238.8 709.6 L1238.8 707 L1238.3 704.6 L1237.4 702.5 L1236.2 700.7 L1234.6 699.3 L1232.7 698.3 Z" fill="#fff" stroke="#262626" stroke-width="1.2" />
<path d="M1174.6 675 L1172.6 673.6 L1170.1 672.7 L1167.5 672.4 L1164.6 672.7 L1161.7 673.5 L1158.8 674.9 L1155.9 676.9 L1153.3 679.2 L1151 682 L1149 685 L1147.4 688.2 L1146.3 691.6 L1145.6 694.8 L1145.5 698 L1146 701 L1146.9 703.6 L1148.3 705.8 L1150.2 707.6 L1152.4 708.8 L1154.9 709.5 L1157.7 709.6 L1160.6 709.1" fill="none" stroke="#0a0a0a" stroke-width="4.4" />
<path d="M1125.1 668.9 L1123 668.4 L1120.7 668.4 L1118.2 668.9 L1115.8 669.8 L1113.4 671.2 L1111.1 672.9 L1109 675 L1107.1 677.4 L1105.6 680 L1104.4 682.7 L1103.6 685.5 L1103.2 688.2 L1103.2 690.8 L1103.7 693.2 L1104.5 695.4 L1105.8 697.1 L1107.4 698.5 L1109.3 699.5 L1185.3 726.9 L1187.5 727.4 L1189.8 727.4 L1192.2 727 L1194.7 726.1 L1197.1 724.7 L1199.4 722.9 L1201.5 720.8 L1203.3 718.4 L1204.9 715.8 L1206.1 713.1 L1206.9 710.3 L1207.3 707.6 L1207.3 705 L1206.8 702.6 L1205.9 700.5 L1204.7 698.7 L1203.1 697.3 L1201.2 696.3 Z" fill="#fff" stroke="#262626" stroke-width="1.2" />
<path d="M1143.1 673 L1141.1 671.6 L1138.6 670.7 L1136 670.4 L1133.1 670.7 L1130.2 671.5 L1127.3 672.9 L1124.4 674.9 L1121.8 677.2 L1119.5 680 L1117.5 683 L1115.9 686.2 L1114.8 689.6 L1114.1 692.8 L1114 696 L1114.5 699 L1115.4 701.6 L1116.8 703.8 L1118.7 705.6 L1120.9 706.8 L1123.4 707.5 L1126.2 707.6 L1129.1 707.1" fill="none" stroke="#0a0a0a" stroke-width="4.4" />
<path d="M1094.6 696.4 L1092.5 695.9 L1090.2 695.9 L1087.7 696.4 L1085.3 697.3 L1082.9 698.7 L1080.6 700.4 L1078.5 702.5 L1076.6 704.9 L1075.1 707.5 L1073.9 710.2 L1073.1 713 L1072.7 715.7 L1072.7 718.3 L1073.2 720.7 L1074 722.9 L1075.3 724.6 L1076.9 726 L1078.8 727 L1154.8 754.4 L1157 754.9 L1159.3 754.9 L1161.7 754.5 L1164.2 753.6 L1166.6 752.2 L1168.9 750.4 L1171 748.3 L1172.8 745.9 L1174.4 743.3 L1175.6 740.6 L1176.4 737.8 L1176.8 735.1 L1176.8 732.5 L1176.3 730.1 L1175.4 728 L1174.2 726.2 L1172.6 724.8 L1170.7 723.8 Z" fill="#fff" stroke="#262626" stroke-width="1.2" />
<path d="M1112.6 700.5 L1110.6 699.1 L1108.1 698.2 L1105.5 697.9 L1102.6 698.2 L1099.7 699 L1096.8 700.4 L1093.9 702.4 L1091.3 704.7 L1089 707.5 L1087 710.5 L1085.4 713.7 L1084.3 717.1 L1083.6 720.3 L1083.5 723.5 L1084 726.5 L1084.9 729.1 L1086.3 731.3 L1088.2 733.1 L1090.4 734.3 L1092.9 735 L1095.7 735.1 L1098.6 734.6" fill="none" stroke="#0a0a0a" stroke-width="4.4" />
<path d="M1010.6 725.8 L1010.6 703.4 C1010.6 693.9 1026.1 693.9 1027.6 703.4 L1029.9 728.3 C1024.1 731.8 1015.6 729.8 1010.6 725.8 Z" fill="#fff" stroke="#262626" stroke-width="1.2" />
<path d="M980.6 684.8 L983 696.2 L991.2 699.6 L993.6 700.8 L998.1 699.6 L1000 698.1 L1002.2 698.8 L1003.4 700.8 L1003.4 678.9 L986.8 684.8 Z" fill="#fff" stroke="#262626" stroke-width="1.2" />
<path d="M976.9 681.4 L990.5 674 L1003.4 678.9 L986.8 684.8 Z" fill="#fff" stroke="#262626" stroke-width="1.2" />
<path d="M976.9 681.4 L977.7 683.7 L987.1 686.7 L986.8 684.8 Z" fill="#fff" stroke="#262626" stroke-width="1.2" />
<path d="M989 686.1 L989 696.2" fill="none" stroke="#262626" stroke-width="1" />
<path d="M999.3 681.1 L999.3 698.4" fill="none" stroke="#262626" stroke-width="1" />
<path d="M1026.6 703.1 L1029.2 715.7 L1038.4 719.5 L1041 720.8 L1046 719.5 L1048.1 717.8 L1050.6 718.6 L1051.9 720.8 L1051.9 696.5 L1033.4 703.1 Z" fill="#fff" stroke="#262626" stroke-width="1.2" />
<path d="M1022.4 699.3 L1037.6 691.1 L1051.9 696.5 L1033.4 703.1 Z" fill="#fff" stroke="#262626" stroke-width="1.2" />
<path d="M1022.4 699.3 L1023.3 701.8 L1033.8 705.2 L1033.4 703.1 Z" fill="#fff" stroke="#262626" stroke-width="1.2" />
<path d="M1035.9 704.5 L1035.9 715.7" fill="none" stroke="#262626" stroke-width="1" />
<path d="M1047.3 698.9 L1047.3 718.2" fill="none" stroke="#262626" stroke-width="1" />
<text transform="matrix(0.951 0.343 0.12 1 1000.3 666.7)" font-size="5.2" font-weight="bold" fill="#000" stroke="#000" stroke-width="0.25" text-anchor="start" letter-spacing="0.25" filter="url(#gray)">ISO 5599 SIZE 1</text>
<text transform="matrix(0.951 0.343 0.12 1 1007.3 679.5)" font-size="5.6" font-weight="bold" fill="#000" stroke="#000" stroke-width="0.25" text-anchor="start" letter-spacing="0.9" filter="url(#gray)">12 - 14</text>
<text transform="matrix(0.951 0.343 0.12 1 1005.6 686.9)" font-size="5.6" font-weight="bold" fill="#000" stroke="#000" stroke-width="0.25" text-anchor="start" letter-spacing="1.2" filter="url(#gray)">2 <tspan font-size="8.5" dy="0.8">●</tspan><tspan dy="-0.8"> 4</tspan></text>
<path d="M1139.1 694.9 L1242.6 655.8 L1248.9 658.9 L1248.9 728.4 L1146 793.5 L1139.1 790.3 Z" fill="#fff" stroke="#262626" stroke-width="1.2" />
<path d="M1139.1 694.9 L1145.4 698.1 L1248.9 658.9" fill="none" stroke="#262626" stroke-width="1.2" />
<path d="M1145.4 698.1 L1146 793.5" fill="none" stroke="#262626" stroke-width="1.2" />
<path d="M1243.9 683.6 L1260.3 673.5 L1271.7 676.6 L1267.9 681.7 L1266.6 690.5 L1254 693.1 L1252.7 687 Z" fill="#fff" stroke="#262626" stroke-width="1.1" />
<path d="M1243.9 683.6 L1254 686.7 L1271.7 676.6" fill="none" stroke="#262626" stroke-width="1" />
<path d="M1209.8 676.6 L1219.9 669.7 L1238.8 674.7 L1240.1 679.2 L1240.1 753.7 L1248.9 757.5 L1248.9 741.1 L1241.4 738.5 L1241.4 753.7 L1209.8 741.1 Z" fill="#fff" stroke="#262626" stroke-width="1.1" />
<path d="M1209.8 676.6 L1211.1 679.8 L1230 683.6 L1240.1 679.2" fill="none" stroke="#262626" stroke-width="1" />
<path d="M1235.3 675.5 L1235.2 676.1 L1234.8 676.7 L1234.2 677.2 L1233.4 677.7 L1232.3 678 L1231.1 678.3 L1229.7 678.4 L1228.3 678.4 L1226.8 678.3 L1225.4 678.1 L1223.9 677.8 L1222.6 677.5 L1221.4 677 L1220.3 676.4 L1219.5 675.8 L1218.9 675.2 L1218.5 674.6 L1218.3 673.9 L1218.5 673.3 L1218.9 672.8 L1219.5 672.2 L1220.3 671.8 L1221.4 671.5 L1222.6 671.2 L1223.9 671.1 L1225.4 671.1 L1226.8 671.1 L1228.3 671.3 L1229.7 671.6 L1231.1 672 L1232.3 672.5 L1233.4 673 L1234.2 673.6 L1234.8 674.3 L1235.2 674.9 L1235.3 675.5 Z" fill="none" stroke="#262626" stroke-width="1" />
<path d="M1232.8 675.7 L1232.8 676.1 L1232.5 676.5 L1232 676.8 L1231.4 677.1 L1230.7 677.3 L1229.8 677.5 L1228.9 677.6 L1227.9 677.6 L1226.8 677.5 L1225.8 677.4 L1224.8 677.2 L1223.8 676.9 L1223 676.6 L1222.2 676.2 L1221.6 675.8 L1221.2 675.4 L1220.9 674.9 L1220.8 674.5 L1220.9 674.1 L1221.2 673.7 L1221.6 673.4 L1222.2 673.1 L1223 672.9 L1223.8 672.7 L1224.8 672.7 L1225.8 672.6 L1226.8 672.7 L1227.9 672.9 L1228.9 673.1 L1229.8 673.3 L1230.7 673.7 L1231.4 674 L1232 674.4 L1232.5 674.9 L1232.8 675.3 L1232.8 675.7 Z" fill="none" stroke="#262626" stroke-width="0.8" />
<path d="M1170.4 690.8 L1180.7 683.8 L1201.2 689.6 L1202.8 693.7 L1203.5 789.1 Q1185.8 793.5 1170.6 784 Z" fill="#fff" stroke="#262626" stroke-width="1.1" />
<path d="M1170.4 690.8 L1171.9 695.6 L1192.1 697.5 L1202.8 693.7" fill="none" stroke="#262626" stroke-width="1" />
<path d="M1197.6 689.8 L1197.4 690.5 L1197 691.1 L1196.4 691.6 L1195.5 692.1 L1194.4 692.4 L1193.1 692.7 L1191.6 692.9 L1190.1 692.9 L1188.6 692.8 L1187 692.6 L1185.5 692.3 L1184.1 691.9 L1182.8 691.4 L1181.7 690.8 L1180.8 690.2 L1180.1 689.6 L1179.7 688.9 L1179.6 688.2 L1179.7 687.6 L1180.1 687 L1180.8 686.4 L1181.7 686 L1182.8 685.6 L1184.1 685.3 L1185.5 685.2 L1187 685.1 L1188.6 685.2 L1190.1 685.4 L1191.6 685.7 L1193.1 686.1 L1194.4 686.6 L1195.5 687.2 L1196.4 687.8 L1197 688.5 L1197.4 689.1 L1197.6 689.8 Z" fill="none" stroke="#262626" stroke-width="1" />
<path d="M1195 690 L1194.9 690.4 L1194.6 690.8 L1194.1 691.2 L1193.5 691.5 L1192.7 691.7 L1191.8 691.9 L1190.8 691.9 L1189.7 692 L1188.6 691.9 L1187.5 691.7 L1186.4 691.5 L1185.4 691.3 L1184.5 690.9 L1183.7 690.5 L1183 690.1 L1182.6 689.7 L1182.3 689.2 L1182.2 688.8 L1182.3 688.4 L1182.6 688 L1183 687.6 L1183.7 687.3 L1184.5 687.1 L1185.4 686.9 L1186.4 686.8 L1187.5 686.8 L1188.6 686.9 L1189.7 687 L1190.8 687.2 L1191.8 687.5 L1192.7 687.9 L1193.5 688.2 L1194.1 688.7 L1194.6 689.1 L1194.9 689.5 L1195 690 Z" fill="none" stroke="#262626" stroke-width="0.8" />
<path d="M1145.4 717.7 L1170.6 708.8 L1178.2 712.6 L1178.2 715.8 L1151.7 725.9 L1145.4 722.1 Z" fill="#fff" stroke="#262626" stroke-width="1.1" />
<path d="M1128.9 727.7 L1130.9 737.1 L1137.8 740 L1139.7 741 L1143.5 740 L1145 738.7 L1146.9 739.3 L1147.9 741 L1147.9 722.7 L1134 727.7 Z" fill="#fff" stroke="#262626" stroke-width="1.2" />
<path d="M1125.8 724.8 L1137.2 718.7 L1147.9 722.7 L1134 727.7 Z" fill="#fff" stroke="#262626" stroke-width="1.2" />
<path d="M1125.8 724.8 L1126.4 726.7 L1134.3 729.3 L1134 727.7 Z" fill="#fff" stroke="#262626" stroke-width="1.2" />
<path d="M1135.9 728.7 L1135.9 737.1" fill="none" stroke="#262626" stroke-width="1" />
<path d="M1144.4 724.5 L1144.4 739" fill="none" stroke="#262626" stroke-width="1" />
<path d="M1146 753.7 L1151.7 752.4 L1153.6 757.5 L1169.4 763.8" fill="none" stroke="#262626" stroke-width="1" />
<path d="M1267.6 685.3 L1264.6 684.6 L1261.3 684.6 L1257.9 685.2 L1254.4 686.5 L1251 688.5 L1247.8 691 L1244.8 693.9 L1242.2 697.3 L1240 701 L1238.3 704.8 L1237.2 708.7 L1236.6 712.6 L1236.6 716.3 L1237.3 719.7 L1238.5 722.7 L1240.3 725.2 L1242.5 727.2 L1245.2 728.5 L1261.1 734.3 L1264.1 735 L1267.4 735 L1270.8 734.3 L1274.3 733 L1277.7 731.1 L1280.9 728.6 L1283.9 725.6 L1286.5 722.2 L1288.7 718.5 L1290.4 714.7 L1291.5 710.8 L1292.1 706.9 L1292 703.3 L1291.4 699.9 L1290.2 696.9 L1288.4 694.3 L1286.2 692.4 L1283.5 691 Z" fill="#fff" stroke="#262626" stroke-width="1.2" />
<path d="M1292.1 705.3 L1291.8 701.8 L1290.9 698.5 L1289.5 695.7 L1287.5 693.4 L1285.1 691.7 L1282.2 690.6 L1279.1 690.2 L1275.7 690.5 L1272.3 691.4 L1268.8 693 L1265.5 695.2 L1262.3 697.9 L1259.5 701.1 L1257.1 704.6 L1255.1 708.3 L1253.6 712.2 L1252.7 716.1 L1252.4 719.9 L1252.7 723.5 L1253.6 726.7 L1255.1 729.5 L1257.1 731.8 L1259.5 733.6 L1262.3 734.6 L1265.5 735 L1268.8 734.8 L1272.3 733.8 L1275.7 732.2 L1279.1 730.1 L1282.2 727.3 L1285.1 724.2 L1287.5 720.7 L1289.5 716.9 L1290.9 713 L1291.8 709.1 L1292.1 705.3 Z" fill="#fff" stroke="#262626" stroke-width="1.2" />
<path d="M1287.9 706.9 L1287.6 704.1 L1286.9 701.6 L1285.8 699.4 L1284.2 697.6 L1282.3 696.2 L1280.1 695.4 L1277.6 695 L1275 695.3 L1272.3 696 L1269.6 697.2 L1267 699 L1264.5 701.1 L1262.3 703.6 L1260.4 706.3 L1258.8 709.2 L1257.7 712.3 L1257 715.3 L1256.7 718.3 L1257 721.1 L1257.7 723.6 L1258.8 725.8 L1260.4 727.6 L1262.3 729 L1264.5 729.8 L1267 730.2 L1269.6 729.9 L1272.3 729.2 L1275 728 L1277.6 726.2 L1280.1 724.1 L1282.3 721.6 L1284.2 718.9 L1285.8 716 L1286.9 712.9 L1287.6 709.9 L1287.9 706.9 Z" fill="none" stroke="#262626" stroke-width="1" />
<path d="M1278.5 697.6 L1276.7 697.1 L1274.7 697 L1272.7 697.4 L1270.7 698.3 L1268.7 699.6 L1266.9 701.3 L1265.2 703.4 L1263.7 705.7 L1262.5 708.2 L1261.5 710.9 L1260.9 713.6 L1260.7 716.3 L1260.8 718.9 L1261.2 721.3 L1262 723.4 L1263.1 725.2 L1264.5 726.6 L1266.1 727.6 L1368.9 773.3 L1370.7 773.8 L1372.7 773.9 L1374.7 773.5 L1376.7 772.6 L1378.7 771.3 L1380.5 769.6 L1382.2 767.5 L1383.7 765.2 L1384.9 762.7 L1385.9 760 L1386.5 757.3 L1386.7 754.6 L1386.6 752 L1386.2 749.6 L1385.4 747.5 L1384.3 745.7 L1382.9 744.3 L1381.3 743.3 Z" fill="#fff" stroke="#262626" stroke-width="1.2" />
<path d="M1386.7 754 L1386.5 751.5 L1386 749.2 L1385.2 747.1 L1384 745.4 L1382.6 744.1 L1380.9 743.2 L1379.1 742.7 L1377.1 742.8 L1375.1 743.3 L1373.1 744.3 L1371.1 745.7 L1369.3 747.4 L1367.6 749.6 L1366.2 751.9 L1365 754.5 L1364.2 757.2 L1363.7 759.9 L1363.5 762.6 L1363.7 765.1 L1364.2 767.4 L1365 769.5 L1366.2 771.2 L1367.6 772.5 L1369.3 773.4 L1371.1 773.9 L1373.1 773.8 L1375.1 773.3 L1377.1 772.3 L1379.1 770.9 L1380.9 769.2 L1382.6 767 L1384 764.7 L1385.2 762.1 L1386 759.4 L1386.5 756.7 L1386.7 754 Z" fill="#fff" stroke="#262626" stroke-width="1.2" />
<path d="M1225.9 684.7 L1222.9 684 L1219.6 684 L1216.2 684.6 L1212.7 685.9 L1209.3 687.9 L1206.1 690.4 L1203.1 693.3 L1200.5 696.7 L1198.3 700.4 L1196.6 704.2 L1195.5 708.1 L1194.9 712 L1194.9 715.7 L1195.6 719.1 L1196.8 722.1 L1198.6 724.6 L1200.8 726.6 L1203.5 727.9 L1219.4 733.7 L1222.4 734.4 L1225.7 734.4 L1229.1 733.7 L1232.6 732.4 L1236 730.5 L1239.2 728 L1242.2 725 L1244.8 721.6 L1247 717.9 L1248.7 714.1 L1249.8 710.2 L1250.4 706.3 L1250.3 702.7 L1249.7 699.3 L1248.5 696.3 L1246.7 693.7 L1244.5 691.8 L1241.8 690.4 Z" fill="#fff" stroke="#262626" stroke-width="1.2" />
<path d="M1250.4 704.7 L1250.1 701.2 L1249.2 697.9 L1247.8 695.1 L1245.8 692.8 L1243.4 691.1 L1240.5 690 L1237.4 689.6 L1234 689.9 L1230.6 690.8 L1227.1 692.4 L1223.8 694.6 L1220.6 697.3 L1217.8 700.5 L1215.4 704 L1213.4 707.7 L1211.9 711.6 L1211 715.5 L1210.7 719.3 L1211 722.9 L1211.9 726.1 L1213.4 728.9 L1215.4 731.2 L1217.8 733 L1220.6 734 L1223.8 734.4 L1227.1 734.2 L1230.6 733.2 L1234 731.6 L1237.4 729.5 L1240.5 726.7 L1243.4 723.6 L1245.8 720.1 L1247.8 716.3 L1249.2 712.4 L1250.1 708.5 L1250.4 704.7 Z" fill="#fff" stroke="#262626" stroke-width="1.2" />
<path d="M1246.2 706.3 L1245.9 703.5 L1245.2 701 L1244.1 698.8 L1242.5 697 L1240.6 695.6 L1238.4 694.8 L1235.9 694.4 L1233.3 694.7 L1230.6 695.4 L1227.9 696.6 L1225.3 698.4 L1222.8 700.5 L1220.6 703 L1218.7 705.7 L1217.1 708.6 L1216 711.7 L1215.3 714.7 L1215 717.7 L1215.3 720.5 L1216 723 L1217.1 725.2 L1218.7 727 L1220.6 728.4 L1222.8 729.2 L1225.3 729.6 L1227.9 729.3 L1230.6 728.6 L1233.3 727.4 L1235.9 725.6 L1238.4 723.5 L1240.6 721 L1242.5 718.3 L1244.1 715.4 L1245.2 712.3 L1245.9 709.3 L1246.2 706.3 Z" fill="none" stroke="#262626" stroke-width="1" />
<path d="M1236.6 697 L1234.8 696.5 L1232.9 696.5 L1230.9 696.9 L1228.9 697.8 L1226.9 699.2 L1225 700.9 L1223.3 703 L1221.9 705.3 L1220.7 707.8 L1219.8 710.5 L1219.2 713.2 L1219 715.9 L1219.1 718.5 L1219.6 720.8 L1220.4 722.9 L1221.5 724.7 L1222.9 726.1 L1224.6 727 L1287.6 753.4 L1289.4 753.9 L1291.3 753.9 L1293.3 753.5 L1295.3 752.6 L1297.3 751.2 L1299.2 749.5 L1300.9 747.4 L1302.3 745.1 L1303.5 742.6 L1304.4 739.9 L1305 737.2 L1305.2 734.5 L1305.1 731.9 L1304.6 729.6 L1303.8 727.5 L1302.7 725.7 L1301.3 724.3 L1299.6 723.4 Z" fill="#fff" stroke="#262626" stroke-width="1.2" />
<path d="M1305.2 734.1 L1305 731.6 L1304.5 729.3 L1303.7 727.2 L1302.5 725.5 L1301.1 724.2 L1299.4 723.3 L1297.6 722.8 L1295.6 722.9 L1293.6 723.4 L1291.6 724.4 L1289.6 725.8 L1287.8 727.5 L1286.1 729.7 L1284.7 732 L1283.5 734.6 L1282.7 737.3 L1282.2 740 L1282 742.7 L1282.2 745.2 L1282.7 747.5 L1283.5 749.6 L1284.7 751.3 L1286.1 752.6 L1287.8 753.5 L1289.6 754 L1291.6 753.9 L1293.6 753.4 L1295.6 752.4 L1297.6 751 L1299.4 749.3 L1301.1 747.1 L1302.5 744.8 L1303.7 742.2 L1304.5 739.5 L1305 736.8 L1305.2 734.1 Z" fill="#fff" stroke="#262626" stroke-width="1.2" />
<path d="M1181.7 716.9 L1178.7 716.2 L1175.4 716.2 L1172 716.8 L1168.5 718.1 L1165.1 720.1 L1161.9 722.6 L1158.9 725.5 L1156.3 728.9 L1154.1 732.6 L1152.4 736.4 L1151.3 740.3 L1150.7 744.2 L1150.7 747.9 L1151.4 751.3 L1152.6 754.3 L1154.4 756.8 L1156.6 758.8 L1159.3 760.1 L1175.2 765.9 L1178.2 766.6 L1181.5 766.6 L1184.9 765.9 L1188.4 764.6 L1191.8 762.7 L1195 760.2 L1198 757.2 L1200.6 753.8 L1202.8 750.1 L1204.5 746.3 L1205.6 742.4 L1206.2 738.5 L1206.1 734.9 L1205.5 731.5 L1204.3 728.5 L1202.5 725.9 L1200.3 724 L1197.6 722.6 Z" fill="#fff" stroke="#262626" stroke-width="1.2" />
<path d="M1206.2 736.9 L1205.9 733.4 L1205 730.1 L1203.6 727.3 L1201.6 725 L1199.2 723.3 L1196.3 722.2 L1193.2 721.8 L1189.8 722.1 L1186.4 723 L1182.9 724.6 L1179.6 726.8 L1176.4 729.5 L1173.6 732.7 L1171.2 736.2 L1169.2 739.9 L1167.7 743.8 L1166.8 747.7 L1166.5 751.5 L1166.8 755.1 L1167.7 758.3 L1169.2 761.1 L1171.2 763.4 L1173.6 765.2 L1176.4 766.2 L1179.6 766.6 L1182.9 766.4 L1186.4 765.4 L1189.8 763.8 L1193.2 761.7 L1196.3 758.9 L1199.2 755.8 L1201.6 752.3 L1203.6 748.5 L1205 744.6 L1205.9 740.7 L1206.2 736.9 Z" fill="#fff" stroke="#262626" stroke-width="1.2" />
<path d="M1202 738.5 L1201.7 735.7 L1201 733.2 L1199.9 731 L1198.3 729.2 L1196.4 727.8 L1194.2 727 L1191.7 726.6 L1189.1 726.9 L1186.4 727.6 L1183.7 728.8 L1181.1 730.6 L1178.6 732.7 L1176.4 735.2 L1174.5 737.9 L1172.9 740.8 L1171.8 743.9 L1171.1 746.9 L1170.8 749.9 L1171.1 752.7 L1171.8 755.2 L1172.9 757.4 L1174.5 759.2 L1176.4 760.6 L1178.6 761.4 L1181.1 761.8 L1183.7 761.5 L1186.4 760.8 L1189.1 759.6 L1191.7 757.8 L1194.2 755.7 L1196.4 753.2 L1198.3 750.5 L1199.9 747.6 L1201 744.5 L1201.7 741.5 L1202 738.5 Z" fill="none" stroke="#262626" stroke-width="1" />
<path d="M1192.4 729.1 L1190.5 728.7 L1188.6 728.7 L1186.6 729.1 L1184.6 730.1 L1182.6 731.4 L1180.8 733.2 L1179.1 735.2 L1177.6 737.6 L1176.4 740.2 L1175.5 742.8 L1175 745.5 L1174.8 748.2 L1174.9 750.8 L1175.4 753.1 L1176.2 755.2 L1177.4 757 L1178.8 758.3 L1180.4 759.3 L1291.4 804.4 L1293.3 804.8 L1295.2 804.8 L1297.2 804.4 L1299.2 803.4 L1301.2 802.1 L1303 800.3 L1304.7 798.3 L1306.2 795.9 L1307.4 793.3 L1308.3 790.7 L1308.8 788 L1309 785.3 L1308.9 782.7 L1308.4 780.4 L1307.6 778.3 L1306.4 776.5 L1305 775.2 L1303.4 774.2 Z" fill="#fff" stroke="#262626" stroke-width="1.2" />
<path d="M1309 785 L1308.8 782.5 L1308.3 780.2 L1307.5 778.1 L1306.3 776.4 L1304.9 775.1 L1303.2 774.2 L1301.4 773.7 L1299.4 773.8 L1297.4 774.3 L1295.4 775.3 L1293.4 776.7 L1291.6 778.4 L1289.9 780.6 L1288.5 782.9 L1287.3 785.5 L1286.5 788.2 L1286 790.9 L1285.8 793.6 L1286 796.1 L1286.5 798.4 L1287.3 800.5 L1288.5 802.2 L1289.9 803.5 L1291.6 804.4 L1293.4 804.9 L1295.4 804.8 L1297.4 804.3 L1299.4 803.3 L1301.4 801.9 L1303.2 800.2 L1304.9 798 L1306.3 795.7 L1307.5 793.1 L1308.3 790.4 L1308.8 787.7 L1309 785 Z" fill="#fff" stroke="#262626" stroke-width="1.2" />
<path d="M1293 738.4 L1323.3 738.7 L1320.8 741.9 L1346.1 752.3 L1346.1 754.3 L1327.1 760.6 L1298.7 749.5 L1294.9 749.9 Z" fill="#fff" stroke="#262626" stroke-width="1.3" />
<path d="M1294.9 749.9 L1298.7 749.5 L1327.1 760.6 L1346.1 754.3" fill="none" stroke="#262626" stroke-width="2.2" />
<path d="M1289.2 792.4 L1307.5 785.9 L1335.3 796 L1337.8 794.3 L1340.7 794.7 L1340.4 807.3 L1311.3 807.8 L1313.8 804.4 L1289.2 794.3 Z" fill="#fff" stroke="#262626" stroke-width="1.2" />
<path d="M1289.2 794.3 L1313.8 804.7 L1311.6 807.8 L1340.4 807.6" fill="none" stroke="#262626" stroke-width="2.6" />
<defs><linearGradient id="gC" x1="0" y1="0" x2="1" y2="0.4"><stop offset="0" stop-color="#f6f6f6"/><stop offset="1" stop-color="#9a9a9a"/></linearGradient></defs>
<path d="M1366.9 760.8 L1384.6 753.9 L1411.7 764.9 L1414.9 763.4 L1415.5 776 L1387.7 776.6 L1390.3 773.5 L1366.9 762.7 Z" fill="url(#gC)" stroke="#262626" stroke-width="1.2" />
<path d="M1366.9 762.7 L1390.3 773.7 L1388 776.9 L1415.5 776.3" fill="none" stroke="#262626" stroke-width="2.6" />
<path d="M1263.4 388.8 L1271 390.5 L1271.8 393.9 L1268.5 394.7 L1268.5 409.1 L1263.4 410.7 Z" fill="#fff" stroke="#262626" stroke-width="1.1" />
<path d="M1159.8 414.1 L1260.9 373.7 L1263.4 474.7 L1160.7 511.8 Z" fill="#fff" stroke="#262626" stroke-width="1.2" />
<path d="M1161.5 419.2 L1260.1 378.7" fill="none" stroke="#262626" stroke-width="1" />
<path d="M1165.7 420.8 L1165.7 505.9 L1231.4 479.8" fill="none" stroke="#262626" stroke-width="1" />
<path d="M1160.7 511.8 L1165.7 505.9" fill="none" stroke="#262626" stroke-width="1" />
<path d="M1256.7 382.1 L1257.5 410.7" fill="none" stroke="#262626" stroke-width="1" />
<path d="M1175.8 468 L1175.8 498.3" fill="none" stroke="#262626" stroke-width="1" />
<path d="M1181.7 474.7 L1181.7 486.5" fill="none" stroke="#262626" stroke-width="1" />
<path d="M1181.7 486.5 Q1199.4 493.3 1215.4 483.2" fill="none" stroke="#262626" stroke-width="1" />
<path d="M1215.4 473.1 L1215.4 483.2" fill="none" stroke="#262626" stroke-width="1" />
<path d="M1121.9 400.6 L1131.2 397.3 L1132.1 403.2 L1147.2 407.4 L1159.8 414.1 L1160.7 511.8 L1121.9 495.8 Z" fill="#fff" stroke="#262626" stroke-width="1.2" />
<path d="M1132.1 397.3 L1138.8 390.5 L1175.8 395.6 L1175.8 407.4 L1159.8 414.1 L1147.2 409.1 L1147.2 400.6 Z" fill="#fff" stroke="#262626" stroke-width="1.1" />
<path d="M1170.8 390.5 L1177.5 378.7 L1212.9 380.4 L1212.9 395.6 L1175.8 410.7 L1175.8 404 Z" fill="#fff" stroke="#262626" stroke-width="1.1" />
<path d="M1211.2 373.7 L1216.3 365.3 L1251.6 361.9 L1253.3 376.2 L1260.9 373.7 L1212.9 395.6 Z" fill="#fff" stroke="#262626" stroke-width="1.1" />
<path d="M1210.1 364.4 L1210.1 373.4 A21 8.4 0 0 0 1252.1 373.4 L1252.1 364.4 Z" fill="#fff" stroke="#262626" stroke-width="1.1" />
<ellipse cx="1231.1" cy="364.4" rx="21" ry="8.4" fill="#fff" stroke="#262626" stroke-width="1.1"/>
<ellipse cx="1231.1" cy="364.9" rx="15.96" ry="6.048" fill="#fff" stroke="#262626" stroke-width="1.1"/>
<path d="M1215.6 365.9 A15.54 5.88 0 0 0 1246.6 365.9" fill="none" stroke="#777" stroke-width="0.8"/>
<path d="M1170.8 379.6 L1170.8 388.6 A21 8.4 0 0 0 1212.8 388.6 L1212.8 379.6 Z" fill="#fff" stroke="#262626" stroke-width="1.1" />
<ellipse cx="1191.8" cy="379.6" rx="21" ry="8.4" fill="#fff" stroke="#262626" stroke-width="1.1"/>
<ellipse cx="1191.8" cy="380.1" rx="15.96" ry="6.048" fill="#fff" stroke="#262626" stroke-width="1.1"/>
<path d="M1176.3 381.1 A15.54 5.88 0 0 0 1207.3 381.1" fill="none" stroke="#777" stroke-width="0.8"/>
<path d="M1159.8 414.1 L1260.9 373.7 L1260.6 379.6 L1160.2 420 Z" fill="#fff" stroke="#262626" stroke-width="1.1" />
<path d="M1132.1 397.3 L1138.8 390.5 L1175.8 395.6 L1175.8 407.4 L1159.8 414.1 L1147.2 409.1 L1147.2 400.6 Z" fill="#fff" stroke="#262626" stroke-width="1.1" />
<path d="M1132.9 394.7 L1132.9 403.7 A21 8.4 0 0 0 1174.9 403.7 L1174.9 394.7 Z" fill="#fff" stroke="#262626" stroke-width="1.1" />
<ellipse cx="1153.9" cy="394.7" rx="21" ry="8.4" fill="#fff" stroke="#262626" stroke-width="1.1"/>
<ellipse cx="1153.9" cy="395.2" rx="15.96" ry="6.048" fill="#fff" stroke="#262626" stroke-width="1.1"/>
<path d="M1138.4 396.2 A15.54 5.88 0 0 0 1169.4 396.2" fill="none" stroke="#777" stroke-width="0.8"/>
<path d="M1220.9 395.3 L1218.4 393.5 L1215.4 392.4 L1212.2 392 L1208.7 392.3 L1205.1 393.4 L1201.5 395.1 L1198.1 397.5 L1194.9 400.4 L1192 403.7 L1189.6 407.4 L1187.6 411.4 L1186.3 415.4 L1185.5 419.4 L1185.4 423.3 L1185.9 426.9 L1187.1 430.1 L1188.8 432.9 L1191 435 L1193.8 436.5 L1196.8 437.3 L1200.2 437.4 L1203.8 436.8" fill="#fff" stroke="#262626" stroke-width="1" />
<path d="M1219.5 397.1 L1217.2 395.5 L1214.5 394.5 L1211.6 394.1 L1208.4 394.4 L1205.1 395.4 L1201.9 396.9 L1198.8 399.1 L1195.9 401.7 L1193.3 404.8 L1191.1 408.1 L1189.3 411.7 L1188.1 415.4 L1187.4 419 L1187.3 422.5 L1187.7 425.8 L1188.8 428.7 L1190.3 431.2 L1192.4 433.1 L1194.9 434.5 L1197.7 435.2 L1200.7 435.3 L1203.9 434.8" fill="none" stroke="#262626" stroke-width="1" />
<path d="M1190.7 424.7 L1188.2 422.9 L1185.2 421.8 L1182 421.4 L1178.5 421.7 L1174.9 422.8 L1171.3 424.5 L1167.9 426.9 L1164.7 429.8 L1161.8 433.1 L1159.4 436.8 L1157.4 440.8 L1156.1 444.8 L1155.3 448.8 L1155.2 452.7 L1155.7 456.3 L1156.9 459.5 L1158.6 462.3 L1160.8 464.4 L1163.6 465.9 L1166.6 466.7 L1170 466.8 L1173.6 466.2" fill="#fff" stroke="#262626" stroke-width="1" />
<path d="M1189.3 426.5 L1187 424.9 L1184.3 423.9 L1181.4 423.5 L1178.2 423.8 L1174.9 424.8 L1171.7 426.3 L1168.6 428.5 L1165.7 431.1 L1163.1 434.2 L1160.9 437.5 L1159.1 441.1 L1157.9 444.8 L1157.2 448.4 L1157.1 451.9 L1157.5 455.2 L1158.6 458.1 L1160.1 460.6 L1162.2 462.5 L1164.7 463.9 L1167.5 464.6 L1170.5 464.7 L1173.7 464.2" fill="none" stroke="#262626" stroke-width="1" />
<path d="M1334.3 440.7 L1332.6 438.7 L1330.6 437.3 L1328.2 436.4 L1325.6 436.1 L1322.9 436.3 L1320 437.1 L1317.1 438.4 L1314.4 440.2 L1311.8 442.5 L1309.4 445.1 L1307.4 448 L1305.7 451.1" fill="none" stroke="#0a0a0a" stroke-width="4.4" />
<path d="M1308.9 432.5 L1306.8 432 L1304.4 432 L1302 432.5 L1299.6 433.4 L1297.2 434.8 L1294.9 436.6 L1292.8 438.7 L1290.9 441.1 L1289.4 443.7 L1288.2 446.4 L1287.4 449.1 L1287 451.9 L1287 454.5 L1287.4 456.9 L1288.3 459 L1289.6 460.8 L1291.2 462.2 L1293.1 463.1 L1350.1 483.7 L1352.3 484.2 L1354.6 484.2 L1357 483.8 L1359.4 482.8 L1361.8 481.5 L1364.1 479.7 L1366.2 477.6 L1368.1 475.2 L1369.7 472.6 L1370.9 469.9 L1371.7 467.1 L1372.1 464.4 L1372 461.8 L1371.6 459.4 L1370.7 457.3 L1369.5 455.5 L1367.9 454.1 L1366 453.1 Z" fill="#fff" stroke="#262626" stroke-width="1.2" />
<path d="M1215.3 400.1 L1213.2 399.6 L1210.9 399.6 L1208.5 400.1 L1206 401 L1203.6 402.4 L1201.3 404.2 L1199.2 406.3 L1197.3 408.6 L1195.8 411.2 L1194.6 414 L1193.8 416.7 L1193.4 419.5 L1193.4 422.1 L1193.9 424.5 L1194.7 426.6 L1196 428.4 L1197.6 429.8 L1199.5 430.7 L1342.1 482.2 L1344.3 482.7 L1346.6 482.7 L1349 482.2 L1351.5 481.3 L1353.9 479.9 L1356.2 478.2 L1358.3 476 L1360.1 473.7 L1361.7 471.1 L1362.9 468.3 L1363.7 465.6 L1364.1 462.9 L1364 460.3 L1363.6 457.9 L1362.7 455.7 L1361.5 453.9 L1359.9 452.5 L1358 451.6 Z" fill="#fff" stroke="#262626" stroke-width="1.2" />
<path d="M1305.6 430.3 L1303.6 428.9 L1301.1 428 L1298.5 427.7 L1295.6 428 L1292.7 428.8 L1289.8 430.2 L1286.9 432.2 L1284.3 434.5 L1282 437.3 L1280 440.3 L1278.4 443.5 L1277.3 446.9 L1276.6 450.1 L1276.5 453.3 L1277 456.3 L1277.9 458.9 L1279.3 461.1 L1281.2 462.9 L1283.4 464.1 L1285.9 464.8 L1288.7 464.9 L1291.6 464.4" fill="none" stroke="#0a0a0a" stroke-width="4.4" />
<path d="M1185.1 429.5 L1183 429 L1180.7 429 L1178.3 429.5 L1175.8 430.4 L1173.4 431.8 L1171.1 433.6 L1169 435.7 L1167.1 438 L1165.6 440.6 L1164.4 443.4 L1163.6 446.1 L1163.2 448.9 L1163.2 451.5 L1163.7 453.9 L1164.5 456 L1165.8 457.8 L1167.4 459.2 L1169.3 460.1 L1311.9 511.6 L1314.1 512.1 L1316.4 512.1 L1318.8 511.6 L1321.3 510.7 L1323.7 509.3 L1326 507.6 L1328.1 505.4 L1329.9 503.1 L1331.5 500.5 L1332.7 497.7 L1333.5 495 L1333.9 492.3 L1333.8 489.7 L1333.4 487.3 L1332.5 485.1 L1331.3 483.3 L1329.7 481.9 L1327.8 481 Z" fill="#fff" stroke="#262626" stroke-width="1.2" />
<path d="M1275.4 459.7 L1273.4 458.3 L1270.9 457.4 L1268.3 457.1 L1265.4 457.4 L1262.5 458.2 L1259.6 459.6 L1256.7 461.6 L1254.1 463.9 L1251.8 466.7 L1249.8 469.7 L1248.2 472.9 L1247.1 476.3 L1246.4 479.5 L1246.3 482.7 L1246.8 485.7 L1247.7 488.3 L1249.1 490.5 L1251 492.3 L1253.2 493.5 L1255.7 494.2 L1258.5 494.3 L1261.4 493.8" fill="none" stroke="#0a0a0a" stroke-width="4.4" />
<path d="M1114.7 433.3 L1116.8 443.6 L1124.3 446.8 L1126.5 447.8 L1130.6 446.8 L1132.3 445.4 L1134.3 446 L1135.4 447.8 L1135.4 427.9 L1120.2 433.3 Z" fill="#fff" stroke="#262626" stroke-width="1.2" />
<path d="M1111.2 430.2 L1123.7 423.5 L1135.4 427.9 L1120.2 433.3 Z" fill="#fff" stroke="#262626" stroke-width="1.2" />
<path d="M1111.2 430.2 L1111.9 432.2 L1120.6 435 L1120.2 433.3 Z" fill="#fff" stroke="#262626" stroke-width="1.2" />
<path d="M1122.3 434.5 L1122.3 443.6" fill="none" stroke="#262626" stroke-width="1" />
<path d="M1131.6 429.9 L1131.6 445.7" fill="none" stroke="#262626" stroke-width="1" />
<path d="M1138.3 443.6 L1140.5 454.3 L1148.3 457.6 L1150.5 458.7 L1154.8 457.6 L1156.6 456.1 L1158.7 456.8 L1159.8 458.7 L1159.8 438 L1144.1 443.6 Z" fill="#fff" stroke="#262626" stroke-width="1.2" />
<path d="M1134.7 440.4 L1147.6 433.4 L1159.8 438 L1144.1 443.6 Z" fill="#fff" stroke="#262626" stroke-width="1.2" />
<path d="M1134.7 440.4 L1135.5 442.5 L1144.4 445.4 L1144.1 443.6 Z" fill="#fff" stroke="#262626" stroke-width="1.2" />
<path d="M1146.2 444.8 L1146.2 454.3" fill="none" stroke="#262626" stroke-width="1" />
<path d="M1155.9 440 L1155.9 456.4" fill="none" stroke="#262626" stroke-width="1" />
<path d="M1413.6 449.3 L1419.9 448 L1421.8 453.1 L1419.3 474.5 L1414.3 475.8 Z" fill="#aaa" stroke="#262626" stroke-width="1.1" />
<defs><linearGradient id="g5" x1="0" y1="1" x2="1" y2="0"><stop offset="0.45" stop-color="#fff"/><stop offset="0.8" stop-color="#999"/></linearGradient></defs>
<path d="M1308.2 472 L1399.7 431.6 L1413 437.9 L1322.1 477.1 Z" fill="url(#g5)" stroke="#262626" stroke-width="1.2" />
<path d="M1308.2 472 L1322.1 477.1 L1322.1 573.1 L1307.5 565.5 Z" fill="#fff" stroke="#262626" stroke-width="1.2" />
<path d="M1322.1 477.1 L1413 437.9 L1414.3 531.4 L1322.1 573.1 Z" fill="#fff" stroke="#262626" stroke-width="1.2" />
<path d="M1325.8 482.1 L1408.6 446.1 L1409.8 527.6 L1325.8 566.7 Z" fill="none" stroke="#262626" stroke-width="1" />
<path d="M1327.7 565.5 L1410.5 529.5" fill="none" stroke="#444" stroke-width="2.2" />
<path d="M1409.2 446.7 L1410.5 527.6" fill="none" stroke="#444" stroke-width="2.2" />
<ellipse cx="1344.8" cy="461.6" rx="5.6" ry="2.6" fill="#fff" stroke="#262626" stroke-width="1" transform="rotate(-15 1344.8 461.6)"/>
<ellipse cx="1378.9" cy="447.4" rx="5.6" ry="2.6" fill="#fff" stroke="#262626" stroke-width="1" transform="rotate(-15 1378.9 447.4)"/>
<path d="M1327.7 488.4 L1346.1 472 L1346.7 480.8 L1341 483.4 C1320.8 490.9 1320.8 526.3 1341 533.9 L1347.3 531.4 L1347.9 557.9 L1342.3 560.4" fill="none" stroke="#262626" stroke-width="1.1" />
<path d="M1389 450.5 L1389.6 463.2 L1395.3 459.4 C1413 465.7 1413 501.1 1390.3 509.9 L1390.3 540.2 L1407.9 532.6" fill="none" stroke="#262626" stroke-width="1.1" />
<path d="M1356.8 555.4 L1356.8 503.6 C1362.5 499.8 1373.8 506.1 1380.2 493.5 L1380.8 544 L1356.8 555.4" fill="none" stroke="#262626" stroke-width="1.1" />
<path d="M1376.4 501.1 L1377 545.3" fill="none" stroke="#262626" stroke-width="1" />
<path d="M1363.2 507.8 L1363.1 508.4 L1363 509 L1362.8 509.6 L1362.6 510.2 L1362.3 510.7 L1361.9 511.2 L1361.5 511.6 L1361 511.8 L1360.6 512 L1360.1 512.1 L1359.7 512.1 L1359.3 512 L1358.9 511.8 L1358.6 511.4 L1358.3 511 L1358.1 510.5 L1358 510 L1358 509.4 L1358 508.8 L1358.1 508.2 L1358.3 507.6 L1358.6 507.1 L1358.9 506.5 L1359.3 506.1 L1359.7 505.7 L1360.1 505.4 L1360.6 505.2 L1361 505.1 L1361.5 505.2 L1361.9 505.3 L1362.3 505.5 L1362.6 505.8 L1362.8 506.2 L1363 506.7 L1363.1 507.3 L1363.2 507.8 Z" fill="#fff" stroke="#262626" stroke-width="1" />
<path d="M1379 501.5 L1378.9 502.1 L1378.8 502.7 L1378.6 503.3 L1378.4 503.9 L1378 504.4 L1377.7 504.9 L1377.3 505.2 L1376.8 505.5 L1376.4 505.7 L1375.9 505.8 L1375.5 505.8 L1375.1 505.7 L1374.7 505.4 L1374.4 505.1 L1374.1 504.7 L1373.9 504.2 L1373.8 503.7 L1373.8 503.1 L1373.8 502.5 L1373.9 501.9 L1374.1 501.3 L1374.4 500.7 L1374.7 500.2 L1375.1 499.8 L1375.5 499.4 L1375.9 499.1 L1376.4 498.9 L1376.8 498.8 L1377.3 498.8 L1377.7 499 L1378 499.2 L1378.4 499.5 L1378.6 499.9 L1378.8 500.4 L1378.9 500.9 L1379 501.5 Z" fill="#fff" stroke="#262626" stroke-width="1" />
<path d="M1369.5 547 L1369.5 547.6 L1369.3 548.2 L1369.1 548.8 L1368.9 549.4 L1368.6 549.9 L1368.2 550.3 L1367.8 550.7 L1367.3 551 L1366.9 551.2 L1366.4 551.3 L1366 551.3 L1365.6 551.1 L1365.2 550.9 L1364.9 550.6 L1364.6 550.2 L1364.5 549.7 L1364.3 549.2 L1364.3 548.6 L1364.3 548 L1364.5 547.4 L1364.6 546.8 L1364.9 546.2 L1365.2 545.7 L1365.6 545.2 L1366 544.9 L1366.4 544.6 L1366.9 544.4 L1367.3 544.3 L1367.8 544.3 L1368.2 544.4 L1368.6 544.7 L1368.9 545 L1369.1 545.4 L1369.3 545.9 L1369.5 546.4 L1369.5 547 Z" fill="#fff" stroke="#262626" stroke-width="1" />
<path d="M1412.4 529.3 L1412.4 529.9 L1412.3 530.5 L1412.1 531.1 L1411.8 531.7 L1411.5 532.2 L1411.1 532.6 L1410.7 533 L1410.3 533.3 L1409.8 533.5 L1409.4 533.6 L1409 533.6 L1408.5 533.4 L1408.2 533.2 L1407.9 532.9 L1407.6 532.5 L1407.4 532 L1407.3 531.5 L1407.2 530.9 L1407.3 530.3 L1407.4 529.7 L1407.6 529.1 L1407.9 528.5 L1408.2 528 L1408.5 527.6 L1409 527.2 L1409.4 526.9 L1409.8 526.7 L1410.3 526.6 L1410.7 526.6 L1411.1 526.8 L1411.5 527 L1411.8 527.3 L1412.1 527.7 L1412.3 528.2 L1412.4 528.7 L1412.4 529.3 Z" fill="#fff" stroke="#262626" stroke-width="1" />
<path d="M1377 456.8 L1382.1 457.5 L1381.4 461.9 Z" fill="#111" stroke="#262626" stroke-width="0.5" />
<path d="M1354.9 466.9 L1356.8 465.7 L1355.9 472 Z" fill="#111" stroke="#262626" stroke-width="0.5" />
<path d="M1299.5 505.4 L1301.7 516.1 L1309.6 519.3 L1311.8 520.4 L1316 519.3 L1317.8 517.9 L1319.9 518.6 L1321 520.4 L1321 499.8 L1305.3 505.4 Z" fill="#fff" stroke="#262626" stroke-width="1.2" />
<path d="M1296 502.2 L1308.9 495.2 L1321 499.8 L1305.3 505.4 Z" fill="#fff" stroke="#262626" stroke-width="1.2" />
<path d="M1296 502.2 L1296.7 504.3 L1305.7 507.2 L1305.3 505.4 Z" fill="#fff" stroke="#262626" stroke-width="1.2" />
<path d="M1307.4 506.6 L1307.4 516.1" fill="none" stroke="#262626" stroke-width="1" />
<path d="M1317.1 501.8 L1317.1 518.2" fill="none" stroke="#262626" stroke-width="1" />
<path d="M1157.8 596.6 L1140.6 579.8 L1146 577.7 L1145.3 539.4 L1168.9 530.2 L1169 569.3 L1174.6 568.3 Z" fill="#fff" stroke="#262626" stroke-width="1.1" />
<path d="M1157.8 596.6 L1140.6 579.8 L1146 577.7 L1145.3 539.4 L1168.9 530.2" fill="none" stroke="#262626" stroke-width="2.2" />
<path d="M1196.3 519.6 L1213.5 536.4 L1208.1 538.5 L1208.8 576.8 L1185.2 586 L1185.1 546.9 L1179.5 547.9 Z" fill="#fff" stroke="#262626" stroke-width="1.1" />
<path d="M1185.2 586 L1185.1 546.9 L1179.5 547.9 L1196.3 519.6" fill="none" stroke="#262626" stroke-width="2.2" />
<path d="M1234.6 567 L1217.4 550.2 L1222.8 548.1 L1222.1 509.8 L1245.7 500.6 L1245.8 539.7 L1251.4 538.7 Z" fill="#fff" stroke="#262626" stroke-width="1.1" />
<path d="M1234.6 567 L1217.4 550.2 L1222.8 548.1 L1222.1 509.8 L1245.7 500.6" fill="none" stroke="#262626" stroke-width="2.2" />
<path d="M698.5 612 L698.5 728" fill="none" stroke="#aaa" stroke-width="1" stroke-dasharray="1.5 3"/>
<path d="M804.2 760 L811 760 L811 805 L804.2 805 Z" fill="#eee" stroke="#262626" stroke-width="1" />
<path d="M804.2 763 L811 764.2" fill="none" stroke="#555" stroke-width="0.6" />
<path d="M804.2 766 L811 767.2" fill="none" stroke="#555" stroke-width="0.6" />
<path d="M804.2 769 L811 770.2" fill="none" stroke="#555" stroke-width="0.6" />
<path d="M804.2 772 L811 773.2" fill="none" stroke="#555" stroke-width="0.6" />
<path d="M804.2 775 L811 776.2" fill="none" stroke="#555" stroke-width="0.6" />
<path d="M804.2 778 L811 779.2" fill="none" stroke="#555" stroke-width="0.6" />
<path d="M804.2 781 L811 782.2" fill="none" stroke="#555" stroke-width="0.6" />
<path d="M804.2 784 L811 785.2" fill="none" stroke="#555" stroke-width="0.6" />
<path d="M804.2 787 L811 788.2" fill="none" stroke="#555" stroke-width="0.6" />
<path d="M804.2 790 L811 791.2" fill="none" stroke="#555" stroke-width="0.6" />
<path d="M804.2 793 L811 794.2" fill="none" stroke="#555" stroke-width="0.6" />
<path d="M804.2 796 L811 797.2" fill="none" stroke="#555" stroke-width="0.6" />
<path d="M800.9 805 L814.4 805 L814.4 814.5 L800.9 814.5 Z" fill="#777" stroke="#262626" stroke-width="1" />
<path d="M803.1 806 L803.1 813.5" fill="none" stroke="#111" stroke-width="0.7" />
<path d="M805.4 806 L805.4 813.5" fill="none" stroke="#111" stroke-width="0.7" />
<path d="M807.6 806 L807.6 813.5" fill="none" stroke="#111" stroke-width="0.7" />
<path d="M809.9 806 L809.9 813.5" fill="none" stroke="#111" stroke-width="0.7" />
<path d="M812.1 806 L812.1 813.5" fill="none" stroke="#111" stroke-width="0.7" />
<ellipse cx="807.6" cy="814.5" rx="6.8" ry="2" fill="#555" stroke="#222" stroke-width="0.8"/>
<path d="M696.4 790 L703.1 790 L703.1 843.7 L696.4 843.7 Z" fill="#eee" stroke="#262626" stroke-width="1" />
<path d="M696.4 793 L703.1 794.2" fill="none" stroke="#555" stroke-width="0.6" />
<path d="M696.4 796 L703.1 797.2" fill="none" stroke="#555" stroke-width="0.6" />
<path d="M696.4 799 L703.1 800.2" fill="none" stroke="#555" stroke-width="0.6" />
<path d="M696.4 802 L703.1 803.2" fill="none" stroke="#555" stroke-width="0.6" />
<path d="M696.4 805 L703.1 806.2" fill="none" stroke="#555" stroke-width="0.6" />
<path d="M696.4 808 L703.1 809.2" fill="none" stroke="#555" stroke-width="0.6" />
<path d="M696.4 811 L703.1 812.2" fill="none" stroke="#555" stroke-width="0.6" />
<path d="M696.4 814 L703.1 815.2" fill="none" stroke="#555" stroke-width="0.6" />
<path d="M696.4 817 L703.1 818.2" fill="none" stroke="#555" stroke-width="0.6" />
<path d="M696.4 820 L703.1 821.2" fill="none" stroke="#555" stroke-width="0.6" />
<path d="M696.4 823 L703.1 824.2" fill="none" stroke="#555" stroke-width="0.6" />
<path d="M696.4 826 L703.1 827.2" fill="none" stroke="#555" stroke-width="0.6" />
<path d="M696.4 829 L703.1 830.2" fill="none" stroke="#555" stroke-width="0.6" />
<path d="M696.4 832 L703.1 833.2" fill="none" stroke="#555" stroke-width="0.6" />
<path d="M693 843.7 L706.5 843.7 L706.5 853.7 L693 853.7 Z" fill="#777" stroke="#262626" stroke-width="1" />
<path d="M695.3 844.7 L695.3 852.7" fill="none" stroke="#111" stroke-width="0.7" />
<path d="M697.5 844.7 L697.5 852.7" fill="none" stroke="#111" stroke-width="0.7" />
<path d="M699.8 844.7 L699.8 852.7" fill="none" stroke="#111" stroke-width="0.7" />
<path d="M702 844.7 L702 852.7" fill="none" stroke="#111" stroke-width="0.7" />
<path d="M704.3 844.7 L704.3 852.7" fill="none" stroke="#111" stroke-width="0.7" />
<ellipse cx="699.8" cy="853.7" rx="6.8" ry="2" fill="#555" stroke="#222" stroke-width="0.8"/>
<path d="M658.5 750.2 L786.9 703.1 L849.2 725.5 L720.8 772.7 Z" fill="#fff" stroke="#262626" stroke-width="1.2" />
<path d="M658.5 750.2 L720.8 772.7 L720.8 806.4 L658.5 783.9 Z" fill="#fff" stroke="#262626" stroke-width="1.2" />
<path d="M720.8 772.7 L849.2 725.5 L849.2 759.2 L720.8 806.4 Z" fill="#fff" stroke="#262626" stroke-width="1.2" />
<path d="M663.2 750.2 L786.9 704.8 L844.4 725.5 L720.8 770.9 Z" fill="none" stroke="#262626" stroke-width="0.9" />
<path d="M724.7 727.8 Q724 724.4 729.3 721.7 L766.1 708.9 Q773.2 706.7 781.4 708.7 L819.2 722.4 Q824.1 725.3 821.1 728.3 Q818.2 731.1 811 730.2 L804.9 729.1 L800.8 731.4 Q800.3 735.5 799.8 737.5 Q799.3 743.7 790.6 744.9 Q784.5 745.2 780.4 743.9 L774.3 742.1 L773.8 746.2 L770.2 746.2 L731.4 732.6 Q725.2 730.9 724.7 727.8 Z" fill="#fff" stroke="#262626" stroke-width="0.9" />
<path d="M727.3 727.8 Q726.6 724.7 731.7 722 L766.5 710 Q773.2 707.8 781 709.8 L816.8 722.7 Q821.4 725.4 818.5 728.3 Q815.8 730.9 809 730.1 L803.2 729.1 L799.4 731.2 Q798.9 735.1 798.4 737 Q797.9 742.8 789.7 744 Q783.9 744.3 780 743 L774.2 741.4 L773.7 745.3 L770.3 745.3 L733.6 732.4 Q727.8 730.7 727.3 727.8 Z" fill="#fff" stroke="#262626" stroke-width="0.9" />
<path d="M729.9 727.9 Q729.3 724.9 734 722.4 L766.9 711 Q773.2 709 780.5 710.8 L814.3 723 Q818.7 725.6 815.9 728.3 Q813.4 730.8 807 730 L801.5 729.1 L797.9 731.1 Q797.4 734.7 797 736.5 Q796.5 742 788.8 743.1 Q783.3 743.4 779.6 742.2 L774.2 740.6 L773.7 744.3 L770.5 744.3 L735.8 732.2 Q730.4 730.6 729.9 727.9 Z" fill="#fff" stroke="#262626" stroke-width="0.9" />
<path d="M788.7 731.2 L790.7 731.7 L793.1 732.1 L795.7 732.2 L798.2 732.1 L800.6 731.7 L802.6 731.2 L804.2 730.4 L805.2 729.5 L805.5 728.6 L805.1 727.7 L804.1 726.8 L802.5 726.1 L775.1 716.2 L773.1 715.6 L770.7 715.3 L768.1 715.1 L765.6 715.3 L763.2 715.6 L761.2 716.2 L759.6 716.9 L758.7 717.8 L758.3 718.7 L758.7 719.7 L759.7 720.5 L761.3 721.3 Z" fill="#fff" stroke="#262626" stroke-width="0.9" />
<path d="M790.4 730.5 L791.9 731 L793.7 731.2 L795.7 731.3 L797.6 731.2 L799.4 731 L800.9 730.5 L802.1 730 L802.8 729.3 L803.1 728.6 L802.8 727.9 L802 727.3 L800.9 726.7 L773.5 716.8 L771.9 716.4 L770.1 716.1 L768.2 716 L766.2 716.1 L764.4 716.4 L762.9 716.8 L761.7 717.4 L761 718 L760.7 718.7 L761 719.4 L761.8 720.1 L763 720.7 Z" fill="#fff" stroke="#262626" stroke-width="0.9" />
<path d="M793.4 729.4 L794 729.6 L794.8 729.7 L795.6 729.8 L796.5 729.7 L797.2 729.6 L797.9 729.4 L798.4 729.2 L798.7 728.9 L798.8 728.6 L798.7 728.3 L798.4 728 L797.9 727.8 L770.5 717.9 L769.8 717.7 L769 717.6 L768.2 717.6 L767.4 717.6 L766.6 717.7 L765.9 717.9 L765.4 718.2 L765.1 718.4 L765 718.7 L765.1 719 L765.5 719.3 L766 719.6 Z" fill="#fff" stroke="#262626" stroke-width="1.2" />
<path d="M775.3 742.2 L778.3 743.1 L781.7 743.6 L785.3 743.7 L788.9 743.6 L792.3 743 L795.2 742.2 L797.4 741.2 L798.7 739.9 L799.2 738.6 L798.7 737.3 L797.3 736.1 L795 735 L764.2 723.9 L761.3 723.1 L757.9 722.6 L754.3 722.4 L750.6 722.6 L747.3 723.1 L744.4 723.9 L742.2 725 L740.8 726.2 L740.4 727.5 L740.9 728.8 L742.3 730.1 L744.5 731.1 Z" fill="#fff" stroke="#262626" stroke-width="0.9" />
<path d="M777 741.6 L779.4 742.3 L782.3 742.7 L785.3 742.9 L788.3 742.7 L791.1 742.3 L793.5 741.6 L795.3 740.7 L796.4 739.7 L796.8 738.6 L796.4 737.5 L795.2 736.5 L793.3 735.6 L762.5 724.5 L760.1 723.9 L757.3 723.4 L754.3 723.3 L751.3 723.4 L748.5 723.9 L746.1 724.5 L744.3 725.4 L743.1 726.4 L742.8 727.5 L743.2 728.6 L744.4 729.6 L746.2 730.5 Z" fill="#fff" stroke="#262626" stroke-width="0.9" />
<path d="M780 740.5 L781.6 740.9 L783.3 741.2 L785.2 741.3 L787.1 741.2 L788.9 740.9 L790.4 740.5 L791.6 740 L792.3 739.3 L792.5 738.6 L792.3 737.9 L791.5 737.3 L790.3 736.7 L759.5 725.6 L758 725.2 L756.2 724.9 L754.3 724.8 L752.4 724.9 L750.7 725.2 L749.1 725.6 L748 726.2 L747.3 726.8 L747 727.5 L747.3 728.2 L748 728.9 L749.2 729.4 Z" fill="#fff" stroke="#262626" stroke-width="1.2" />
<path d="M745.5 750.9 L748.3 751.6 L751.5 752.1 L755 752.3 L758.4 752.1 L761.6 751.6 L764.4 750.9 L766.5 749.8 L767.8 748.7 L768.2 747.4 L767.7 746.2 L766.4 745 L764.2 744 L730.2 731.7 L727.4 730.9 L724.2 730.5 L720.7 730.3 L717.3 730.5 L714.1 730.9 L711.3 731.7 L709.2 732.7 L707.9 733.9 L707.5 735.2 L708 736.4 L709.3 737.6 L711.5 738.6 Z" fill="#fff" stroke="#262626" stroke-width="0.9" />
<path d="M747.2 750.2 L749.5 750.9 L752.1 751.3 L754.9 751.4 L757.8 751.3 L760.4 750.9 L762.7 750.2 L764.4 749.4 L765.5 748.5 L765.8 747.4 L765.4 746.4 L764.3 745.4 L762.6 744.6 L728.5 732.3 L726.2 731.7 L723.6 731.3 L720.7 731.2 L717.9 731.3 L715.3 731.7 L713 732.3 L711.3 733.2 L710.2 734.1 L709.9 735.2 L710.3 736.2 L711.4 737.1 L713.1 738 Z" fill="#fff" stroke="#262626" stroke-width="0.9" />
<path d="M750.2 749.1 L751.6 749.5 L753.2 749.8 L754.9 749.9 L756.6 749.8 L758.2 749.5 L759.6 749.1 L760.7 748.6 L761.3 748.1 L761.5 747.4 L761.3 746.8 L760.6 746.2 L759.6 745.7 L725.5 733.4 L724.1 733 L722.5 732.8 L720.8 732.7 L719 732.8 L717.4 733 L716.1 733.4 L715 733.9 L714.4 734.5 L714.1 735.1 L714.4 735.8 L715.1 736.4 L716.1 736.9 Z" fill="#fff" stroke="#262626" stroke-width="1.2" />
<path d="M721 761.8 L723.8 762.6 L727.1 763.1 L730.6 763.2 L734.1 763.1 L737.4 762.6 L740.2 761.8 L742.4 760.8 L743.7 759.6 L744.1 758.3 L743.6 757 L742.3 755.8 L740.1 754.8 L710.6 744.1 L707.7 743.4 L704.5 742.9 L700.9 742.7 L697.4 742.9 L694.1 743.4 L691.3 744.1 L689.2 745.2 L687.8 746.4 L687.4 747.7 L687.9 748.9 L689.3 750.1 L691.5 751.2 Z" fill="#fff" stroke="#262626" stroke-width="0.9" />
<path d="M722.6 761.2 L725 761.8 L727.7 762.2 L730.6 762.4 L733.5 762.2 L736.2 761.8 L738.5 761.2 L740.3 760.3 L741.4 759.3 L741.7 758.3 L741.3 757.2 L740.2 756.2 L738.4 755.4 L708.9 744.8 L706.6 744.1 L703.9 743.7 L700.9 743.6 L698 743.7 L695.3 744.1 L693 744.8 L691.3 745.6 L690.2 746.6 L689.8 747.7 L690.2 748.7 L691.4 749.7 L693.2 750.5 Z" fill="#fff" stroke="#262626" stroke-width="0.9" />
<path d="M725.6 760.1 L727.1 760.5 L728.8 760.7 L730.6 760.8 L732.4 760.7 L734 760.5 L735.5 760.1 L736.5 759.5 L737.2 758.9 L737.5 758.3 L737.2 757.6 L736.5 757 L735.4 756.5 L705.9 745.9 L704.5 745.5 L702.8 745.2 L701 745.1 L699.2 745.2 L697.5 745.5 L696.1 745.9 L695 746.4 L694.3 747 L694.1 747.7 L694.3 748.3 L695 748.9 L696.2 749.4 Z" fill="#fff" stroke="#262626" stroke-width="1.2" />
<path d="M725.9 758.9 L726.8 759.2 L727.9 759.4 L729.1 759.4 L730.3 759.4 L731.4 759.2 L732.3 758.9 L733 758.6 L733.5 758.2 L733.6 757.8 L733.5 757.3 L733 756.9 L732.3 756.6 L705.6 747 L704.7 746.7 L703.6 746.6 L702.4 746.5 L701.2 746.6 L700.2 746.7 L699.2 747 L698.5 747.3 L698.1 747.7 L697.9 748.2 L698.1 748.6 L698.5 749 L699.3 749.3 Z" fill="#fff" stroke="#262626" stroke-width="1.4" />
<path d="M727.4 758.4 L727.9 758.5 L728.5 758.6 L729.1 758.6 L729.7 758.6 L730.3 758.5 L730.8 758.4 L731.2 758.2 L731.4 758 L731.5 757.8 L731.4 757.5 L731.2 757.3 L730.8 757.1 L704.1 747.5 L703.6 747.4 L703.1 747.3 L702.4 747.3 L701.8 747.3 L701.2 747.4 L700.7 747.5 L700.4 747.7 L700.1 747.9 L700.1 748.2 L700.1 748.4 L700.4 748.6 L700.8 748.8 Z" fill="#fff" stroke="#262626" stroke-width="0.9" />
<path d="M722.9 757.9 L723.2 758 L723.5 758.1 L723.8 758.1 L724.1 758.1 L724.4 758 L724.6 757.9 L724.8 757.8 L725 757.7 L725 757.6 L725 757.5 L724.8 757.4 L724.6 757.3 L703.7 749.8 L703.5 749.7 L703.2 749.7 L702.9 749.6 L702.6 749.7 L702.3 749.7 L702 749.8 L701.8 749.9 L701.7 750 L701.7 750.1 L701.7 750.2 L701.8 750.3 L702 750.4 Z" fill="none" stroke="#262626" stroke-width="0.9" />
<path d="M725.4 757 L725.6 757.1 L725.9 757.2 L726.2 757.2 L726.5 757.2 L726.8 757.1 L727.1 757 L727.3 757 L727.4 756.8 L727.4 756.7 L727.4 756.6 L727.3 756.5 L727.1 756.4 L706.2 748.9 L705.9 748.8 L705.6 748.8 L705.3 748.8 L705 748.8 L704.7 748.8 L704.5 748.9 L704.3 749 L704.1 749.1 L704.1 749.2 L704.1 749.3 L704.3 749.4 L704.5 749.5 Z" fill="none" stroke="#262626" stroke-width="0.9" />
<path d="M727.8 756.2 L728.1 756.2 L728.4 756.3 L728.7 756.3 L729 756.3 L729.3 756.2 L729.5 756.2 L729.7 756.1 L729.8 756 L729.9 755.8 L729.8 755.7 L729.7 755.6 L729.5 755.5 L708.6 748 L708.3 747.9 L708 747.9 L707.7 747.9 L707.4 747.9 L707.1 747.9 L706.9 748 L706.7 748.1 L706.6 748.2 L706.5 748.3 L706.6 748.4 L706.7 748.5 L706.9 748.6 Z" fill="none" stroke="#262626" stroke-width="0.9" />
<path d="M786.9 729.2 L787.2 729.3 L787.5 729.3 L787.8 729.4 L788.2 729.3 L788.5 729.3 L788.8 729.2 L789 729.1 L789.1 729 L789.2 728.9 L789.1 728.8 L789 728.6 L788.8 728.5 L765.9 720.3 L765.7 720.2 L765.3 720.2 L765 720.2 L764.6 720.2 L764.3 720.2 L764 720.3 L763.8 720.4 L763.7 720.5 L763.7 720.6 L763.7 720.8 L763.8 720.9 L764.1 721 Z" fill="none" stroke="#262626" stroke-width="1.2" />
<path d="M797.9 727.1 L798.2 727.1 L798.5 727.2 L798.8 727.2 L799.2 727.2 L799.5 727.1 L799.8 727.1 L800 727 L800.1 726.8 L800.2 726.7 L800.1 726.6 L800 726.5 L799.8 726.4 L776.9 718.1 L776.7 718.1 L776.3 718 L776 718 L775.6 718 L775.3 718.1 L775 718.1 L774.8 718.2 L774.7 718.4 L774.7 718.5 L774.7 718.6 L774.8 718.7 L775.1 718.8 Z" fill="none" stroke="#262626" stroke-width="1.2" />
<path d="M721.6 761.6 L722 761.8 L722.3 762 L722.5 762.2 L722.6 762.4 L722.6 762.6 L722.5 762.9 L722.3 763.1 L722 763.3 L721.6 763.4 L721.2 763.6 L720.7 763.7 L720.1 763.8 L719.5 763.8 L718.9 763.8 L718.3 763.8 L717.7 763.7 L717.2 763.6 L716.7 763.4 L716.3 763.3 L716 763.1 L715.8 762.9 L715.7 762.6 L715.7 762.4 L715.8 762.2 L716 762 L716.3 761.8 L716.7 761.6 L717.2 761.5 L717.7 761.4 L718.2 761.3 L718.8 761.3 L719.4 761.3 L720 761.3 L720.6 761.4 L721.1 761.5 L721.6 761.6 Z" fill="none" stroke="#262626" stroke-width="0.9" />
<path d="M789.5 713.2 L789.9 713.3 L790.2 713.5 L790.4 713.7 L790.5 714 L790.6 714.2 L790.5 714.4 L790.2 714.6 L790 714.8 L789.6 715 L789.1 715.1 L788.6 715.2 L788 715.3 L787.4 715.3 L786.8 715.3 L786.2 715.3 L785.6 715.2 L785.1 715.1 L784.7 715 L784.3 714.8 L784 714.6 L783.7 714.4 L783.6 714.2 L783.6 714 L783.7 713.7 L783.9 713.5 L784.2 713.3 L784.6 713.2 L785.1 713 L785.6 712.9 L786.2 712.8 L786.8 712.8 L787.4 712.8 L788 712.8 L788.5 712.9 L789.1 713 L789.5 713.2 Z" fill="none" stroke="#262626" stroke-width="0.9" />
<path d="M762.6 715.5 L773.8 711.3 L791.9 717.8 L780.6 722 Z" fill="none" stroke="#262626" stroke-width="0.9" />
<path d="M731.5 684.2 Q730.9 681.2 735.6 678.7 L768.5 667.3 Q774.8 665.3 782.1 667.1 L815.9 679.3 Q820.3 681.9 817.5 684.6 Q815 687.1 808.6 686.3 L803.1 685.4 L799.5 687.4 Q799 691 798.6 692.8 Q798.1 698.3 790.4 699.4 Q784.9 699.7 781.2 698.5 L775.8 696.9 L775.3 700.6 L772.1 700.6 L737.4 688.5 Q732 686.9 731.5 684.2 Z" fill="#fff" stroke="#0a0a0a" stroke-width="2.4" />
<path d="M794.2 686 L795.1 686.3 L796.1 686.4 L797.2 686.5 L798.3 686.4 L799.4 686.3 L800.2 686 L800.9 685.7 L801.3 685.3 L801.5 684.9 L801.3 684.5 L800.9 684.1 L800.2 683.8 L772.8 673.9 L771.9 673.7 L770.9 673.5 L769.8 673.5 L768.7 673.5 L767.7 673.7 L766.8 673.9 L766.1 674.3 L765.7 674.6 L765.5 675 L765.7 675.4 L766.1 675.8 L766.8 676.1 Z" fill="#fff" stroke="#0a0a0a" stroke-width="2.4" />
<path d="M780.9 697.1 L782.6 697.6 L784.7 697.9 L786.8 698 L789 697.9 L791 697.6 L792.8 697.1 L794.1 696.5 L794.9 695.7 L795.2 694.9 L794.9 694.1 L794 693.4 L792.7 692.8 L761.9 681.7 L760.1 681.2 L758.1 680.9 L755.9 680.8 L753.7 680.9 L751.7 681.2 L750 681.7 L748.7 682.3 L747.8 683 L747.6 683.8 L747.9 684.6 L748.7 685.4 L750.1 686 Z" fill="#fff" stroke="#0a0a0a" stroke-width="2.4" />
<path d="M751 705.7 L752.6 706.2 L754.5 706.4 L756.5 706.5 L758.5 706.4 L760.4 706.2 L762 705.7 L763.2 705.1 L764 704.5 L764.2 703.7 L763.9 703 L763.1 702.3 L761.9 701.7 L727.9 689.5 L726.2 689 L724.4 688.7 L722.4 688.6 L720.4 688.7 L718.5 689 L716.9 689.5 L715.7 690 L714.9 690.7 L714.7 691.5 L715 692.2 L715.7 692.9 L717 693.4 Z" fill="#fff" stroke="#0a0a0a" stroke-width="2.4" />
<path d="M707.3 699.7 L712.8 696 L739.7 704.7 L733.8 708.4 Z" fill="#fff" stroke="#0a0a0a" stroke-width="1.9" />
<path d="M724.7 714.7 L725.9 715 L727.3 715.3 L728.8 715.3 L730.4 715.3 L731.8 715 L733 714.7 L733.9 714.3 L734.5 713.7 L734.7 713.2 L734.5 712.6 L733.9 712.1 L732.9 711.7 L704.6 701.5 L703.4 701.1 L701.9 700.9 L700.4 700.8 L698.9 700.9 L697.5 701.1 L696.3 701.5 L695.4 701.9 L694.8 702.4 L694.6 703 L694.8 703.5 L695.4 704 L696.3 704.5 Z" fill="#fff" stroke="#0a0a0a" stroke-width="2.4" />
<path d="M1020.5 742 L1020.5 850" fill="none" stroke="#bbb" stroke-width="1" stroke-dasharray="1.5 3"/>
<path d="M1126.2 878.3 L1132.9 878.3 L1132.9 923.3 L1126.2 923.3 Z" fill="#eee" stroke="#262626" stroke-width="1" />
<path d="M1126.2 881 L1132.9 882.2" fill="none" stroke="#555" stroke-width="0.6" />
<path d="M1126.2 884 L1132.9 885.2" fill="none" stroke="#555" stroke-width="0.6" />
<path d="M1126.2 887 L1132.9 888.2" fill="none" stroke="#555" stroke-width="0.6" />
<path d="M1126.2 890 L1132.9 891.2" fill="none" stroke="#555" stroke-width="0.6" />
<path d="M1126.2 893 L1132.9 894.2" fill="none" stroke="#555" stroke-width="0.6" />
<path d="M1126.2 896 L1132.9 897.2" fill="none" stroke="#555" stroke-width="0.6" />
<path d="M1126.2 899 L1132.9 900.2" fill="none" stroke="#555" stroke-width="0.6" />
<path d="M1126.2 902 L1132.9 903.2" fill="none" stroke="#555" stroke-width="0.6" />
<path d="M1126.2 905 L1132.9 906.2" fill="none" stroke="#555" stroke-width="0.6" />
<path d="M1126.2 908 L1132.9 909.2" fill="none" stroke="#555" stroke-width="0.6" />
<path d="M1126.2 911 L1132.9 912.2" fill="none" stroke="#555" stroke-width="0.6" />
<path d="M1126.2 914 L1132.9 915.2" fill="none" stroke="#555" stroke-width="0.6" />
<path d="M1122.8 923.3 L1136.3 923.3 L1136.3 932.8 L1122.8 932.8 Z" fill="#777" stroke="#262626" stroke-width="1" />
<path d="M1125.1 924.3 L1125.1 931.8" fill="none" stroke="#111" stroke-width="0.7" />
<path d="M1127.3 924.3 L1127.3 931.8" fill="none" stroke="#111" stroke-width="0.7" />
<path d="M1129.6 924.3 L1129.6 931.8" fill="none" stroke="#111" stroke-width="0.7" />
<path d="M1131.8 924.3 L1131.8 931.8" fill="none" stroke="#111" stroke-width="0.7" />
<path d="M1134.1 924.3 L1134.1 931.8" fill="none" stroke="#111" stroke-width="0.7" />
<ellipse cx="1129.6" cy="932.8" rx="6.8" ry="2" fill="#555" stroke="#222" stroke-width="0.8"/>
<path d="M1018.4 908.3 L1025.1 908.3 L1025.1 962 L1018.4 962 Z" fill="#eee" stroke="#262626" stroke-width="1" />
<path d="M1018.4 911 L1025.1 912.2" fill="none" stroke="#555" stroke-width="0.6" />
<path d="M1018.4 914 L1025.1 915.2" fill="none" stroke="#555" stroke-width="0.6" />
<path d="M1018.4 917 L1025.1 918.2" fill="none" stroke="#555" stroke-width="0.6" />
<path d="M1018.4 920 L1025.1 921.2" fill="none" stroke="#555" stroke-width="0.6" />
<path d="M1018.4 923 L1025.1 924.2" fill="none" stroke="#555" stroke-width="0.6" />
<path d="M1018.4 926 L1025.1 927.2" fill="none" stroke="#555" stroke-width="0.6" />
<path d="M1018.4 929 L1025.1 930.2" fill="none" stroke="#555" stroke-width="0.6" />
<path d="M1018.4 932 L1025.1 933.2" fill="none" stroke="#555" stroke-width="0.6" />
<path d="M1018.4 935 L1025.1 936.2" fill="none" stroke="#555" stroke-width="0.6" />
<path d="M1018.4 938 L1025.1 939.2" fill="none" stroke="#555" stroke-width="0.6" />
<path d="M1018.4 941 L1025.1 942.2" fill="none" stroke="#555" stroke-width="0.6" />
<path d="M1018.4 944 L1025.1 945.2" fill="none" stroke="#555" stroke-width="0.6" />
<path d="M1018.4 947 L1025.1 948.2" fill="none" stroke="#555" stroke-width="0.6" />
<path d="M1018.4 950 L1025.1 951.2" fill="none" stroke="#555" stroke-width="0.6" />
<path d="M1018.4 953 L1025.1 954.2" fill="none" stroke="#555" stroke-width="0.6" />
<path d="M1015 962 L1028.5 962 L1028.5 972 L1015 972 Z" fill="#777" stroke="#262626" stroke-width="1" />
<path d="M1017.3 963 L1017.3 971" fill="none" stroke="#111" stroke-width="0.7" />
<path d="M1019.5 963 L1019.5 971" fill="none" stroke="#111" stroke-width="0.7" />
<path d="M1021.8 963 L1021.8 971" fill="none" stroke="#111" stroke-width="0.7" />
<path d="M1024 963 L1024 971" fill="none" stroke="#111" stroke-width="0.7" />
<path d="M1026.3 963 L1026.3 971" fill="none" stroke="#111" stroke-width="0.7" />
<ellipse cx="1021.8" cy="972" rx="6.8" ry="2" fill="#555" stroke="#222" stroke-width="0.8"/>
<path d="M980.5 868.5 L1108.9 821.4 L1171.2 843.8 L1042.8 891 Z" fill="#fff" stroke="#262626" stroke-width="1.2" />
<path d="M980.5 868.5 L1042.8 891 L1042.8 924.7 L980.5 902.2 Z" fill="#fff" stroke="#262626" stroke-width="1.2" />
<path d="M1042.8 891 L1171.2 843.8 L1171.2 877.5 L1042.8 924.7 Z" fill="#fff" stroke="#262626" stroke-width="1.2" />
<path d="M985.2 868.5 L1108.9 823.1 L1166.4 843.8 L1042.8 889.2 Z" fill="none" stroke="#262626" stroke-width="0.9" />
<path d="M1046.7 846.1 Q1046 842.7 1051.3 840 L1088.1 827.2 Q1095.2 825 1103.4 827 L1141.2 840.7 Q1146.1 843.6 1143.1 846.6 Q1140.2 849.4 1133 848.5 L1126.9 847.4 L1122.8 849.7 Q1122.3 853.8 1121.8 855.8 Q1121.3 862 1112.6 863.2 Q1106.5 863.5 1102.4 862.2 L1096.3 860.4 L1095.8 864.5 L1092.2 864.5 L1053.4 850.9 Q1047.2 849.2 1046.7 846.1 Z" fill="#fff" stroke="#262626" stroke-width="0.9" />
<path d="M1049.3 846.1 Q1048.6 843 1053.7 840.3 L1088.5 828.3 Q1095.2 826.1 1103 828.1 L1138.8 841 Q1143.4 843.7 1140.5 846.6 Q1137.8 849.2 1131 848.4 L1125.2 847.4 L1121.4 849.5 Q1120.9 853.4 1120.4 855.3 Q1119.9 861.1 1111.7 862.3 Q1105.9 862.6 1102 861.3 L1096.2 859.7 L1095.7 863.6 L1092.3 863.6 L1055.6 850.7 Q1049.8 849 1049.3 846.1 Z" fill="#fff" stroke="#262626" stroke-width="0.9" />
<path d="M1051.9 846.2 Q1051.3 843.2 1056 840.7 L1088.9 829.3 Q1095.2 827.3 1102.5 829.1 L1136.3 841.3 Q1140.7 843.9 1137.9 846.6 Q1135.4 849.1 1129 848.3 L1123.5 847.4 L1119.9 849.4 Q1119.4 853 1119 854.8 Q1118.5 860.3 1110.8 861.4 Q1105.3 861.7 1101.6 860.5 L1096.2 858.9 L1095.7 862.6 L1092.5 862.6 L1057.8 850.5 Q1052.4 848.9 1051.9 846.2 Z" fill="#fff" stroke="#262626" stroke-width="0.9" />
<path d="M1110.7 849.5 L1112.7 850 L1115.1 850.4 L1117.7 850.5 L1120.2 850.4 L1122.6 850 L1124.6 849.5 L1126.2 848.7 L1127.2 847.8 L1127.5 846.9 L1127.1 846 L1126.1 845.1 L1124.5 844.4 L1097.1 834.5 L1095.1 833.9 L1092.7 833.6 L1090.1 833.4 L1087.6 833.6 L1085.2 833.9 L1083.2 834.5 L1081.6 835.2 L1080.7 836.1 L1080.3 837 L1080.7 838 L1081.7 838.8 L1083.3 839.6 Z" fill="#fff" stroke="#262626" stroke-width="0.9" />
<path d="M1112.4 848.8 L1113.9 849.3 L1115.7 849.5 L1117.7 849.6 L1119.6 849.5 L1121.4 849.3 L1122.9 848.8 L1124.1 848.3 L1124.8 847.6 L1125.1 846.9 L1124.8 846.2 L1124 845.6 L1122.9 845 L1095.5 835.1 L1093.9 834.7 L1092.1 834.4 L1090.2 834.3 L1088.2 834.4 L1086.4 834.7 L1084.9 835.1 L1083.7 835.7 L1083 836.3 L1082.7 837 L1083 837.7 L1083.8 838.4 L1085 839 Z" fill="#fff" stroke="#262626" stroke-width="0.9" />
<path d="M1115.4 847.7 L1116 847.9 L1116.8 848 L1117.6 848.1 L1118.5 848 L1119.2 847.9 L1119.9 847.7 L1120.4 847.5 L1120.7 847.2 L1120.8 846.9 L1120.7 846.6 L1120.4 846.3 L1119.9 846.1 L1092.5 836.2 L1091.8 836 L1091 835.9 L1090.2 835.9 L1089.4 835.9 L1088.6 836 L1087.9 836.2 L1087.4 836.5 L1087.1 836.7 L1087 837 L1087.1 837.3 L1087.5 837.6 L1088 837.9 Z" fill="#fff" stroke="#262626" stroke-width="1.2" />
<path d="M1097.3 860.5 L1100.3 861.4 L1103.7 861.9 L1107.3 862 L1110.9 861.9 L1114.3 861.3 L1117.2 860.5 L1119.4 859.5 L1120.7 858.2 L1121.2 856.9 L1120.7 855.6 L1119.3 854.4 L1117 853.3 L1086.2 842.2 L1083.3 841.4 L1079.9 840.9 L1076.3 840.7 L1072.6 840.9 L1069.3 841.4 L1066.4 842.2 L1064.2 843.3 L1062.8 844.5 L1062.4 845.8 L1062.9 847.1 L1064.3 848.4 L1066.5 849.4 Z" fill="#fff" stroke="#262626" stroke-width="0.9" />
<path d="M1099 859.9 L1101.4 860.6 L1104.3 861 L1107.3 861.2 L1110.3 861 L1113.1 860.6 L1115.5 859.9 L1117.3 859 L1118.4 858 L1118.8 856.9 L1118.4 855.8 L1117.2 854.8 L1115.3 853.9 L1084.5 842.8 L1082.1 842.2 L1079.3 841.7 L1076.3 841.6 L1073.3 841.7 L1070.5 842.2 L1068.1 842.8 L1066.3 843.7 L1065.1 844.7 L1064.8 845.8 L1065.2 846.9 L1066.4 847.9 L1068.2 848.8 Z" fill="#fff" stroke="#262626" stroke-width="0.9" />
<path d="M1102 858.8 L1103.6 859.2 L1105.3 859.5 L1107.2 859.6 L1109.1 859.5 L1110.9 859.2 L1112.4 858.8 L1113.6 858.3 L1114.3 857.6 L1114.5 856.9 L1114.3 856.2 L1113.5 855.6 L1112.3 855 L1081.5 843.9 L1080 843.5 L1078.2 843.2 L1076.3 843.1 L1074.4 843.2 L1072.7 843.5 L1071.1 843.9 L1070 844.5 L1069.3 845.1 L1069 845.8 L1069.3 846.5 L1070 847.2 L1071.2 847.7 Z" fill="#fff" stroke="#262626" stroke-width="1.2" />
<path d="M1067.5 869.2 L1070.3 869.9 L1073.5 870.4 L1077 870.6 L1080.4 870.4 L1083.6 869.9 L1086.4 869.2 L1088.5 868.1 L1089.8 867 L1090.2 865.7 L1089.7 864.5 L1088.4 863.3 L1086.2 862.3 L1052.2 850 L1049.4 849.2 L1046.2 848.8 L1042.7 848.6 L1039.3 848.8 L1036.1 849.2 L1033.3 850 L1031.2 851 L1029.9 852.2 L1029.5 853.5 L1030 854.7 L1031.3 855.9 L1033.5 856.9 Z" fill="#fff" stroke="#262626" stroke-width="0.9" />
<path d="M1069.2 868.5 L1071.5 869.2 L1074.1 869.6 L1076.9 869.7 L1079.8 869.6 L1082.4 869.2 L1084.7 868.5 L1086.4 867.7 L1087.5 866.8 L1087.8 865.7 L1087.4 864.7 L1086.3 863.7 L1084.6 862.9 L1050.5 850.6 L1048.2 850 L1045.6 849.6 L1042.7 849.5 L1039.9 849.6 L1037.3 850 L1035 850.6 L1033.3 851.5 L1032.2 852.4 L1031.9 853.5 L1032.3 854.5 L1033.4 855.4 L1035.1 856.3 Z" fill="#fff" stroke="#262626" stroke-width="0.9" />
<path d="M1072.2 867.4 L1073.6 867.8 L1075.2 868.1 L1076.9 868.2 L1078.6 868.1 L1080.2 867.8 L1081.6 867.4 L1082.7 866.9 L1083.3 866.4 L1083.5 865.7 L1083.3 865.1 L1082.6 864.5 L1081.6 864 L1047.5 851.7 L1046.1 851.3 L1044.5 851.1 L1042.8 851 L1041 851.1 L1039.4 851.3 L1038.1 851.7 L1037 852.2 L1036.4 852.8 L1036.1 853.4 L1036.4 854.1 L1037.1 854.7 L1038.1 855.2 Z" fill="#fff" stroke="#262626" stroke-width="1.2" />
<path d="M1043 880.1 L1045.8 880.9 L1049.1 881.4 L1052.6 881.5 L1056.1 881.4 L1059.4 880.9 L1062.2 880.1 L1064.4 879.1 L1065.7 877.9 L1066.1 876.6 L1065.6 875.3 L1064.3 874.1 L1062.1 873.1 L1032.6 862.4 L1029.7 861.7 L1026.5 861.2 L1022.9 861 L1019.4 861.2 L1016.1 861.7 L1013.3 862.4 L1011.2 863.5 L1009.8 864.7 L1009.4 866 L1009.9 867.2 L1011.3 868.4 L1013.5 869.5 Z" fill="#fff" stroke="#262626" stroke-width="0.9" />
<path d="M1044.6 879.5 L1047 880.1 L1049.7 880.5 L1052.6 880.7 L1055.5 880.5 L1058.2 880.1 L1060.5 879.5 L1062.3 878.6 L1063.4 877.6 L1063.7 876.6 L1063.3 875.5 L1062.2 874.5 L1060.4 873.7 L1030.9 863.1 L1028.6 862.4 L1025.9 862 L1022.9 861.9 L1020 862 L1017.3 862.4 L1015 863.1 L1013.3 863.9 L1012.2 864.9 L1011.8 866 L1012.2 867 L1013.4 868 L1015.2 868.8 Z" fill="#fff" stroke="#262626" stroke-width="0.9" />
<path d="M1047.6 878.4 L1049.1 878.8 L1050.8 879 L1052.6 879.1 L1054.4 879 L1056 878.8 L1057.5 878.4 L1058.5 877.8 L1059.2 877.2 L1059.5 876.6 L1059.2 875.9 L1058.5 875.3 L1057.4 874.8 L1027.9 864.2 L1026.5 863.8 L1024.8 863.5 L1023 863.4 L1021.2 863.5 L1019.5 863.8 L1018.1 864.2 L1017 864.7 L1016.3 865.3 L1016.1 866 L1016.3 866.6 L1017 867.2 L1018.2 867.7 Z" fill="#fff" stroke="#262626" stroke-width="1.2" />
<path d="M1047.9 877.2 L1048.8 877.5 L1049.9 877.7 L1051.1 877.7 L1052.3 877.7 L1053.4 877.5 L1054.3 877.2 L1055 876.9 L1055.5 876.5 L1055.6 876.1 L1055.5 875.6 L1055 875.2 L1054.3 874.9 L1027.6 865.3 L1026.7 865 L1025.6 864.9 L1024.4 864.8 L1023.2 864.9 L1022.2 865 L1021.2 865.3 L1020.5 865.6 L1020.1 866 L1019.9 866.5 L1020.1 866.9 L1020.5 867.3 L1021.3 867.6 Z" fill="#fff" stroke="#262626" stroke-width="1.4" />
<path d="M1049.4 876.7 L1049.9 876.8 L1050.5 876.9 L1051.1 876.9 L1051.7 876.9 L1052.3 876.8 L1052.8 876.7 L1053.2 876.5 L1053.4 876.3 L1053.5 876.1 L1053.4 875.8 L1053.2 875.6 L1052.8 875.4 L1026.1 865.8 L1025.6 865.7 L1025.1 865.6 L1024.4 865.6 L1023.8 865.6 L1023.2 865.7 L1022.7 865.8 L1022.4 866 L1022.1 866.2 L1022.1 866.5 L1022.1 866.7 L1022.4 866.9 L1022.8 867.1 Z" fill="#fff" stroke="#262626" stroke-width="0.9" />
<path d="M1044.9 876.2 L1045.2 876.3 L1045.5 876.4 L1045.8 876.4 L1046.1 876.4 L1046.4 876.3 L1046.6 876.2 L1046.8 876.1 L1047 876 L1047 875.9 L1047 875.8 L1046.8 875.7 L1046.6 875.6 L1025.7 868.1 L1025.5 868 L1025.2 868 L1024.9 867.9 L1024.6 868 L1024.3 868 L1024 868.1 L1023.8 868.2 L1023.7 868.3 L1023.7 868.4 L1023.7 868.5 L1023.8 868.6 L1024 868.7 Z" fill="none" stroke="#262626" stroke-width="0.9" />
<path d="M1047.4 875.3 L1047.6 875.4 L1047.9 875.5 L1048.2 875.5 L1048.5 875.5 L1048.8 875.4 L1049.1 875.3 L1049.3 875.3 L1049.4 875.1 L1049.4 875 L1049.4 874.9 L1049.3 874.8 L1049.1 874.7 L1028.2 867.2 L1027.9 867.1 L1027.6 867.1 L1027.3 867.1 L1027 867.1 L1026.7 867.1 L1026.5 867.2 L1026.3 867.3 L1026.1 867.4 L1026.1 867.5 L1026.1 867.6 L1026.3 867.7 L1026.5 867.8 Z" fill="none" stroke="#262626" stroke-width="0.9" />
<path d="M1049.8 874.5 L1050.1 874.5 L1050.4 874.6 L1050.7 874.6 L1051 874.6 L1051.3 874.5 L1051.5 874.5 L1051.7 874.4 L1051.8 874.3 L1051.9 874.1 L1051.8 874 L1051.7 873.9 L1051.5 873.8 L1030.6 866.3 L1030.3 866.2 L1030 866.2 L1029.7 866.2 L1029.4 866.2 L1029.1 866.2 L1028.9 866.3 L1028.7 866.4 L1028.6 866.5 L1028.5 866.6 L1028.6 866.7 L1028.7 866.8 L1028.9 866.9 Z" fill="none" stroke="#262626" stroke-width="0.9" />
<path d="M1108.9 847.5 L1109.2 847.6 L1109.5 847.6 L1109.8 847.7 L1110.2 847.6 L1110.5 847.6 L1110.8 847.5 L1111 847.4 L1111.1 847.3 L1111.2 847.2 L1111.1 847.1 L1111 846.9 L1110.8 846.8 L1087.9 838.6 L1087.7 838.5 L1087.3 838.5 L1087 838.5 L1086.6 838.5 L1086.3 838.5 L1086 838.6 L1085.8 838.7 L1085.7 838.8 L1085.7 838.9 L1085.7 839.1 L1085.8 839.2 L1086.1 839.3 Z" fill="none" stroke="#262626" stroke-width="1.2" />
<path d="M1119.9 845.4 L1120.2 845.4 L1120.5 845.5 L1120.8 845.5 L1121.2 845.5 L1121.5 845.4 L1121.8 845.4 L1122 845.3 L1122.1 845.1 L1122.2 845 L1122.1 844.9 L1122 844.8 L1121.8 844.7 L1098.9 836.4 L1098.7 836.4 L1098.3 836.3 L1098 836.3 L1097.6 836.3 L1097.3 836.4 L1097 836.4 L1096.8 836.5 L1096.7 836.7 L1096.7 836.8 L1096.7 836.9 L1096.8 837 L1097.1 837.1 Z" fill="none" stroke="#262626" stroke-width="1.2" />
<path d="M1043.6 879.9 L1044 880.1 L1044.3 880.3 L1044.5 880.5 L1044.6 880.7 L1044.6 880.9 L1044.5 881.2 L1044.3 881.4 L1044 881.6 L1043.6 881.7 L1043.2 881.9 L1042.7 882 L1042.1 882.1 L1041.5 882.1 L1040.9 882.1 L1040.3 882.1 L1039.7 882 L1039.2 881.9 L1038.7 881.7 L1038.3 881.6 L1038 881.4 L1037.8 881.2 L1037.7 880.9 L1037.7 880.7 L1037.8 880.5 L1038 880.3 L1038.3 880.1 L1038.7 879.9 L1039.2 879.8 L1039.7 879.7 L1040.2 879.6 L1040.8 879.6 L1041.4 879.6 L1042 879.6 L1042.6 879.7 L1043.1 879.8 L1043.6 879.9 Z" fill="none" stroke="#262626" stroke-width="0.9" />
<path d="M1111.5 831.5 L1111.9 831.6 L1112.2 831.8 L1112.4 832 L1112.5 832.3 L1112.6 832.5 L1112.5 832.7 L1112.2 832.9 L1112 833.1 L1111.6 833.3 L1111.1 833.4 L1110.6 833.5 L1110 833.6 L1109.4 833.6 L1108.8 833.6 L1108.2 833.6 L1107.6 833.5 L1107.1 833.4 L1106.7 833.3 L1106.3 833.1 L1106 832.9 L1105.7 832.7 L1105.6 832.5 L1105.6 832.3 L1105.7 832 L1105.9 831.8 L1106.2 831.6 L1106.6 831.5 L1107.1 831.3 L1107.6 831.2 L1108.2 831.1 L1108.8 831.1 L1109.4 831.1 L1110 831.1 L1110.5 831.2 L1111.1 831.3 L1111.5 831.5 Z" fill="none" stroke="#262626" stroke-width="0.9" />
<path d="M1084.6 833.8 L1095.8 829.6 L1113.9 836.1 L1102.6 840.3 Z" fill="none" stroke="#262626" stroke-width="0.9" />
<path d="M1004.6 893.4 L1004.5 891.6 L1004.1 889.8 L1003.4 888 L1002.4 886.3 L1001.3 884.7 L1000 883.2 L998.5 881.9 L996.9 880.9 L995.3 880.2 L993.7 879.8 L992.1 879.6 L990.6 879.8 L989.3 880.3 L988.2 881.1 L987.2 882.2 L986.5 883.5 L986.1 885 L986 886.6 L986.1 888.4 L986.5 890.2 L987.2 892 L988.2 893.7 L989.3 895.3 L990.6 896.8 L992.1 898.1 L993.7 899.1 L995.3 899.8 L996.9 900.2 L998.5 900.4 L1000 900.2 L1001.3 899.7 L1002.4 898.9 L1003.4 897.8 L1004.1 896.5 L1004.5 895 L1004.6 893.4 Z" fill="#fff" stroke="#262626" stroke-width="1" />
<path d="M907.8 912 L906.7 912.6 L905.8 913.4 L905.1 914.4 L904.7 915.5 L904.4 916.9 L904.4 918.3 L904.6 919.8 L905.1 921.4 L905.8 922.9 L906.7 924.3 L907.7 925.6 L908.9 926.8 L910.2 927.7 L911.6 928.5 L912.9 929 L914.3 929.2 L915.6 929.2 L916.8 928.9 L999.8 898.4 L1000.9 897.9 L1001.7 897.1 L1002.4 896.1 L1002.9 894.9 L1003.2 893.6 L1003.2 892.2 L1002.9 890.6 L1002.5 889.1 L1001.8 887.6 L1000.9 886.2 L999.9 884.9 L998.7 883.7 L997.4 882.7 L996 882 L994.7 881.5 L993.3 881.2 L992 881.3 L990.8 881.6 Z" fill="#fff" stroke="#262626" stroke-width="1.2" />
<path d="M920.2 923.3 L920.1 921.8 L919.7 920.3 L919.1 918.8 L918.3 917.3 L917.4 916 L916.2 914.7 L915 913.7 L913.7 912.8 L912.3 912.2 L910.9 911.8 L909.6 911.7 L908.3 911.9 L907.2 912.3 L906.2 913 L905.4 913.9 L904.9 915 L904.5 916.2 L904.4 917.6 L904.5 919.1 L904.9 920.6 L905.4 922.2 L906.2 923.6 L907.2 925 L908.3 926.2 L909.6 927.3 L910.9 928.2 L912.3 928.8 L913.7 929.1 L915 929.3 L916.2 929.1 L917.4 928.7 L918.3 928 L919.1 927.1 L919.7 926 L920.1 924.7 L920.2 923.3 Z" fill="#fff" stroke="#262626" stroke-width="1.2" />
<path d="M1037.2 906 L1037.1 904.2 L1036.7 902.4 L1036 900.6 L1035 898.9 L1033.9 897.3 L1032.6 895.8 L1031.1 894.5 L1029.5 893.5 L1027.9 892.8 L1026.3 892.4 L1024.7 892.2 L1023.2 892.4 L1021.9 892.9 L1020.8 893.7 L1019.8 894.8 L1019.1 896.1 L1018.7 897.6 L1018.6 899.2 L1018.7 901 L1019.1 902.8 L1019.8 904.6 L1020.8 906.3 L1021.9 907.9 L1023.2 909.4 L1024.7 910.7 L1026.3 911.7 L1027.9 912.4 L1029.5 912.8 L1031.1 913 L1032.6 912.8 L1033.9 912.3 L1035 911.5 L1036 910.4 L1036.7 909.1 L1037.1 907.6 L1037.2 906 Z" fill="#fff" stroke="#262626" stroke-width="1" />
<path d="M940.4 924.6 L939.3 925.2 L938.4 926 L937.7 927 L937.3 928.1 L937 929.5 L937 930.9 L937.2 932.4 L937.7 934 L938.4 935.5 L939.3 936.9 L940.3 938.2 L941.5 939.4 L942.8 940.3 L944.2 941.1 L945.5 941.6 L946.9 941.8 L948.2 941.8 L949.4 941.5 L1032.4 911 L1033.5 910.5 L1034.3 909.7 L1035 908.7 L1035.5 907.5 L1035.8 906.2 L1035.8 904.8 L1035.5 903.2 L1035.1 901.7 L1034.4 900.2 L1033.5 898.8 L1032.5 897.5 L1031.3 896.3 L1030 895.3 L1028.6 894.6 L1027.3 894.1 L1025.9 893.8 L1024.6 893.9 L1023.4 894.2 Z" fill="#fff" stroke="#262626" stroke-width="1.2" />
<path d="M952.8 935.9 L952.7 934.4 L952.3 932.9 L951.7 931.4 L950.9 929.9 L950 928.6 L948.8 927.3 L947.6 926.3 L946.3 925.4 L944.9 924.8 L943.5 924.4 L942.2 924.3 L940.9 924.5 L939.8 924.9 L938.8 925.6 L938 926.5 L937.5 927.6 L937.1 928.8 L937 930.2 L937.1 931.7 L937.5 933.2 L938 934.8 L938.8 936.2 L939.8 937.6 L940.9 938.8 L942.2 939.9 L943.5 940.8 L944.9 941.4 L946.3 941.7 L947.6 941.9 L948.8 941.7 L950 941.3 L950.9 940.6 L951.7 939.7 L952.3 938.6 L952.7 937.3 L952.8 935.9 Z" fill="#fff" stroke="#262626" stroke-width="1.2" />
<path d="M1053.7 802.5 Q1053.1 799.5 1057.8 797 L1090.7 785.6 Q1097 783.6 1104.3 785.4 L1138.1 797.6 Q1142.5 800.2 1139.7 802.9 Q1137.2 805.4 1130.8 804.6 L1125.3 803.7 L1121.7 805.7 Q1121.2 809.3 1120.8 811.1 Q1120.3 816.6 1112.6 817.7 Q1107.1 818 1103.4 816.8 L1098 815.2 L1097.5 818.9 L1094.3 818.9 L1059.6 806.8 Q1054.2 805.2 1053.7 802.5 Z" fill="#fff" stroke="#0a0a0a" stroke-width="2.4" />
<path d="M1116.4 804.3 L1117.3 804.6 L1118.3 804.7 L1119.4 804.8 L1120.5 804.7 L1121.6 804.6 L1122.4 804.3 L1123.1 804 L1123.5 803.6 L1123.7 803.2 L1123.5 802.8 L1123.1 802.4 L1122.4 802.1 L1095 792.2 L1094.1 792 L1093.1 791.8 L1092 791.8 L1090.9 791.8 L1089.9 792 L1089 792.2 L1088.3 792.6 L1087.9 792.9 L1087.7 793.3 L1087.9 793.7 L1088.3 794.1 L1089 794.4 Z" fill="#fff" stroke="#0a0a0a" stroke-width="2.4" />
<path d="M1103.1 815.4 L1104.8 815.9 L1106.9 816.2 L1109 816.3 L1111.2 816.2 L1113.2 815.9 L1115 815.4 L1116.3 814.8 L1117.1 814 L1117.4 813.2 L1117.1 812.4 L1116.2 811.7 L1114.9 811.1 L1084.1 800 L1082.3 799.5 L1080.3 799.2 L1078.1 799.1 L1075.9 799.2 L1073.9 799.5 L1072.2 800 L1070.9 800.6 L1070 801.3 L1069.8 802.1 L1070.1 802.9 L1070.9 803.7 L1072.3 804.3 Z" fill="#fff" stroke="#0a0a0a" stroke-width="2.4" />
<path d="M1073.2 824 L1074.8 824.5 L1076.7 824.7 L1078.7 824.8 L1080.7 824.7 L1082.6 824.5 L1084.2 824 L1085.4 823.4 L1086.2 822.8 L1086.4 822 L1086.1 821.3 L1085.3 820.6 L1084.1 820 L1050.1 807.8 L1048.4 807.3 L1046.6 807 L1044.6 806.9 L1042.6 807 L1040.7 807.3 L1039.1 807.8 L1037.9 808.3 L1037.1 809 L1036.9 809.8 L1037.2 810.5 L1037.9 811.2 L1039.2 811.7 Z" fill="#fff" stroke="#0a0a0a" stroke-width="2.4" />
<path d="M1029.5 818 L1035 814.3 L1061.9 823 L1056 826.7 Z" fill="#fff" stroke="#0a0a0a" stroke-width="1.9" />
<path d="M1046.9 833 L1048.1 833.3 L1049.5 833.6 L1051 833.6 L1052.6 833.6 L1054 833.3 L1055.2 833 L1056.1 832.6 L1056.7 832 L1056.9 831.5 L1056.7 830.9 L1056.1 830.4 L1055.1 830 L1026.8 819.8 L1025.6 819.4 L1024.1 819.2 L1022.6 819.1 L1021.1 819.2 L1019.7 819.4 L1018.5 819.8 L1017.6 820.2 L1017 820.7 L1016.8 821.3 L1017 821.8 L1017.6 822.3 L1018.5 822.8 Z" fill="#fff" stroke="#0a0a0a" stroke-width="2.4" />
<path d="M711.4 961.9 L730.1 955 L794.1 978.1 L775.4 985 Z" fill="#fff" stroke="#262626" stroke-width="1.2" />
<path d="M711.4 961.9 L775.4 985 L775.4 1004.5 L711.4 981.4 Z" fill="#fff" stroke="#262626" stroke-width="1.2" />
<path d="M775.4 985 L794.1 978.1 L794.1 997.6 L775.4 1004.5 Z" fill="#fff" stroke="#262626" stroke-width="1.2" />
<path d="M790 989.9 L789.9 989.1 L789.8 988.4 L789.4 987.8 L789 987.3 L788.5 986.9 L787.9 986.7 L787.2 986.6 L786.4 986.6 L785.7 986.8 L785 987.2 L784.2 987.7 L783.5 988.3 L782.9 988.9 L782.4 989.7 L782 990.5 L781.7 991.4 L781.5 992.2 L781.4 993 L781.5 993.8 L781.7 994.5 L782 995.1 L782.4 995.6 L782.9 996 L783.5 996.2 L784.2 996.3 L785 996.3 L785.7 996 L786.4 995.7 L787.2 995.2 L787.9 994.6 L788.5 994 L789 993.2 L789.4 992.4 L789.8 991.5 L789.9 990.7 L790 989.9 Z" fill="none" stroke="#262626" stroke-width="1.2" />
<path d="M602.7 964.8 L711.4 924.9 L775.4 948 L666.7 987.9 Z" fill="#fff" stroke="#262626" stroke-width="1.2" />
<path d="M602.7 964.8 L666.7 987.9 L666.7 1044.4 L602.7 1021.3 Z" fill="#fff" stroke="#262626" stroke-width="1.2" />
<path d="M666.7 987.9 L775.4 948 L775.4 1004.5 L666.7 1044.4 Z" fill="#fff" stroke="#262626" stroke-width="1.2" />
<path d="M584 1008.7 L602.7 1001.8 L666.7 1024.9 L648 1031.8 Z" fill="#fff" stroke="#262626" stroke-width="1.2" />
<path d="M584 1008.7 L648 1031.8 L648 1051.3 L584 1028.2 Z" fill="#fff" stroke="#262626" stroke-width="1.2" />
<path d="M648 1031.8 L666.7 1024.9 L666.7 1044.4 L648 1051.3 Z" fill="#fff" stroke="#262626" stroke-width="1.2" />
<path d="M662.6 1036.6 L662.5 1035.9 L662.3 1035.2 L662 1034.6 L661.6 1034.1 L661 1033.7 L660.4 1033.5 L659.7 1033.4 L659 1033.4 L658.3 1033.6 L657.5 1034 L656.8 1034.4 L656.1 1035 L655.5 1035.7 L655 1036.5 L654.5 1037.3 L654.2 1038.1 L654 1039 L654 1039.8 L654 1040.6 L654.2 1041.3 L654.5 1041.9 L655 1042.4 L655.5 1042.8 L656.1 1043 L656.8 1043.1 L657.5 1043 L658.3 1042.8 L659 1042.5 L659.7 1042 L660.4 1041.4 L661 1040.7 L661.6 1040 L662 1039.2 L662.3 1038.3 L662.5 1037.5 L662.6 1036.6 Z" fill="none" stroke="#262626" stroke-width="1.2" />
<path d="M628.1 1015.3 L628.6 1015.6 L629.1 1015.8 L629.3 1016.1 L629.5 1016.4 L629.5 1016.7 L629.4 1017 L629.1 1017.3 L628.7 1017.6 L628.1 1017.8 L627.5 1018 L626.8 1018.1 L626 1018.2 L625.2 1018.3 L624.3 1018.3 L623.5 1018.2 L622.7 1018.1 L622 1018 L621.3 1017.8 L620.8 1017.6 L620.4 1017.3 L620.1 1017 L619.9 1016.7 L619.9 1016.4 L620.1 1016.1 L620.3 1015.8 L620.8 1015.6 L621.3 1015.3 L621.9 1015.1 L622.6 1015 L623.4 1014.9 L624.3 1014.8 L625.1 1014.8 L625.9 1014.9 L626.7 1015 L627.4 1015.1 L628.1 1015.3 Z" fill="none" stroke="#262626" stroke-width="1.2" />
<path d="M661.8 976 L662.4 976.2 L663 976.3 L663.6 976.3 L664.3 976.3 L664.9 976.2 L665.4 976 L665.8 975.8 L666.1 975.6 L666.2 975.4 L666.1 975.1 L665.8 974.9 L665.4 974.7 L651.8 969.8 L651.3 969.7 L650.7 969.6 L650 969.6 L649.3 969.6 L648.7 969.7 L648.2 969.8 L647.8 970 L647.6 970.2 L647.5 970.5 L647.6 970.7 L647.8 970.9 L648.2 971.1 Z" fill="#fff" stroke="#262626" stroke-width="1.2" />
<path d="M664.4 968.6 L665.4 968.9 L666.5 969.1 L667.7 969.1 L668.9 969.1 L670.1 968.9 L671 968.6 L671.8 968.3 L672.2 967.9 L672.4 967.4 L672.2 967 L671.7 966.6 L671 966.2 L655.3 960.6 L654.3 960.3 L653.2 960.1 L652 960.1 L650.8 960.1 L649.6 960.3 L648.7 960.6 L647.9 960.9 L647.5 961.3 L647.3 961.8 L647.5 962.2 L648 962.6 L648.7 963 Z" fill="#fff" stroke="#262626" stroke-width="1.2" />
<path d="M685.9 966 L686.9 966.3 L688 966.5 L689.2 966.5 L690.4 966.5 L691.5 966.3 L692.5 966 L693.2 965.7 L693.7 965.3 L693.8 964.8 L693.7 964.4 L693.2 964 L692.5 963.6 L675.6 957.5 L674.6 957.3 L673.5 957.1 L672.3 957.1 L671.1 957.1 L670 957.3 L669 957.6 L668.3 957.9 L667.8 958.3 L667.7 958.8 L667.8 959.2 L668.3 959.6 L669.1 960 Z" fill="#fff" stroke="#262626" stroke-width="1.2" />
<path d="M692 958.8 L692.9 959.1 L694.1 959.2 L695.3 959.3 L696.5 959.2 L697.6 959.1 L698.6 958.8 L699.3 958.5 L699.8 958 L699.9 957.6 L699.8 957.2 L699.3 956.8 L698.5 956.4 L681.7 950.3 L680.7 950.1 L679.6 949.9 L678.4 949.8 L677.2 949.9 L676.1 950.1 L675.1 950.3 L674.4 950.7 L673.9 951.1 L673.7 951.5 L673.9 952 L674.4 952.4 L675.1 952.7 Z" fill="#fff" stroke="#262626" stroke-width="1.2" />
<path d="M711.1 956.7 L712.1 957 L713.2 957.1 L714.4 957.2 L715.6 957.1 L716.7 957 L717.7 956.7 L718.4 956.3 L718.9 955.9 L719 955.5 L718.9 955.1 L718.4 954.6 L717.7 954.3 L703.1 949 L702.1 948.8 L701 948.6 L699.8 948.6 L698.6 948.6 L697.5 948.8 L696.5 949.1 L695.8 949.4 L695.3 949.8 L695.2 950.3 L695.3 950.7 L695.8 951.1 L696.5 951.5 Z" fill="#fff" stroke="#262626" stroke-width="1.2" />
<path d="M717.6 949 L718.6 949.3 L719.7 949.5 L721 949.5 L722.2 949.5 L723.3 949.3 L724.3 949 L725 948.7 L725.4 948.3 L725.6 947.8 L725.4 947.4 L725 947 L724.2 946.6 L707.2 940.5 L706.2 940.2 L705.1 940.1 L703.9 940 L702.7 940.1 L701.5 940.2 L700.6 940.5 L699.8 940.8 L699.4 941.3 L699.2 941.7 L699.4 942.1 L699.9 942.5 L700.6 942.9 Z" fill="#fff" stroke="#262626" stroke-width="1.2" />
<path d="M732.6 943.6 L733.2 943.8 L733.8 943.8 L734.4 943.9 L735.1 943.8 L735.7 943.8 L736.2 943.6 L736.6 943.4 L736.9 943.2 L737 943 L736.9 942.7 L736.6 942.5 L736.2 942.3 L720.9 936.8 L720.4 936.6 L719.7 936.5 L719.1 936.5 L718.4 936.5 L717.8 936.6 L717.3 936.8 L716.9 937 L716.7 937.2 L716.6 937.4 L716.7 937.7 L716.9 937.9 L717.3 938.1 Z" fill="#fff" stroke="#262626" stroke-width="1.2" />
<path d="M660.2 952.1 L660.9 952.4 L661.4 952.7 L661.8 953.1 L661.9 953.5 L661.9 953.8 L661.8 954.2 L661.4 954.5 L660.9 954.9 L660.3 955.2 L659.5 955.4 L658.6 955.6 L657.7 955.7 L656.6 955.8 L655.6 955.8 L654.6 955.7 L653.6 955.6 L652.8 955.4 L652 955.2 L651.3 954.9 L650.8 954.5 L650.4 954.2 L650.2 953.8 L650.2 953.5 L650.4 953.1 L650.8 952.7 L651.3 952.4 L651.9 952.1 L652.7 951.9 L653.6 951.7 L654.5 951.6 L655.5 951.5 L656.6 951.5 L657.6 951.6 L658.5 951.7 L659.4 951.9 L660.2 952.1 Z" fill="#111" stroke="#262626" stroke-width="0.8" />
<path d="M658.2 953.3 L658.2 953.5 L658.1 953.6 L658 953.7 L657.8 953.8 L657.6 953.9 L657.4 953.9 L657.1 954 L656.9 954 L656.6 954 L656.3 954 L656 954 L655.8 953.9 L655.6 953.9 L655.4 953.8 L655.2 953.7 L655.1 953.6 L655 953.5 L655 953.3 L655 953.2 L655.1 953.1 L655.2 953 L655.4 952.9 L655.6 952.8 L655.8 952.7 L656 952.7 L656.3 952.7 L656.6 952.6 L656.9 952.7 L657.1 952.7 L657.4 952.7 L657.6 952.8 L657.8 952.9 L658 953 L658.1 953.1 L658.2 953.2 L658.2 953.3 Z" fill="#fff" stroke="none" stroke-width="1.2" />
<path d="M686.2 942.5 L686.8 942.8 L687.4 943.1 L687.7 943.5 L687.9 943.9 L687.9 944.2 L687.7 944.6 L687.4 944.9 L686.9 945.3 L686.2 945.6 L685.5 945.8 L684.6 946 L683.6 946.1 L682.6 946.2 L681.6 946.2 L680.6 946.1 L679.6 946 L678.7 945.8 L677.9 945.6 L677.3 945.3 L676.7 945 L676.4 944.6 L676.2 944.2 L676.2 943.9 L676.4 943.5 L676.7 943.1 L677.2 942.8 L677.9 942.5 L678.6 942.3 L679.5 942.1 L680.5 942 L681.5 941.9 L682.5 941.9 L683.5 942 L684.5 942.1 L685.4 942.3 L686.2 942.5 Z" fill="#111" stroke="#262626" stroke-width="0.8" />
<path d="M684.1 943.7 L684.1 943.9 L684 944 L683.9 944.1 L683.8 944.2 L683.6 944.3 L683.3 944.4 L683.1 944.4 L682.8 944.4 L682.5 944.4 L682.3 944.4 L682 944.4 L681.7 944.4 L681.5 944.3 L681.3 944.2 L681.2 944.1 L681 944 L681 943.9 L680.9 943.7 L681 943.6 L681 943.5 L681.2 943.4 L681.3 943.3 L681.5 943.2 L681.7 943.1 L682 943.1 L682.3 943.1 L682.5 943 L682.8 943.1 L683.1 943.1 L683.3 943.1 L683.6 943.2 L683.8 943.3 L683.9 943.4 L684 943.5 L684.1 943.6 L684.1 943.7 Z" fill="#fff" stroke="none" stroke-width="1.2" />
<path d="M741.1 952.1 L741.8 952.4 L742.3 952.7 L742.7 953.1 L742.8 953.4 L742.8 953.8 L742.7 954.2 L742.3 954.5 L741.8 954.9 L741.2 955.1 L740.4 955.4 L739.5 955.6 L738.6 955.7 L737.5 955.8 L736.5 955.8 L735.5 955.7 L734.6 955.6 L733.7 955.4 L732.9 955.1 L732.2 954.9 L731.7 954.5 L731.3 954.2 L731.1 953.8 L731.1 953.5 L731.3 953.1 L731.7 952.7 L732.2 952.4 L732.8 952.1 L733.6 951.9 L734.5 951.7 L735.4 951.6 L736.4 951.5 L737.5 951.5 L738.5 951.6 L739.4 951.7 L740.3 951.9 L741.1 952.1 Z" fill="#111" stroke="#262626" stroke-width="0.8" />
<path d="M739.1 953.3 L739.1 953.5 L739 953.6 L738.9 953.7 L738.7 953.8 L738.5 953.9 L738.3 953.9 L738 954 L737.8 954 L737.5 954 L737.2 954 L736.9 954 L736.7 953.9 L736.5 953.9 L736.3 953.8 L736.1 953.7 L736 953.6 L735.9 953.5 L735.9 953.3 L735.9 953.2 L736 953.1 L736.1 953 L736.3 952.9 L736.5 952.8 L736.7 952.7 L736.9 952.7 L737.2 952.6 L737.5 952.6 L737.8 952.6 L738 952.7 L738.3 952.7 L738.5 952.8 L738.7 952.9 L738.9 953 L739 953.1 L739.1 953.2 L739.1 953.3 Z" fill="#fff" stroke="none" stroke-width="1.2" />
<path d="M688.8 971.2 L689.5 971.5 L690 971.9 L690.4 972.2 L690.6 972.6 L690.6 972.9 L690.4 973.3 L690.1 973.7 L689.5 974 L688.9 974.3 L688.1 974.5 L687.2 974.7 L686.3 974.8 L685.3 974.9 L684.2 974.9 L683.2 974.8 L682.3 974.7 L681.4 974.5 L680.6 974.3 L679.9 974 L679.4 973.7 L679 973.3 L678.9 972.9 L678.9 972.6 L679 972.2 L679.4 971.9 L679.9 971.5 L680.5 971.3 L681.3 971 L682.2 970.8 L683.1 970.7 L684.2 970.6 L685.2 970.6 L686.2 970.7 L687.2 970.8 L688 971 L688.8 971.2 Z" fill="#111" stroke="#262626" stroke-width="0.8" />
<path d="M686.8 972.5 L686.8 972.6 L686.7 972.7 L686.6 972.8 L686.4 972.9 L686.2 973 L686 973.1 L685.8 973.1 L685.5 973.1 L685.2 973.2 L684.9 973.1 L684.7 973.1 L684.4 973.1 L684.2 973 L684 972.9 L683.8 972.8 L683.7 972.7 L683.6 972.6 L683.6 972.5 L683.6 972.3 L683.7 972.2 L683.8 972.1 L684 972 L684.2 971.9 L684.4 971.9 L684.7 971.8 L684.9 971.8 L685.2 971.8 L685.5 971.8 L685.8 971.8 L686 971.9 L686.2 971.9 L686.4 972 L686.6 972.1 L686.7 972.2 L686.8 972.3 L686.8 972.5 Z" fill="#fff" stroke="none" stroke-width="1.2" />
<path d="M915.6 1035.7 L934.3 1028.8 L998.3 1051.9 L979.6 1058.8 Z" fill="#fff" stroke="#262626" stroke-width="1.2" />
<path d="M915.6 1035.7 L979.6 1058.8 L979.6 1078.3 L915.6 1055.2 Z" fill="#fff" stroke="#262626" stroke-width="1.2" />
<path d="M979.6 1058.8 L998.3 1051.9 L998.3 1071.4 L979.6 1078.3 Z" fill="#fff" stroke="#262626" stroke-width="1.2" />
<path d="M994.2 1063.7 L994.1 1062.9 L994 1062.2 L993.6 1061.6 L993.2 1061.1 L992.7 1060.7 L992.1 1060.5 L991.4 1060.4 L990.6 1060.4 L989.9 1060.6 L989.2 1061 L988.4 1061.5 L987.7 1062.1 L987.1 1062.7 L986.6 1063.5 L986.2 1064.3 L985.9 1065.2 L985.7 1066 L985.6 1066.8 L985.7 1067.6 L985.9 1068.3 L986.2 1068.9 L986.6 1069.4 L987.1 1069.8 L987.7 1070 L988.4 1070.1 L989.2 1070.1 L989.9 1069.8 L990.6 1069.5 L991.4 1069 L992.1 1068.4 L992.7 1067.8 L993.2 1067 L993.6 1066.2 L994 1065.3 L994.1 1064.5 L994.2 1063.7 Z" fill="none" stroke="#262626" stroke-width="1.2" />
<path d="M806.9 1038.6 L915.6 998.7 L979.6 1021.8 L870.9 1061.7 Z" fill="#fff" stroke="#262626" stroke-width="1.2" />
<path d="M806.9 1038.6 L870.9 1061.7 L870.9 1118.2 L806.9 1095.1 Z" fill="#fff" stroke="#262626" stroke-width="1.2" />
<path d="M870.9 1061.7 L979.6 1021.8 L979.6 1078.3 L870.9 1118.2 Z" fill="#fff" stroke="#262626" stroke-width="1.2" />
<path d="M788.2 1082.5 L806.9 1075.6 L870.9 1098.7 L852.2 1105.6 Z" fill="#fff" stroke="#262626" stroke-width="1.2" />
<path d="M788.2 1082.5 L852.2 1105.6 L852.2 1125.1 L788.2 1102 Z" fill="#fff" stroke="#262626" stroke-width="1.2" />
<path d="M852.2 1105.6 L870.9 1098.7 L870.9 1118.2 L852.2 1125.1 Z" fill="#fff" stroke="#262626" stroke-width="1.2" />
<path d="M866.8 1110.4 L866.7 1109.7 L866.5 1109 L866.2 1108.4 L865.8 1107.9 L865.2 1107.5 L864.6 1107.3 L863.9 1107.2 L863.2 1107.2 L862.5 1107.4 L861.7 1107.8 L861 1108.2 L860.3 1108.8 L859.7 1109.5 L859.2 1110.3 L858.7 1111.1 L858.4 1111.9 L858.2 1112.8 L858.2 1113.6 L858.2 1114.4 L858.4 1115.1 L858.7 1115.7 L859.2 1116.2 L859.7 1116.6 L860.3 1116.8 L861 1116.9 L861.7 1116.8 L862.5 1116.6 L863.2 1116.3 L863.9 1115.8 L864.6 1115.2 L865.2 1114.5 L865.8 1113.8 L866.2 1113 L866.5 1112.1 L866.7 1111.3 L866.8 1110.4 Z" fill="none" stroke="#262626" stroke-width="1.2" />
<path d="M832.3 1089.1 L832.8 1089.4 L833.3 1089.6 L833.5 1089.9 L833.7 1090.2 L833.7 1090.5 L833.6 1090.8 L833.3 1091.1 L832.9 1091.4 L832.3 1091.6 L831.7 1091.8 L831 1091.9 L830.2 1092 L829.4 1092.1 L828.5 1092.1 L827.7 1092 L826.9 1091.9 L826.2 1091.8 L825.5 1091.6 L825 1091.4 L824.6 1091.1 L824.3 1090.8 L824.1 1090.5 L824.1 1090.2 L824.3 1089.9 L824.5 1089.6 L825 1089.4 L825.5 1089.1 L826.1 1088.9 L826.8 1088.8 L827.6 1088.7 L828.5 1088.6 L829.3 1088.6 L830.1 1088.7 L830.9 1088.8 L831.6 1088.9 L832.3 1089.1 Z" fill="none" stroke="#262626" stroke-width="1.2" />
<path d="M866 1049.8 L866.6 1050 L867.2 1050.1 L867.8 1050.1 L868.5 1050.1 L869.1 1050 L869.6 1049.8 L870 1049.6 L870.3 1049.4 L870.4 1049.2 L870.3 1048.9 L870 1048.7 L869.6 1048.5 L856 1043.6 L855.5 1043.5 L854.9 1043.4 L854.2 1043.4 L853.5 1043.4 L852.9 1043.5 L852.4 1043.6 L852 1043.8 L851.8 1044 L851.7 1044.3 L851.8 1044.5 L852 1044.7 L852.4 1044.9 Z" fill="#fff" stroke="#262626" stroke-width="1.2" />
<path d="M868.6 1042.4 L869.6 1042.7 L870.7 1042.9 L871.9 1042.9 L873.1 1042.9 L874.3 1042.7 L875.2 1042.4 L876 1042.1 L876.4 1041.7 L876.6 1041.2 L876.4 1040.8 L875.9 1040.4 L875.2 1040 L859.5 1034.4 L858.5 1034.1 L857.4 1033.9 L856.2 1033.9 L855 1033.9 L853.8 1034.1 L852.9 1034.4 L852.1 1034.7 L851.7 1035.1 L851.5 1035.6 L851.7 1036 L852.2 1036.4 L852.9 1036.8 Z" fill="#fff" stroke="#262626" stroke-width="1.2" />
<path d="M890.1 1039.8 L891.1 1040.1 L892.2 1040.3 L893.4 1040.3 L894.6 1040.3 L895.7 1040.1 L896.7 1039.8 L897.4 1039.5 L897.9 1039.1 L898 1038.6 L897.9 1038.2 L897.4 1037.8 L896.7 1037.4 L879.8 1031.3 L878.8 1031.1 L877.7 1030.9 L876.5 1030.9 L875.3 1030.9 L874.2 1031.1 L873.2 1031.4 L872.5 1031.7 L872 1032.1 L871.9 1032.6 L872 1033 L872.5 1033.4 L873.3 1033.8 Z" fill="#fff" stroke="#262626" stroke-width="1.2" />
<path d="M896.2 1032.6 L897.1 1032.9 L898.3 1033 L899.5 1033.1 L900.7 1033 L901.8 1032.9 L902.8 1032.6 L903.5 1032.3 L904 1031.8 L904.1 1031.4 L904 1031 L903.5 1030.6 L902.7 1030.2 L885.9 1024.1 L884.9 1023.9 L883.8 1023.7 L882.6 1023.6 L881.4 1023.7 L880.3 1023.9 L879.3 1024.1 L878.6 1024.5 L878.1 1024.9 L877.9 1025.3 L878.1 1025.8 L878.6 1026.2 L879.3 1026.5 Z" fill="#fff" stroke="#262626" stroke-width="1.2" />
<path d="M915.3 1030.5 L916.3 1030.8 L917.4 1030.9 L918.6 1031 L919.8 1030.9 L920.9 1030.8 L921.9 1030.5 L922.6 1030.1 L923.1 1029.7 L923.2 1029.3 L923.1 1028.9 L922.6 1028.4 L921.9 1028.1 L907.3 1022.8 L906.3 1022.6 L905.2 1022.4 L904 1022.4 L902.8 1022.4 L901.7 1022.6 L900.7 1022.9 L900 1023.2 L899.5 1023.6 L899.4 1024.1 L899.5 1024.5 L900 1024.9 L900.7 1025.3 Z" fill="#fff" stroke="#262626" stroke-width="1.2" />
<path d="M921.8 1022.8 L922.8 1023.1 L923.9 1023.3 L925.2 1023.3 L926.4 1023.3 L927.5 1023.1 L928.5 1022.8 L929.2 1022.5 L929.6 1022.1 L929.8 1021.6 L929.6 1021.2 L929.2 1020.8 L928.4 1020.4 L911.4 1014.3 L910.4 1014 L909.3 1013.9 L908.1 1013.8 L906.9 1013.9 L905.7 1014 L904.8 1014.3 L904 1014.6 L903.6 1015.1 L903.4 1015.5 L903.6 1015.9 L904.1 1016.3 L904.8 1016.7 Z" fill="#fff" stroke="#262626" stroke-width="1.2" />
<path d="M936.8 1017.4 L937.4 1017.6 L938 1017.6 L938.6 1017.7 L939.3 1017.6 L939.9 1017.6 L940.4 1017.4 L940.8 1017.2 L941.1 1017 L941.2 1016.8 L941.1 1016.5 L940.8 1016.3 L940.4 1016.1 L925.1 1010.6 L924.6 1010.4 L923.9 1010.3 L923.3 1010.3 L922.6 1010.3 L922 1010.4 L921.5 1010.6 L921.1 1010.8 L920.9 1011 L920.8 1011.2 L920.9 1011.5 L921.1 1011.7 L921.5 1011.9 Z" fill="#fff" stroke="#262626" stroke-width="1.2" />
<path d="M864.4 1025.9 L865.1 1026.2 L865.6 1026.5 L866 1026.9 L866.1 1027.3 L866.1 1027.6 L866 1028 L865.6 1028.3 L865.1 1028.7 L864.5 1029 L863.7 1029.2 L862.8 1029.4 L861.9 1029.5 L860.8 1029.6 L859.8 1029.6 L858.8 1029.5 L857.8 1029.4 L857 1029.2 L856.2 1029 L855.5 1028.7 L855 1028.3 L854.6 1028 L854.4 1027.6 L854.4 1027.3 L854.6 1026.9 L855 1026.5 L855.5 1026.2 L856.1 1025.9 L856.9 1025.7 L857.8 1025.5 L858.7 1025.4 L859.7 1025.3 L860.8 1025.3 L861.8 1025.4 L862.7 1025.5 L863.6 1025.7 L864.4 1025.9 Z" fill="#111" stroke="#262626" stroke-width="0.8" />
<path d="M862.4 1027.1 L862.4 1027.3 L862.3 1027.4 L862.2 1027.5 L862 1027.6 L861.8 1027.7 L861.6 1027.7 L861.3 1027.8 L861.1 1027.8 L860.8 1027.8 L860.5 1027.8 L860.2 1027.8 L860 1027.7 L859.8 1027.7 L859.6 1027.6 L859.4 1027.5 L859.3 1027.4 L859.2 1027.3 L859.2 1027.1 L859.2 1027 L859.3 1026.9 L859.4 1026.8 L859.6 1026.7 L859.8 1026.6 L860 1026.5 L860.2 1026.5 L860.5 1026.5 L860.8 1026.4 L861.1 1026.5 L861.3 1026.5 L861.6 1026.5 L861.8 1026.6 L862 1026.7 L862.2 1026.8 L862.3 1026.9 L862.4 1027 L862.4 1027.1 Z" fill="#fff" stroke="none" stroke-width="1.2" />
<path d="M890.4 1016.3 L891 1016.6 L891.6 1016.9 L891.9 1017.3 L892.1 1017.7 L892.1 1018 L891.9 1018.4 L891.6 1018.7 L891.1 1019.1 L890.4 1019.4 L889.7 1019.6 L888.8 1019.8 L887.8 1019.9 L886.8 1020 L885.8 1020 L884.8 1019.9 L883.8 1019.8 L882.9 1019.6 L882.1 1019.4 L881.5 1019.1 L880.9 1018.8 L880.6 1018.4 L880.4 1018 L880.4 1017.7 L880.6 1017.3 L880.9 1016.9 L881.4 1016.6 L882.1 1016.3 L882.8 1016.1 L883.7 1015.9 L884.7 1015.8 L885.7 1015.7 L886.7 1015.7 L887.7 1015.8 L888.7 1015.9 L889.6 1016.1 L890.4 1016.3 Z" fill="#111" stroke="#262626" stroke-width="0.8" />
<path d="M888.3 1017.5 L888.3 1017.7 L888.2 1017.8 L888.1 1017.9 L888 1018 L887.8 1018.1 L887.5 1018.2 L887.3 1018.2 L887 1018.2 L886.7 1018.2 L886.5 1018.2 L886.2 1018.2 L885.9 1018.2 L885.7 1018.1 L885.5 1018 L885.4 1017.9 L885.2 1017.8 L885.2 1017.7 L885.1 1017.5 L885.2 1017.4 L885.2 1017.3 L885.4 1017.2 L885.5 1017.1 L885.7 1017 L885.9 1016.9 L886.2 1016.9 L886.5 1016.9 L886.7 1016.8 L887 1016.9 L887.3 1016.9 L887.5 1016.9 L887.8 1017 L888 1017.1 L888.1 1017.2 L888.2 1017.3 L888.3 1017.4 L888.3 1017.5 Z" fill="#fff" stroke="none" stroke-width="1.2" />
<path d="M945.3 1025.9 L946 1026.2 L946.5 1026.5 L946.9 1026.9 L947 1027.2 L947 1027.6 L946.9 1028 L946.5 1028.3 L946 1028.7 L945.4 1028.9 L944.6 1029.2 L943.7 1029.4 L942.8 1029.5 L941.7 1029.6 L940.7 1029.6 L939.7 1029.5 L938.8 1029.4 L937.9 1029.2 L937.1 1028.9 L936.4 1028.7 L935.9 1028.3 L935.5 1028 L935.3 1027.6 L935.3 1027.3 L935.5 1026.9 L935.9 1026.5 L936.4 1026.2 L937 1025.9 L937.8 1025.7 L938.7 1025.5 L939.6 1025.4 L940.6 1025.3 L941.7 1025.3 L942.7 1025.4 L943.6 1025.5 L944.5 1025.7 L945.3 1025.9 Z" fill="#111" stroke="#262626" stroke-width="0.8" />
<path d="M943.3 1027.1 L943.3 1027.3 L943.2 1027.4 L943.1 1027.5 L942.9 1027.6 L942.7 1027.7 L942.5 1027.7 L942.2 1027.8 L942 1027.8 L941.7 1027.8 L941.4 1027.8 L941.1 1027.8 L940.9 1027.7 L940.7 1027.7 L940.5 1027.6 L940.3 1027.5 L940.2 1027.4 L940.1 1027.3 L940.1 1027.1 L940.1 1027 L940.2 1026.9 L940.3 1026.8 L940.5 1026.7 L940.7 1026.6 L940.9 1026.5 L941.1 1026.5 L941.4 1026.4 L941.7 1026.4 L942 1026.4 L942.2 1026.5 L942.5 1026.5 L942.7 1026.6 L942.9 1026.7 L943.1 1026.8 L943.2 1026.9 L943.3 1027 L943.3 1027.1 Z" fill="#fff" stroke="none" stroke-width="1.2" />
<path d="M893 1045 L893.7 1045.3 L894.2 1045.7 L894.6 1046 L894.8 1046.4 L894.8 1046.7 L894.6 1047.1 L894.3 1047.5 L893.7 1047.8 L893.1 1048.1 L892.3 1048.3 L891.4 1048.5 L890.5 1048.6 L889.5 1048.7 L888.4 1048.7 L887.4 1048.6 L886.5 1048.5 L885.6 1048.3 L884.8 1048.1 L884.1 1047.8 L883.6 1047.5 L883.2 1047.1 L883.1 1046.7 L883.1 1046.4 L883.2 1046 L883.6 1045.7 L884.1 1045.3 L884.7 1045.1 L885.5 1044.8 L886.4 1044.6 L887.3 1044.5 L888.4 1044.4 L889.4 1044.4 L890.4 1044.5 L891.4 1044.6 L892.2 1044.8 L893 1045 Z" fill="#111" stroke="#262626" stroke-width="0.8" />
<path d="M891 1046.3 L891 1046.4 L890.9 1046.5 L890.8 1046.6 L890.6 1046.7 L890.4 1046.8 L890.2 1046.9 L890 1046.9 L889.7 1046.9 L889.4 1047 L889.1 1046.9 L888.9 1046.9 L888.6 1046.9 L888.4 1046.8 L888.2 1046.7 L888 1046.6 L887.9 1046.5 L887.8 1046.4 L887.8 1046.3 L887.8 1046.1 L887.9 1046 L888 1045.9 L888.2 1045.8 L888.4 1045.7 L888.6 1045.7 L888.9 1045.6 L889.1 1045.6 L889.4 1045.6 L889.7 1045.6 L890 1045.6 L890.2 1045.7 L890.4 1045.7 L890.6 1045.8 L890.8 1045.9 L890.9 1046 L891 1046.1 L891 1046.3 Z" fill="#fff" stroke="none" stroke-width="1.2" />
<path d="M909.3 1067.6 L909.2 1065.7 L908.8 1063.9 L908.1 1062.3 L907.2 1061 L906.1 1060 L904.9 1059.3 L903.4 1059 L901.9 1059 L900.4 1059.4 L898.9 1060.1 L897.4 1061.2 L895.9 1062.6 L894.7 1064.2 L893.6 1066 L892.7 1068 L892 1070 L891.6 1072.1 L891.5 1074.2 L891.6 1076.1 L892 1077.9 L892.7 1079.5 L893.6 1080.8 L894.7 1081.8 L895.9 1082.5 L897.4 1082.8 L898.9 1082.8 L900.4 1082.4 L901.9 1081.7 L903.4 1080.6 L904.9 1079.2 L906.1 1077.6 L907.2 1075.8 L908.1 1073.8 L908.8 1071.8 L909.2 1069.7 L909.3 1067.6 Z" fill="url(#gport)" stroke="#262626" stroke-width="1.5" />
<path d="M940.1 1073.5 L940 1071.6 L939.6 1069.8 L938.9 1068.2 L938 1066.9 L936.9 1065.9 L935.7 1065.2 L934.2 1064.9 L932.7 1064.9 L931.2 1065.3 L929.7 1066 L928.2 1067.1 L926.7 1068.5 L925.5 1070.1 L924.4 1071.9 L923.5 1073.9 L922.8 1075.9 L922.4 1078 L922.3 1080.1 L922.4 1082 L922.8 1083.8 L923.5 1085.4 L924.4 1086.7 L925.5 1087.7 L926.7 1088.4 L928.2 1088.7 L929.7 1088.7 L931.2 1088.3 L932.7 1087.6 L934.2 1086.5 L935.7 1085.1 L936.9 1083.5 L938 1081.7 L938.9 1079.7 L939.6 1077.7 L940 1075.6 L940.1 1073.5 Z" fill="url(#gport)" stroke="#262626" stroke-width="1.5" />
<path d="M971.6 1044.9 L971.5 1043 L971.1 1041.2 L970.4 1039.6 L969.5 1038.3 L968.4 1037.3 L967.2 1036.6 L965.7 1036.3 L964.2 1036.3 L962.7 1036.7 L961.2 1037.4 L959.7 1038.5 L958.2 1039.9 L957 1041.5 L955.9 1043.3 L955 1045.3 L954.3 1047.3 L953.9 1049.4 L953.8 1051.5 L953.9 1053.4 L954.3 1055.2 L955 1056.8 L955.9 1058.1 L957 1059.1 L958.2 1059.8 L959.7 1060.1 L961.2 1060.1 L962.7 1059.7 L964.2 1059 L965.7 1057.9 L967.2 1056.5 L968.4 1054.9 L969.5 1053.1 L970.4 1051.1 L971.1 1049.1 L971.5 1047 L971.6 1044.9 Z" fill="url(#gport)" stroke="#262626" stroke-width="1.5" />
<path d="M885.8 1096.5 L875.7 1179.6" fill="none" stroke="#262626" stroke-width="0.9" stroke-dasharray="5 1.5"/>
<circle cx="885.8" cy="1096.5" r="2.1" fill="#111"/>
<path d="M688 1018 L647 1162" fill="none" stroke="#262626" stroke-width="0.9" />
<circle cx="688" cy="1018" r="2.1" fill="#111"/>
<path d="M161.2 265.8 L190.5 205.5" fill="none" stroke="#262626" stroke-width="0.9" />
<circle cx="161.2" cy="265.8" r="2.1" fill="#111"/>
<path d="M395.2 343.2 L421 243.5" fill="none" stroke="#262626" stroke-width="0.9" />
<circle cx="395.2" cy="343.2" r="2.1" fill="#111"/>
<path d="M581.2 221.9 L619 159" fill="none" stroke="#262626" stroke-width="0.9" />
<circle cx="581.2" cy="221.9" r="2.1" fill="#111"/>
<path d="M659.5 463 L715.5 360.5" fill="none" stroke="#262626" stroke-width="0.9" />
<circle cx="659.5" cy="463" r="2.1" fill="#111"/>
<path d="M1185.7 378.7 L1201.5 271.5" fill="none" stroke="#262626" stroke-width="0.9" stroke-dasharray="5 1.5"/>
<circle cx="1185.7" cy="378.7" r="2.1" fill="#111"/>
<path d="M1368.8 450.5 L1369.2 343" fill="none" stroke="#262626" stroke-width="0.9" stroke-dasharray="5 1.5"/>
<circle cx="1368.8" cy="450.5" r="2.1" fill="#111"/>
<path d="M235.2 542.5 L230.3 635.5" fill="none" stroke="#262626" stroke-width="0.9" stroke-dasharray="5 1.5"/>
<circle cx="235.2" cy="542.5" r="2.1" fill="#111"/>
<path d="M674.3 592.7 L571.5 720.8" fill="none" stroke="#262626" stroke-width="0.9" />
<circle cx="674.3" cy="592.7" r="2.1" fill="#111"/>
<path d="M682.8 777.9 L571.3 723.5" fill="none" stroke="#262626" stroke-width="0.9" />
<circle cx="682.8" cy="777.9" r="2.1" fill="#111"/>
<path d="M887.7 695.4 L836.5 887" fill="none" stroke="#262626" stroke-width="0.9" />
<circle cx="887.7" cy="695.4" r="2.1" fill="#111"/>
<path d="M1186.2 778 L1231 876.5" fill="none" stroke="#262626" stroke-width="0.9" />
<circle cx="1186.2" cy="778" r="2.1" fill="#111"/>
<circle cx="198.2" cy="190.3" r="16.5" fill="#fff" stroke="#262626" stroke-width="1"/>
<text x="198.2" y="198.4" font-size="23" text-anchor="middle" fill="#111" filter="url(#gray)" >3</text>
<circle cx="425" cy="227" r="16.5" fill="#fff" stroke="#262626" stroke-width="1"/>
<text x="425" y="235.1" font-size="23" text-anchor="middle" fill="#111" filter="url(#gray)" >10</text>
<circle cx="628.6" cy="144.8" r="16.5" fill="#fff" stroke="#262626" stroke-width="1"/>
<text x="628.6" y="152.9" font-size="23" text-anchor="middle" fill="#111" filter="url(#gray)" >8</text>
<circle cx="724" cy="345.9" r="16.5" fill="#fff" stroke="#262626" stroke-width="1"/>
<text x="724" y="353.9" font-size="23" text-anchor="middle" fill="#111" filter="url(#gray)" >1</text>
<circle cx="1203.1" cy="254.5" r="16.5" fill="#fff" stroke="#262626" stroke-width="1"/>
<text x="1203.1" y="262.6" font-size="23" text-anchor="middle" fill="#111" filter="url(#gray)" >7</text>
<circle cx="1369.5" cy="326.5" r="16.5" fill="#fff" stroke="#262626" stroke-width="1"/>
<text x="1369.5" y="334.6" font-size="23" text-anchor="middle" fill="#111" filter="url(#gray)" >5</text>
<circle cx="230.6" cy="652.3" r="16.5" fill="#fff" stroke="#262626" stroke-width="1"/>
<text x="230.6" y="660.3" font-size="23" text-anchor="middle" fill="#111" filter="url(#gray)" >13</text>
<circle cx="553.9" cy="724.8" r="16.5" fill="#fff" stroke="#262626" stroke-width="1"/>
<text x="553.9" y="732.8" font-size="23" text-anchor="middle" fill="#111" filter="url(#gray)" >2</text>
<circle cx="832" cy="903" r="16.5" fill="#fff" stroke="#262626" stroke-width="1"/>
<text x="832" y="911" font-size="23" text-anchor="middle" fill="#111" filter="url(#gray)" >6</text>
<circle cx="1238.4" cy="891.4" r="16.5" fill="#fff" stroke="#262626" stroke-width="1"/>
<text x="1238.4" y="899.4" font-size="23" text-anchor="middle" fill="#111" filter="url(#gray)" >4</text>
<circle cx="641" cy="1178.2" r="16.5" fill="#fff" stroke="#262626" stroke-width="1"/>
<text x="641" y="1186.2" font-size="23" text-anchor="middle" fill="#111" filter="url(#gray)" >12</text>
<circle cx="875.2" cy="1196" r="16.5" fill="#fff" stroke="#262626" stroke-width="1"/>
<text x="875.2" y="1204" font-size="23" text-anchor="middle" fill="#111" filter="url(#gray)" >11</text>
</svg>
</body></html>
